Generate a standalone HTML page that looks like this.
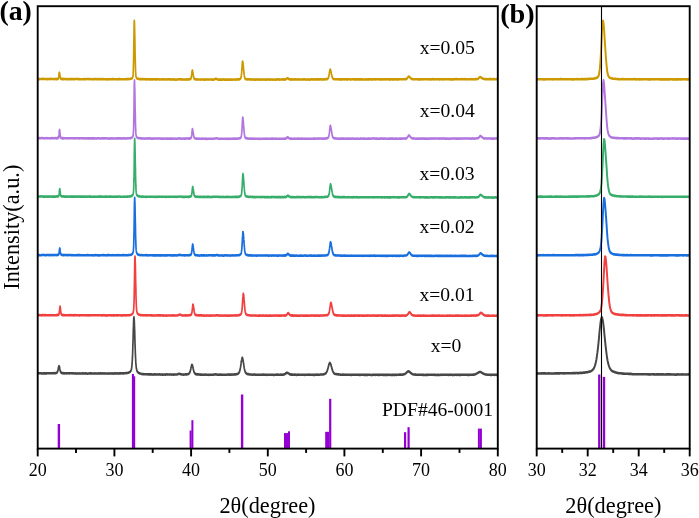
<!DOCTYPE html>
<html><head><meta charset="utf-8"><title>XRD</title><style>html,body{margin:0;padding:0;background:#fff}svg{display:block}</style></head><body>
<svg width="699" height="518" viewBox="0 0 699 518">
<rect width="699" height="518" fill="#fff"/>
<rect x="57.7" y="424.0" width="2.4" height="24.6" fill="#9400D3"/>
<rect x="131.9" y="374.0" width="2.1" height="74.6" fill="#9400D3"/>
<rect x="133.9" y="376.3" width="1.3" height="72.3" fill="#9400D3"/>
<rect x="189.6" y="430.5" width="2.0" height="18.1" fill="#9400D3"/>
<rect x="191.4" y="420.2" width="2.0" height="28.4" fill="#9400D3"/>
<rect x="240.9" y="394.5" width="2.4" height="54.1" fill="#9400D3"/>
<rect x="284.0" y="433.1" width="2.0" height="15.5" fill="#9400D3"/>
<rect x="286.0" y="433.1" width="2.0" height="15.5" fill="#9400D3"/>
<rect x="288.0" y="431.3" width="2.0" height="17.3" fill="#9400D3"/>
<rect x="325.2" y="431.8" width="2.0" height="16.8" fill="#9400D3"/>
<rect x="327.0" y="431.8" width="2.0" height="16.8" fill="#9400D3"/>
<rect x="329.1" y="398.8" width="2.2" height="49.8" fill="#9400D3"/>
<rect x="404.0" y="432.2" width="2.2" height="16.4" fill="#9400D3"/>
<rect x="407.5" y="427.2" width="2.2" height="21.4" fill="#9400D3"/>
<rect x="477.9" y="428.6" width="2.0" height="20.0" fill="#9400D3"/>
<rect x="479.9" y="428.6" width="2.0" height="20.0" fill="#9400D3"/>
<rect x="598.1" y="374.5" width="2.3" height="74.1" fill="#9400D3"/>
<rect x="602.8" y="376.9" width="2.4" height="71.7" fill="#9400D3"/>
<g transform="scale(0.650,1)"><path d="M58.0,373.4 L58.5,373.3 L58.9,373.3 L59.4,373.3 L59.9,373.3 L60.4,373.3 L60.8,373.3 L61.3,373.3 L61.8,373.3 L62.2,373.3 L62.7,373.3 L63.2,373.3 L63.7,373.4 L64.1,373.4 L64.6,373.5 L65.1,373.5 L65.6,373.5 L66.0,373.4 L66.5,373.4 L67.0,373.3 L67.4,373.4 L67.9,373.4 L68.4,373.4 L68.9,373.4 L69.3,373.4 L69.8,373.4 L70.3,373.4 L70.7,373.4 L71.2,373.4 L71.7,373.4 L72.2,373.3 L72.6,373.3 L73.1,373.3 L73.6,373.3 L74.0,373.3 L74.5,373.3 L75.0,373.3 L75.5,373.3 L75.9,373.3 L76.4,373.3 L76.9,373.3 L77.3,373.3 L77.8,373.3 L78.3,373.3 L78.8,373.2 L79.2,373.2 L79.7,373.2 L80.2,373.3 L80.7,373.3 L81.1,373.2 L81.6,373.2 L82.1,373.2 L82.5,373.2 L83.0,373.1 L83.5,373.1 L84.0,373.2 L84.4,373.2 L84.9,373.2 L85.0,373.2 L85.1,373.2 L85.3,373.2 L85.4,373.1 L85.5,373.1 L85.6,373.1 L85.7,373.1 L85.8,373.1 L86.0,373.1 L86.1,373.1 L86.2,373.1 L86.3,373.0 L86.4,372.9 L86.5,372.9 L86.7,372.9 L86.8,372.9 L86.9,372.9 L87.0,372.8 L87.1,372.8 L87.3,372.8 L87.4,372.7 L87.5,372.7 L87.6,372.6 L87.7,372.6 L87.8,372.5 L88.0,372.3 L88.1,372.1 L88.2,372.0 L88.3,371.9 L88.4,371.7 L88.6,371.5 L88.7,371.3 L88.8,371.0 L88.9,370.8 L89.0,370.6 L89.1,370.3 L89.3,370.0 L89.4,369.7 L89.5,369.3 L89.6,368.8 L89.7,368.3 L89.9,367.9 L90.0,367.5 L90.1,367.2 L90.2,366.9 L90.3,366.5 L90.4,366.3 L90.6,366.1 L90.7,366.0 L90.8,366.0 L90.9,366.0 L91.0,366.2 L91.2,366.3 L91.3,366.6 L91.4,366.8 L91.5,367.1 L91.6,367.5 L91.7,367.8 L91.9,368.2 L92.0,368.7 L92.1,369.1 L92.2,369.5 L92.3,369.9 L92.4,370.2 L92.6,370.5 L92.7,370.8 L92.8,371.1 L92.9,371.3 L93.0,371.5 L93.2,371.7 L93.3,371.9 L93.4,372.0 L93.5,372.1 L93.6,372.2 L93.7,372.3 L93.9,372.5 L94.0,372.6 L94.1,372.7 L94.2,372.7 L94.3,372.8 L94.5,372.8 L94.6,372.9 L94.7,373.0 L94.8,373.0 L94.9,372.9 L95.0,372.9 L95.2,372.9 L95.3,373.0 L95.4,373.1 L95.5,373.1 L95.6,373.1 L95.8,373.1 L95.9,373.1 L96.0,373.2 L96.1,373.2 L96.2,373.2 L96.3,373.1 L96.5,373.2 L96.6,373.2 L96.7,373.2 L96.8,373.2 L96.9,373.2 L97.0,373.3 L97.2,373.3 L97.3,373.3 L97.4,373.2 L97.5,373.2 L97.6,373.2 L97.8,373.3 L97.9,373.2 L98.1,373.3 L98.6,373.3 L99.1,373.4 L99.5,373.3 L100.0,373.3 L100.5,373.3 L100.9,373.3 L101.4,373.3 L101.9,373.3 L102.4,373.4 L102.8,373.3 L103.3,373.3 L103.8,373.3 L104.2,373.3 L104.7,373.3 L105.2,373.3 L105.7,373.3 L106.1,373.4 L106.6,373.4 L107.1,373.3 L107.5,373.3 L108.0,373.3 L108.5,373.3 L109.0,373.3 L109.4,373.3 L109.9,373.3 L110.4,373.3 L110.9,373.3 L111.3,373.4 L111.8,373.3 L112.3,373.3 L112.7,373.2 L113.2,373.2 L113.7,373.3 L114.2,373.4 L114.6,373.5 L115.1,373.5 L115.6,373.4 L116.0,373.4 L116.5,373.5 L117.0,373.5 L117.5,373.5 L117.9,373.5 L118.4,373.4 L118.9,373.4 L119.3,373.5 L119.8,373.5 L120.3,373.5 L120.8,373.5 L121.2,373.5 L121.7,373.5 L122.2,373.5 L122.6,373.4 L123.1,373.4 L123.6,373.5 L124.1,373.5 L124.5,373.5 L125.0,373.5 L125.5,373.5 L126.0,373.5 L126.4,373.4 L126.9,373.4 L127.4,373.3 L127.8,373.4 L128.3,373.4 L128.8,373.5 L129.3,373.5 L129.7,373.5 L130.2,373.5 L130.7,373.4 L131.1,373.4 L131.6,373.4 L132.1,373.4 L132.6,373.4 L133.0,373.5 L133.5,373.6 L134.0,373.7 L134.4,373.7 L134.9,373.7 L135.4,373.6 L135.9,373.5 L136.3,373.5 L136.8,373.5 L137.3,373.5 L137.8,373.4 L138.2,373.4 L138.7,373.4 L139.2,373.4 L139.6,373.4 L140.1,373.4 L140.6,373.4 L141.1,373.4 L141.5,373.5 L142.0,373.5 L142.5,373.5 L142.9,373.5 L143.4,373.5 L143.9,373.5 L144.4,373.5 L144.8,373.5 L145.3,373.4 L145.8,373.4 L146.2,373.4 L146.7,373.5 L147.2,373.5 L147.7,373.6 L148.1,373.5 L148.6,373.5 L149.1,373.5 L149.5,373.5 L150.0,373.5 L150.5,373.5 L151.0,373.4 L151.4,373.4 L151.9,373.4 L152.4,373.4 L152.9,373.5 L153.3,373.5 L153.8,373.5 L154.3,373.4 L154.7,373.4 L155.2,373.4 L155.7,373.4 L156.2,373.4 L156.6,373.5 L157.1,373.5 L157.6,373.5 L158.0,373.4 L158.5,373.4 L159.0,373.4 L159.5,373.5 L159.9,373.5 L160.4,373.5 L160.9,373.4 L161.3,373.4 L161.8,373.5 L162.3,373.5 L162.8,373.5 L163.2,373.5 L163.7,373.5 L164.2,373.5 L164.6,373.5 L165.1,373.5 L165.6,373.5 L166.1,373.6 L166.5,373.6 L167.0,373.5 L167.5,373.5 L168.0,373.5 L168.4,373.4 L168.9,373.4 L169.4,373.5 L169.8,373.5 L170.3,373.5 L170.8,373.5 L171.3,373.5 L171.7,373.4 L172.2,373.4 L172.7,373.4 L173.1,373.5 L173.6,373.6 L174.1,373.6 L174.6,373.6 L175.0,373.5 L175.5,373.5 L176.0,373.4 L176.4,373.4 L176.9,373.4 L177.4,373.3 L177.9,373.3 L178.3,373.4 L178.8,373.4 L179.3,373.5 L179.7,373.5 L180.2,373.4 L180.7,373.4 L181.2,373.4 L181.6,373.5 L182.1,373.5 L182.6,373.5 L183.1,373.4 L183.5,373.4 L184.0,373.4 L184.5,373.4 L184.9,373.4 L185.4,373.4 L185.9,373.4 L186.4,373.3 L186.8,373.3 L187.3,373.2 L187.8,373.3 L188.2,373.3 L188.7,373.4 L189.2,373.4 L189.7,373.4 L190.1,373.4 L190.6,373.3 L191.1,373.3 L191.5,373.3 L192.0,373.3 L192.5,373.3 L193.0,373.2 L193.4,373.1 L193.9,373.0 L194.4,373.0 L194.9,373.1 L195.3,373.1 L195.8,373.0 L196.3,373.0 L196.7,372.9 L197.2,372.8 L197.7,372.7 L198.2,372.5 L198.6,372.4 L199.1,372.2 L199.6,372.1 L200.0,371.9 L200.2,371.8 L200.3,371.8 L200.4,371.7 L200.5,371.7 L200.5,371.6 L200.7,371.5 L200.8,371.3 L200.9,371.2 L201.0,371.2 L201.0,371.2 L201.1,371.1 L201.3,370.9 L201.4,370.7 L201.5,370.6 L201.5,370.5 L201.6,370.4 L201.7,370.2 L201.8,370.0 L201.9,369.8 L202.0,369.7 L202.1,369.4 L202.2,369.0 L202.3,368.6 L202.4,368.3 L202.4,368.2 L202.6,367.7 L202.7,367.2 L202.8,366.5 L202.9,366.0 L202.9,365.7 L203.0,365.0 L203.1,364.2 L203.3,363.2 L203.3,362.4 L203.4,362.0 L203.5,360.7 L203.6,359.3 L203.7,357.8 L203.8,356.6 L203.9,356.1 L204.0,354.3 L204.1,352.3 L204.2,350.1 L204.3,348.6 L204.3,347.9 L204.4,345.5 L204.6,342.9 L204.7,340.3 L204.8,338.4 L204.8,337.6 L204.9,334.9 L205.0,332.2 L205.1,329.5 L205.2,327.7 L205.3,326.9 L205.4,324.5 L205.5,322.4 L205.6,320.6 L205.7,319.6 L205.7,319.2 L205.9,318.1 L206.0,317.4 L206.1,317.2 L206.2,317.3 L206.2,317.5 L206.3,318.1 L206.4,319.1 L206.6,320.4 L206.6,321.6 L206.7,322.1 L206.8,324.1 L206.9,326.2 L207.0,328.6 L207.1,330.3 L207.2,331.0 L207.3,333.5 L207.4,336.1 L207.5,338.7 L207.6,340.5 L207.6,341.3 L207.7,343.8 L207.9,346.2 L208.0,348.5 L208.1,350.0 L208.1,350.7 L208.2,352.7 L208.3,354.7 L208.5,356.5 L208.5,357.7 L208.6,358.0 L208.7,359.5 L208.8,360.9 L208.9,362.2 L209.0,362.9 L209.0,363.2 L209.2,364.3 L209.3,365.2 L209.4,366.1 L209.5,366.7 L209.5,366.8 L209.6,367.4 L209.8,367.9 L209.9,368.5 L210.0,368.8 L210.0,368.9 L210.1,369.3 L210.2,369.7 L210.3,370.0 L210.4,370.2 L210.5,370.2 L210.6,370.5 L210.7,370.7 L210.8,370.9 L210.9,371.0 L210.9,371.0 L211.0,371.1 L211.2,371.4 L211.3,371.6 L211.4,371.7 L211.4,371.7 L211.5,371.8 L211.6,371.8 L211.8,372.0 L211.8,372.0 L211.9,372.0 L212.0,372.0 L212.1,372.1 L212.2,372.1 L212.3,372.3 L212.3,372.4 L212.5,372.5 L212.6,372.5 L212.7,372.6 L212.8,372.6 L212.8,372.6 L212.9,372.7 L213.1,372.7 L213.2,372.8 L213.3,372.8 L213.7,373.1 L214.2,373.2 L214.7,373.3 L215.1,373.4 L215.6,373.5 L216.1,373.6 L216.6,373.7 L217.0,373.8 L217.5,373.9 L218.0,374.0 L218.4,374.0 L218.9,374.1 L219.4,374.1 L219.9,374.1 L220.3,374.1 L220.8,374.2 L221.3,374.2 L221.7,374.3 L222.2,374.3 L222.7,374.3 L223.2,374.3 L223.6,374.3 L224.1,374.3 L224.6,374.3 L225.1,374.3 L225.5,374.3 L226.0,374.3 L226.5,374.4 L226.9,374.3 L227.4,374.3 L227.9,374.3 L228.4,374.4 L228.8,374.4 L229.3,374.4 L229.8,374.3 L230.2,374.4 L230.7,374.4 L231.2,374.4 L231.7,374.4 L232.1,374.3 L232.6,374.3 L233.1,374.4 L233.5,374.4 L234.0,374.5 L234.5,374.5 L235.0,374.6 L235.4,374.6 L235.9,374.6 L236.4,374.5 L236.8,374.5 L237.3,374.4 L237.8,374.4 L238.3,374.4 L238.7,374.3 L239.2,374.3 L239.7,374.4 L240.2,374.5 L240.6,374.6 L241.1,374.5 L241.6,374.5 L242.0,374.4 L242.5,374.4 L243.0,374.5 L243.5,374.5 L243.9,374.5 L244.4,374.4 L244.9,374.4 L245.3,374.4 L245.8,374.4 L246.3,374.5 L246.8,374.5 L247.2,374.6 L247.7,374.6 L248.2,374.5 L248.6,374.5 L249.1,374.6 L249.6,374.6 L250.1,374.6 L250.5,374.7 L251.0,374.7 L251.5,374.7 L251.9,374.6 L252.4,374.5 L252.9,374.5 L253.4,374.5 L253.8,374.6 L254.3,374.6 L254.8,374.6 L255.3,374.6 L255.7,374.5 L256.2,374.4 L256.7,374.4 L257.1,374.4 L257.6,374.4 L258.1,374.5 L258.6,374.5 L259.0,374.5 L259.5,374.5 L260.0,374.5 L260.4,374.4 L260.9,374.5 L261.4,374.5 L261.9,374.5 L262.3,374.5 L262.8,374.5 L263.3,374.5 L263.7,374.6 L264.2,374.6 L264.7,374.5 L265.2,374.5 L265.6,374.5 L266.1,374.6 L266.6,374.6 L267.1,374.6 L267.5,374.6 L268.0,374.6 L268.5,374.5 L268.9,374.5 L269.4,374.5 L269.9,374.5 L270.4,374.5 L270.8,374.5 L271.3,374.5 L271.8,374.5 L272.2,374.5 L272.7,374.4 L273.2,374.3 L273.7,374.1 L274.1,374.0 L274.6,373.9 L275.1,373.8 L275.5,373.8 L276.0,373.8 L276.5,374.0 L277.0,374.1 L277.4,374.1 L277.9,374.2 L278.4,374.2 L278.8,374.3 L279.3,374.4 L279.8,374.4 L280.3,374.5 L280.7,374.5 L281.2,374.5 L281.7,374.6 L282.2,374.6 L282.6,374.6 L283.1,374.6 L283.6,374.5 L284.0,374.5 L284.5,374.5 L285.0,374.4 L285.5,374.4 L285.9,374.4 L286.4,374.4 L286.9,374.4 L287.3,374.4 L287.8,374.3 L288.3,374.2 L288.8,374.2 L289.2,374.2 L289.5,374.1 L289.6,374.1 L289.7,374.1 L289.8,374.1 L289.9,374.0 L290.1,373.9 L290.2,373.8 L290.3,373.7 L290.4,373.7 L290.5,373.7 L290.6,373.6 L290.8,373.6 L290.9,373.5 L291.0,373.4 L291.1,373.3 L291.2,373.2 L291.4,373.1 L291.5,373.0 L291.6,372.8 L291.7,372.7 L291.8,372.7 L291.9,372.6 L292.1,372.4 L292.2,372.2 L292.3,371.9 L292.4,371.7 L292.5,371.5 L292.7,371.3 L292.8,371.0 L292.9,370.8 L293.0,370.4 L293.1,370.2 L293.2,369.8 L293.4,369.5 L293.5,369.0 L293.6,368.6 L293.7,368.1 L293.8,367.8 L293.9,367.5 L294.1,367.3 L294.2,366.9 L294.3,366.6 L294.4,366.2 L294.5,365.9 L294.7,365.6 L294.8,365.3 L294.9,365.1 L295.0,364.9 L295.1,364.8 L295.2,364.7 L295.4,364.7 L295.5,364.8 L295.6,364.9 L295.7,365.0 L295.8,365.0 L296.0,365.1 L296.1,365.2 L296.2,365.5 L296.3,365.9 L296.4,366.2 L296.5,366.6 L296.7,366.9 L296.8,367.3 L296.9,367.7 L297.0,368.0 L297.1,368.4 L297.3,368.8 L297.4,369.1 L297.5,369.4 L297.6,369.7 L297.7,370.0 L297.8,370.4 L298.0,370.7 L298.1,371.0 L298.2,371.3 L298.3,371.5 L298.4,371.7 L298.5,371.9 L298.7,372.1 L298.8,372.3 L298.9,372.5 L299.0,372.7 L299.1,372.8 L299.3,373.0 L299.4,373.2 L299.5,373.3 L299.6,373.4 L299.7,373.4 L299.8,373.4 L300.0,373.5 L300.1,373.6 L300.2,373.7 L300.3,373.8 L300.4,373.8 L300.6,373.9 L300.7,374.0 L300.8,374.1 L300.9,374.1 L301.0,374.2 L301.1,374.1 L301.3,374.1 L301.4,374.0 L301.5,374.1 L301.6,374.2 L301.7,374.3 L301.9,374.3 L302.0,374.3 L302.1,374.3 L302.2,374.3 L302.3,374.3 L302.4,374.4 L302.9,374.4 L303.4,374.4 L303.9,374.4 L304.3,374.4 L304.8,374.4 L305.3,374.4 L305.7,374.4 L306.2,374.4 L306.7,374.5 L307.2,374.6 L307.6,374.6 L308.1,374.6 L308.6,374.6 L309.0,374.6 L309.5,374.6 L310.0,374.6 L310.5,374.6 L310.9,374.7 L311.4,374.7 L311.9,374.7 L312.4,374.7 L312.8,374.7 L313.3,374.7 L313.8,374.7 L314.2,374.7 L314.7,374.7 L315.2,374.6 L315.7,374.6 L316.1,374.5 L316.6,374.6 L317.1,374.7 L317.5,374.7 L318.0,374.7 L318.5,374.7 L319.0,374.7 L319.4,374.8 L319.9,374.8 L320.4,374.8 L320.8,374.8 L321.3,374.9 L321.8,374.8 L322.3,374.8 L322.7,374.8 L323.2,374.8 L323.7,374.8 L324.2,374.7 L324.6,374.7 L325.1,374.7 L325.6,374.7 L326.0,374.7 L326.5,374.7 L327.0,374.8 L327.5,374.8 L327.9,374.7 L328.4,374.6 L328.9,374.6 L329.3,374.5 L329.8,374.5 L330.3,374.5 L330.8,374.4 L331.2,374.4 L331.7,374.3 L332.2,374.3 L332.6,374.4 L333.1,374.5 L333.6,374.6 L334.1,374.6 L334.5,374.7 L335.0,374.8 L335.5,374.8 L335.9,374.7 L336.4,374.7 L336.9,374.6 L337.4,374.7 L337.8,374.7 L338.3,374.7 L338.8,374.6 L339.3,374.6 L339.7,374.6 L340.2,374.6 L340.7,374.7 L341.1,374.7 L341.6,374.7 L342.1,374.7 L342.6,374.7 L343.0,374.7 L343.5,374.7 L344.0,374.7 L344.4,374.7 L344.9,374.7 L345.4,374.8 L345.9,374.8 L346.3,374.7 L346.8,374.7 L347.3,374.7 L347.7,374.7 L348.2,374.7 L348.7,374.7 L349.2,374.7 L349.6,374.7 L350.1,374.6 L350.6,374.5 L351.0,374.5 L351.5,374.6 L352.0,374.6 L352.5,374.6 L352.9,374.6 L353.4,374.6 L353.9,374.6 L354.4,374.6 L354.8,374.6 L355.3,374.5 L355.8,374.6 L356.2,374.6 L356.7,374.6 L357.2,374.5 L357.7,374.5 L358.1,374.6 L358.6,374.6 L359.1,374.6 L359.5,374.5 L360.0,374.5 L360.5,374.4 L361.0,374.4 L361.4,374.4 L361.9,374.4 L362.4,374.4 L362.8,374.3 L363.3,374.2 L363.8,374.2 L364.3,374.1 L364.7,374.1 L365.2,374.0 L365.7,373.9 L366.1,373.7 L366.6,373.6 L366.9,373.4 L367.0,373.3 L367.1,373.2 L367.2,373.1 L367.3,373.0 L367.4,372.9 L367.6,372.9 L367.7,372.7 L367.8,372.6 L367.9,372.5 L368.0,372.4 L368.2,372.2 L368.3,372.0 L368.4,371.8 L368.5,371.6 L368.6,371.3 L368.7,371.0 L368.9,370.8 L369.0,370.4 L369.1,370.2 L369.2,369.8 L369.3,369.6 L369.5,369.2 L369.6,368.8 L369.7,368.4 L369.8,368.1 L369.9,367.7 L370.0,367.3 L370.2,366.8 L370.3,366.2 L370.4,365.7 L370.5,365.2 L370.6,364.7 L370.8,364.1 L370.9,363.6 L371.0,363.1 L371.1,362.6 L371.2,362.1 L371.3,361.5 L371.5,361.0 L371.6,360.5 L371.7,360.1 L371.8,359.6 L371.9,359.3 L372.0,358.9 L372.2,358.6 L372.3,358.3 L372.4,358.0 L372.5,357.8 L372.6,357.8 L372.8,357.7 L372.9,357.8 L373.0,357.9 L373.1,358.0 L373.2,358.2 L373.3,358.5 L373.5,358.8 L373.6,359.1 L373.7,359.5 L373.8,359.9 L373.9,360.3 L374.1,360.7 L374.2,361.2 L374.3,361.7 L374.4,362.2 L374.5,362.7 L374.6,363.1 L374.8,363.6 L374.9,364.1 L375.0,364.6 L375.1,365.2 L375.2,365.7 L375.4,366.3 L375.5,366.7 L375.6,367.2 L375.7,367.7 L375.8,368.1 L375.9,368.6 L376.1,369.0 L376.2,369.4 L376.3,369.7 L376.4,370.0 L376.5,370.3 L376.6,370.6 L376.8,370.9 L376.9,371.2 L377.0,371.5 L377.1,371.7 L377.2,371.9 L377.4,372.0 L377.5,372.1 L377.6,372.3 L377.7,372.4 L377.8,372.6 L377.9,372.7 L378.1,372.8 L378.2,372.9 L378.3,372.9 L378.4,373.0 L378.5,373.1 L378.7,373.3 L378.8,373.4 L378.9,373.4 L379.0,373.5 L379.1,373.5 L379.2,373.5 L379.4,373.6 L379.5,373.7 L379.6,373.8 L379.7,373.8 L379.8,373.8 L380.3,374.0 L380.8,374.1 L381.2,374.2 L381.7,374.1 L382.2,374.1 L382.7,374.2 L383.1,374.4 L383.6,374.4 L384.1,374.5 L384.6,374.5 L385.0,374.5 L385.5,374.5 L386.0,374.5 L386.4,374.5 L386.9,374.6 L387.4,374.7 L387.9,374.8 L388.3,374.8 L388.8,374.7 L389.3,374.7 L389.7,374.6 L390.2,374.5 L390.7,374.5 L391.2,374.5 L391.6,374.6 L392.1,374.6 L392.6,374.6 L393.0,374.7 L393.5,374.8 L394.0,374.8 L394.5,374.8 L394.9,374.8 L395.4,374.8 L395.9,374.8 L396.4,374.8 L396.8,374.7 L397.3,374.7 L397.8,374.7 L398.2,374.7 L398.7,374.7 L399.2,374.8 L399.7,374.8 L400.1,374.8 L400.6,374.8 L401.1,374.8 L401.5,374.8 L402.0,374.8 L402.5,374.7 L403.0,374.7 L403.4,374.7 L403.9,374.6 L404.4,374.6 L404.8,374.7 L405.3,374.7 L405.8,374.6 L406.3,374.6 L406.7,374.7 L407.2,374.8 L407.7,374.8 L408.1,374.8 L408.6,374.8 L409.1,374.8 L409.6,374.8 L410.0,374.8 L410.5,374.9 L411.0,374.8 L411.5,374.8 L411.9,374.8 L412.4,374.7 L412.9,374.7 L413.3,374.7 L413.8,374.7 L414.3,374.8 L414.8,374.8 L415.2,374.8 L415.7,374.8 L416.2,374.8 L416.6,374.7 L417.1,374.8 L417.6,374.8 L418.1,374.8 L418.5,374.8 L419.0,374.8 L419.5,374.8 L419.9,374.8 L420.4,374.9 L420.9,374.9 L421.4,375.0 L421.8,374.9 L422.3,374.8 L422.8,374.7 L423.2,374.8 L423.7,374.8 L424.2,374.8 L424.7,374.7 L425.1,374.7 L425.6,374.6 L426.1,374.6 L426.6,374.6 L427.0,374.6 L427.5,374.6 L428.0,374.7 L428.4,374.7 L428.9,374.8 L429.4,374.8 L429.9,374.8 L430.3,374.8 L430.8,374.7 L431.3,374.7 L431.7,374.6 L432.2,374.7 L432.7,374.7 L433.2,374.7 L433.6,374.6 L434.1,374.6 L434.6,374.7 L435.0,374.7 L435.5,374.7 L435.8,374.7 L435.9,374.6 L436.0,374.6 L436.1,374.6 L436.2,374.6 L436.3,374.5 L436.5,374.5 L436.6,374.5 L436.7,374.5 L436.8,374.5 L436.9,374.5 L437.1,374.4 L437.2,374.4 L437.3,374.4 L437.4,374.3 L437.5,374.3 L437.6,374.3 L437.8,374.2 L437.9,374.2 L438.0,374.2 L438.1,374.2 L438.2,374.1 L438.3,374.1 L438.5,374.0 L438.6,373.9 L438.7,373.8 L438.8,373.7 L438.9,373.7 L439.1,373.6 L439.2,373.5 L439.3,373.4 L439.4,373.4 L439.5,373.4 L439.6,373.4 L439.8,373.4 L439.9,373.3 L440.0,373.3 L440.1,373.3 L440.2,373.2 L440.4,373.2 L440.5,373.1 L440.6,373.0 L440.7,372.9 L440.8,372.9 L440.9,372.9 L441.1,372.9 L441.2,372.9 L441.3,372.8 L441.4,372.8 L441.5,372.7 L441.7,372.7 L441.8,372.8 L441.9,372.9 L442.0,373.0 L442.1,373.0 L442.2,372.9 L442.4,372.9 L442.5,372.9 L442.6,373.0 L442.7,373.0 L442.8,373.0 L443.0,373.1 L443.1,373.1 L443.2,373.2 L443.3,373.2 L443.4,373.2 L443.5,373.2 L443.7,373.2 L443.8,373.3 L443.9,373.4 L444.0,373.5 L444.1,373.6 L444.2,373.7 L444.4,373.7 L444.5,373.7 L444.6,373.8 L444.7,373.8 L444.8,373.9 L445.0,373.9 L445.1,373.9 L445.2,373.9 L445.3,374.0 L445.4,374.0 L445.5,374.2 L445.7,374.3 L445.8,374.3 L445.9,374.4 L446.0,374.3 L446.1,374.3 L446.3,374.3 L446.4,374.3 L446.5,374.4 L446.6,374.4 L446.7,374.4 L446.8,374.5 L447.0,374.5 L447.1,374.5 L447.2,374.5 L447.3,374.5 L447.4,374.6 L447.6,374.6 L447.7,374.6 L447.8,374.6 L447.9,374.6 L448.0,374.5 L448.1,374.5 L448.3,374.5 L448.4,374.5 L448.5,374.5 L448.6,374.6 L448.7,374.6 L449.2,374.6 L449.7,374.6 L450.1,374.6 L450.6,374.7 L451.1,374.7 L451.6,374.7 L452.0,374.7 L452.5,374.6 L453.0,374.6 L453.5,374.6 L453.9,374.6 L454.4,374.7 L454.9,374.7 L455.3,374.9 L455.8,374.9 L456.3,374.9 L456.8,374.8 L457.2,374.7 L457.7,374.7 L458.2,374.6 L458.6,374.6 L459.1,374.7 L459.6,374.7 L460.1,374.8 L460.5,374.8 L461.0,374.8 L461.5,374.8 L461.9,374.8 L462.4,374.8 L462.9,374.8 L463.4,374.8 L463.8,374.8 L464.3,374.8 L464.8,374.7 L465.2,374.7 L465.7,374.8 L466.2,374.8 L466.7,374.8 L467.1,374.8 L467.6,374.8 L468.1,374.8 L468.6,374.9 L469.0,374.9 L469.5,374.8 L470.0,374.7 L470.4,374.7 L470.9,374.7 L471.4,374.7 L471.9,374.7 L472.3,374.7 L472.8,374.7 L473.3,374.8 L473.7,374.8 L474.2,374.7 L474.7,374.6 L475.2,374.6 L475.6,374.6 L476.1,374.7 L476.6,374.7 L477.0,374.8 L477.5,374.8 L478.0,374.8 L478.5,374.7 L478.9,374.7 L479.4,374.7 L479.9,374.7 L480.3,374.8 L480.8,374.8 L481.3,374.8 L481.8,374.9 L482.2,374.9 L482.7,374.9 L483.2,374.9 L483.7,374.9 L484.1,374.9 L484.6,374.9 L485.1,374.7 L485.5,374.7 L486.0,374.6 L486.5,374.7 L487.0,374.7 L487.4,374.7 L487.9,374.7 L488.4,374.6 L488.8,374.6 L489.3,374.7 L489.8,374.7 L490.3,374.7 L490.7,374.7 L491.2,374.7 L491.7,374.7 L492.1,374.7 L492.6,374.6 L493.1,374.5 L493.6,374.5 L494.0,374.5 L494.5,374.5 L495.0,374.5 L495.4,374.5 L495.9,374.5 L496.4,374.5 L496.9,374.5 L497.3,374.4 L497.8,374.3 L498.3,374.1 L498.8,374.1 L499.2,374.0 L499.7,373.9 L500.2,373.7 L500.6,373.5 L501.1,373.3 L501.6,373.0 L501.7,373.0 L501.8,372.9 L501.9,372.8 L502.1,372.6 L502.2,372.4 L502.3,372.2 L502.4,372.1 L502.5,372.0 L502.6,371.8 L502.8,371.6 L502.9,371.5 L503.0,371.4 L503.1,371.3 L503.2,371.2 L503.4,371.0 L503.5,370.8 L503.6,370.5 L503.7,370.3 L503.8,370.0 L503.9,369.6 L504.1,369.3 L504.2,369.0 L504.3,368.8 L504.4,368.6 L504.5,368.4 L504.7,368.1 L504.8,367.8 L504.9,367.5 L505.0,367.3 L505.1,366.9 L505.2,366.6 L505.4,366.2 L505.5,366.0 L505.6,365.7 L505.7,365.5 L505.8,365.2 L505.9,364.8 L506.1,364.5 L506.2,364.2 L506.3,363.9 L506.4,363.8 L506.5,363.6 L506.7,363.4 L506.8,363.2 L506.9,363.1 L507.0,363.0 L507.1,362.9 L507.2,362.9 L507.4,362.9 L507.5,363.0 L507.6,363.0 L507.7,363.0 L507.8,363.0 L508.0,363.1 L508.1,363.2 L508.2,363.3 L508.3,363.5 L508.4,363.7 L508.5,363.8 L508.7,363.9 L508.8,364.1 L508.9,364.3 L509.0,364.6 L509.1,364.8 L509.3,365.1 L509.4,365.4 L509.5,365.8 L509.6,366.0 L509.7,366.2 L509.8,366.5 L510.0,366.8 L510.1,367.1 L510.2,367.5 L510.3,367.8 L510.4,368.1 L510.5,368.3 L510.7,368.5 L510.8,368.8 L510.9,369.0 L511.0,369.2 L511.1,369.5 L511.3,369.8 L511.4,370.1 L511.5,370.4 L511.6,370.6 L511.7,370.7 L511.8,370.9 L512.0,371.1 L512.1,371.3 L512.2,371.5 L512.3,371.7 L512.4,371.9 L512.6,372.0 L512.7,372.1 L512.8,372.2 L512.9,372.4 L513.0,372.5 L513.1,372.6 L513.3,372.7 L513.4,372.7 L513.5,372.7 L513.6,372.9 L513.7,373.1 L513.9,373.2 L514.0,373.4 L514.1,373.5 L514.2,373.5 L514.3,373.5 L514.4,373.6 L514.6,373.6 L514.8,373.7 L515.3,373.9 L515.7,374.0 L516.2,374.0 L516.7,374.0 L517.2,374.1 L517.6,374.1 L518.1,374.2 L518.6,374.3 L519.0,374.3 L519.5,374.3 L520.0,374.4 L520.5,374.4 L520.9,374.4 L521.4,374.4 L521.9,374.5 L522.3,374.5 L522.8,374.6 L523.3,374.6 L523.8,374.7 L524.2,374.7 L524.7,374.7 L525.2,374.7 L525.7,374.7 L526.1,374.7 L526.6,374.6 L527.1,374.6 L527.5,374.6 L528.0,374.6 L528.5,374.7 L529.0,374.7 L529.4,374.7 L529.9,374.7 L530.4,374.7 L530.8,374.7 L531.3,374.6 L531.8,374.7 L532.3,374.7 L532.7,374.7 L533.2,374.7 L533.7,374.7 L534.1,374.7 L534.6,374.7 L535.1,374.7 L535.6,374.7 L536.0,374.8 L536.5,374.8 L537.0,374.8 L537.4,374.7 L537.9,374.8 L538.4,374.8 L538.9,374.8 L539.3,374.8 L539.8,374.9 L540.3,374.9 L540.8,374.9 L541.2,374.9 L541.7,374.8 L542.2,374.8 L542.6,374.8 L543.1,374.8 L543.6,374.7 L544.1,374.7 L544.5,374.7 L545.0,374.8 L545.5,374.8 L545.9,374.8 L546.4,374.7 L546.9,374.7 L547.4,374.8 L547.8,374.8 L548.3,374.8 L548.8,374.8 L549.2,374.8 L549.7,374.8 L550.2,374.8 L550.7,374.8 L551.1,374.8 L551.6,374.8 L552.1,374.8 L552.5,374.9 L553.0,374.9 L553.5,374.9 L554.0,374.9 L554.4,374.9 L554.9,374.8 L555.4,374.8 L555.9,374.7 L556.3,374.7 L556.8,374.7 L557.3,374.7 L557.7,374.7 L558.2,374.7 L558.7,374.8 L559.2,374.8 L559.6,374.8 L560.1,374.9 L560.6,374.9 L561.0,374.9 L561.5,374.9 L562.0,374.9 L562.5,374.9 L562.9,374.9 L563.4,374.9 L563.9,374.9 L564.3,374.9 L564.8,374.9 L565.3,374.9 L565.8,374.9 L566.2,374.8 L566.7,374.8 L567.2,374.8 L567.6,374.8 L568.1,374.8 L568.6,374.8 L569.1,374.8 L569.5,374.8 L570.0,374.9 L570.5,374.9 L571.0,375.0 L571.4,375.0 L571.9,375.0 L572.4,374.9 L572.8,374.9 L573.3,374.9 L573.8,374.9 L574.3,374.8 L574.7,374.8 L575.2,374.8 L575.7,374.8 L576.1,374.8 L576.6,374.8 L577.1,374.8 L577.6,374.9 L578.0,374.9 L578.5,374.8 L579.0,374.8 L579.4,374.8 L579.9,374.8 L580.4,374.8 L580.9,374.8 L581.3,374.9 L581.8,374.9 L582.3,374.9 L582.7,374.8 L583.2,374.8 L583.7,374.8 L584.2,374.9 L584.6,374.9 L585.1,374.8 L585.6,374.8 L586.1,374.7 L586.5,374.7 L587.0,374.7 L587.5,374.7 L587.9,374.8 L588.4,374.8 L588.9,374.9 L589.4,374.9 L589.8,374.9 L590.3,374.9 L590.8,374.9 L591.2,374.9 L591.7,374.9 L592.2,374.9 L592.7,374.9 L593.1,374.9 L593.6,374.9 L594.1,374.9 L594.5,374.9 L595.0,374.9 L595.5,374.8 L596.0,374.9 L596.4,374.9 L596.9,374.9 L597.4,374.8 L597.9,374.8 L598.3,374.8 L598.8,374.7 L599.3,374.8 L599.7,374.8 L600.2,374.9 L600.7,374.9 L601.2,375.0 L601.6,375.0 L602.1,374.9 L602.6,374.9 L603.0,374.9 L603.5,374.9 L604.0,374.9 L604.5,374.9 L604.9,374.9 L605.4,374.9 L605.9,374.9 L606.3,374.9 L606.8,374.9 L607.3,374.9 L607.8,374.8 L608.2,374.8 L608.7,374.8 L609.2,374.9 L609.6,374.9 L610.1,374.9 L610.6,374.8 L611.1,374.8 L611.5,374.8 L612.0,374.8 L612.5,374.8 L613.0,374.7 L613.4,374.7 L613.9,374.7 L614.4,374.6 L614.8,374.6 L615.3,374.6 L615.8,374.6 L616.3,374.6 L616.7,374.6 L617.2,374.6 L617.7,374.7 L618.1,374.7 L618.6,374.7 L619.1,374.6 L619.6,374.6 L620.0,374.5 L620.5,374.5 L621.0,374.4 L621.4,374.4 L621.9,374.2 L622.4,374.1 L622.9,374.0 L623.3,373.8 L623.8,373.6 L624.3,373.3 L624.7,373.0 L625.2,372.7 L625.7,372.5 L626.2,372.1 L626.6,371.8 L627.1,371.6 L627.6,371.5 L628.1,371.4 L628.5,371.3 L629.0,371.5 L629.5,371.6 L629.9,371.9 L630.4,372.0 L630.9,372.2 L631.4,372.5 L631.8,372.9 L632.3,373.2 L632.8,373.3 L633.2,373.5 L633.7,373.7 L634.2,373.9 L634.7,374.1 L635.1,374.3 L635.6,374.4 L636.1,374.5 L636.5,374.5 L637.0,374.5 L637.5,374.5 L638.0,374.5 L638.4,374.6 L638.9,374.6 L639.4,374.6 L639.8,374.6 L640.3,374.7 L640.8,374.7 L641.3,374.7 L641.7,374.7 L642.2,374.7 L642.7,374.7 L643.2,374.8 L643.6,374.8 L644.1,374.8 L644.6,374.8 L645.0,374.8 L645.5,374.7 L646.0,374.7 L646.5,374.8 L646.9,374.8 L647.4,374.8 L647.9,374.7 L648.3,374.7 L648.8,374.8 L649.3,374.8 L649.8,374.8 L650.2,374.9 L650.7,374.9 L651.2,374.9 L651.6,374.9 L652.1,374.9 L652.6,374.9 L653.1,375.0 L653.5,375.0 L654.0,375.0 L654.5,374.9 L655.0,374.9 L655.4,374.9 L655.9,374.9 L656.4,374.9 L656.8,374.9 L657.3,374.9 L657.8,374.9 L658.3,374.9 L658.7,374.8 L659.2,374.8 L659.7,374.8 L660.1,374.8 L660.6,374.8 L661.1,374.8 L661.6,374.8 L662.0,374.8 L662.5,374.8 L663.0,374.8 L663.4,374.8 L663.9,374.8 L664.4,374.7 L664.9,374.7 L665.3,374.7 L665.8,374.8 L666.3,374.8 L666.7,374.9 L667.2,374.8 L667.7,374.8 L668.2,374.8 L668.6,374.8 L669.1,374.9 L669.6,374.9 L670.1,374.9 L670.5,374.9 L671.0,374.9 L671.5,375.0 L671.9,375.0 L672.4,374.9 L672.9,374.9 L673.4,374.9 L673.8,374.9 L674.3,374.9 L674.8,374.9 L675.2,374.9 L675.7,375.0 L676.2,375.0 L676.7,374.9 L677.1,374.9 L677.6,374.8 L678.1,374.8 L678.5,374.7 L679.0,374.8 L679.5,374.8 L680.0,374.9 L680.4,374.8 L680.9,374.8 L681.4,374.8 L681.8,374.8 L682.3,374.7 L682.8,374.8 L683.3,374.8 L683.7,374.8 L684.2,374.8 L684.7,374.8 L685.2,374.8 L685.6,374.8 L686.1,374.8 L686.6,374.8 L687.0,374.8 L687.5,374.8 L688.0,374.8 L688.5,374.8 L688.9,374.8 L689.4,374.9 L689.9,374.9 L690.3,374.9 L690.8,374.8 L691.3,374.8 L691.8,374.8 L692.2,374.8 L692.7,374.9 L693.2,374.8 L693.6,374.8 L694.1,374.8 L694.6,374.8 L695.1,374.8 L695.5,374.9 L696.0,374.9 L696.5,374.9 L696.9,375.0 L697.4,375.0 L697.9,374.9 L698.4,374.9 L698.8,374.9 L699.3,374.9 L699.8,374.8 L700.3,374.8 L700.7,374.7 L701.2,374.8 L701.7,374.8 L702.1,374.8 L702.6,374.9 L703.1,374.9 L703.6,374.8 L704.0,374.8 L704.5,374.8 L705.0,374.8 L705.4,374.8 L705.9,374.9 L706.4,374.9 L706.9,374.9 L707.3,374.9 L707.8,374.9 L708.3,374.9 L708.7,374.9 L709.2,374.8 L709.7,374.7 L710.2,374.7 L710.6,374.7 L711.1,374.7 L711.6,374.7 L712.0,374.8 L712.5,374.8 L713.0,374.8 L713.5,374.8 L713.9,374.7 L714.4,374.7 L714.9,374.7 L715.4,374.8 L715.8,374.8 L716.3,374.8 L716.8,374.8 L717.2,374.8 L717.7,374.8 L718.2,374.8 L718.7,374.8 L719.1,374.8 L719.6,374.9 L720.1,374.9 L720.5,374.9 L721.0,374.8 L721.5,374.8 L722.0,374.9 L722.4,374.8 L722.9,374.8 L723.4,374.8 L723.8,374.8 L724.3,374.8 L724.8,374.8 L725.3,374.8 L725.7,374.8 L726.2,374.8 L726.7,374.8 L727.2,374.7 L727.6,374.7 L728.1,374.6 L728.6,374.6 L729.0,374.6 L729.5,374.6 L730.0,374.5 L730.5,374.4 L730.9,374.3 L731.4,374.2 L731.9,374.0 L732.3,373.9 L732.8,373.8 L733.3,373.6 L733.8,373.4 L734.2,373.2 L734.7,373.1 L735.2,372.9 L735.6,372.7 L736.1,372.5 L736.6,372.3 L737.1,372.2 L737.5,372.1 L738.0,372.0 L738.5,371.9 L738.9,372.0 L739.4,372.0 L739.9,372.1 L740.4,372.3 L740.8,372.5 L741.3,372.7 L741.8,372.9 L742.3,373.1 L742.7,373.3 L743.2,373.5 L743.7,373.7 L744.1,373.8 L744.6,373.9 L745.1,374.0 L745.6,374.1 L746.0,374.3 L746.5,374.4 L747.0,374.5 L747.4,374.5 L747.9,374.5 L748.4,374.5 L748.9,374.6 L749.3,374.7 L749.8,374.8 L750.3,374.8 L750.7,374.8 L751.2,374.8 L751.7,374.8 L752.2,374.8 L752.6,374.8 L753.1,374.8 L753.6,374.8 L754.0,374.8 L754.5,374.9 L755.0,374.9 L755.5,374.9 L755.9,374.9 L756.4,374.9 L756.9,374.8 L757.4,374.8 L757.8,374.8 L758.3,374.8 L758.8,374.8 L759.2,374.8 L759.7,374.8 L760.2,374.8 L760.7,374.9 L761.1,374.9 L761.6,374.8 L762.1,374.7 L762.5,374.7 L763.0,374.8 L763.5,374.8 L764.0,374.9 L764.4,374.9 L764.9,374.9 L765.4,374.9 L765.8,374.8" fill="none" stroke="#474747" stroke-width="2.6" stroke-linejoin="round"/></g>
<g transform="scale(0.750,1)"><path d="M715.6,373.4 L716.3,373.4 L717.0,373.4 L717.6,373.5 L718.3,373.5 L719.0,373.5 L719.7,373.5 L720.4,373.5 L721.0,373.5 L721.7,373.4 L722.4,373.4 L723.1,373.4 L723.8,373.4 L724.4,373.4 L725.1,373.4 L725.8,373.4 L726.5,373.4 L727.2,373.4 L727.8,373.5 L728.5,373.5 L729.2,373.5 L729.9,373.5 L730.6,373.4 L731.2,373.4 L731.9,373.4 L732.6,373.5 L733.3,373.5 L734.0,373.5 L734.6,373.5 L735.3,373.5 L736.0,373.5 L736.7,373.5 L737.4,373.5 L738.0,373.5 L738.7,373.5 L739.4,373.5 L740.1,373.4 L740.8,373.4 L741.4,373.3 L742.1,373.4 L742.8,373.4 L743.5,373.4 L744.2,373.4 L744.8,373.3 L745.5,373.4 L746.2,373.4 L746.9,373.3 L747.6,373.3 L748.2,373.3 L748.9,373.3 L749.6,373.3 L750.3,373.3 L751.0,373.3 L751.6,373.4 L752.3,373.4 L753.0,373.4 L753.7,373.3 L754.4,373.3 L755.0,373.3 L755.7,373.2 L756.4,373.2 L757.1,373.2 L757.8,373.2 L758.4,373.2 L759.1,373.2 L759.8,373.2 L760.5,373.2 L761.2,373.2 L761.8,373.2 L762.5,373.2 L763.2,373.2 L763.9,373.1 L764.6,373.1 L765.2,373.1 L765.9,373.2 L766.6,373.1 L767.3,373.1 L768.0,373.0 L768.6,373.0 L769.3,373.0 L770.0,373.1 L770.7,373.1 L771.4,373.1 L772.0,373.0 L772.7,373.0 L773.4,372.9 L774.1,372.9 L774.8,372.9 L775.4,373.0 L776.1,372.9 L776.8,372.8 L777.5,372.7 L778.2,372.6 L778.8,372.6 L779.5,372.6 L780.2,372.5 L780.9,372.4 L781.6,372.3 L782.2,372.2 L782.9,372.2 L783.6,372.1 L784.3,372.0 L785.0,371.8 L785.6,371.7 L786.3,371.5 L787.0,371.4 L787.7,371.2 L788.4,370.9 L789.0,370.6 L789.7,370.2 L790.4,369.7 L791.1,369.1 L791.8,368.3 L792.4,367.3 L793.1,366.0 L793.8,364.3 L794.5,362.2 L795.2,359.6 L795.8,356.5 L796.5,352.8 L797.2,348.5 L797.9,343.6 L798.6,338.4 L799.2,333.0 L799.9,327.8 L800.6,323.2 L801.3,319.6 L802.0,317.6 L802.6,317.3 L803.3,318.7 L804.0,321.5 L804.7,325.5 L805.4,330.2 L806.0,335.3 L806.7,340.5 L807.4,345.5 L808.1,350.0 L808.8,354.1 L809.4,357.6 L810.1,360.6 L810.8,363.0 L811.5,365.0 L812.2,366.5 L812.8,367.7 L813.5,368.7 L814.2,369.5 L814.9,370.2 L815.6,370.7 L816.2,371.1 L816.9,371.3 L817.6,371.6 L818.3,371.8 L819.0,372.0 L819.6,372.1 L820.3,372.3 L821.0,372.5 L821.7,372.6 L822.4,372.7 L823.0,372.8 L823.7,373.0 L824.4,373.1 L825.1,373.2 L825.8,373.2 L826.4,373.2 L827.1,373.2 L827.8,373.3 L828.5,373.4 L829.2,373.5 L829.8,373.5 L830.5,373.6 L831.2,373.6 L831.9,373.6 L832.6,373.7 L833.2,373.7 L833.9,373.7 L834.6,373.8 L835.3,373.8 L836.0,373.8 L836.6,373.8 L837.3,373.8 L838.0,373.9 L838.7,373.9 L839.4,374.0 L840.0,373.9 L840.7,373.9 L841.4,373.9 L842.1,374.0 L842.8,374.1 L843.4,374.2 L844.1,374.2 L844.8,374.2 L845.5,374.2 L846.2,374.2 L846.8,374.2 L847.5,374.3 L848.2,374.3 L848.9,374.3 L849.6,374.2 L850.2,374.2 L850.9,374.2 L851.6,374.3 L852.3,374.3 L853.0,374.3 L853.6,374.2 L854.3,374.2 L855.0,374.2 L855.7,374.3 L856.4,374.3 L857.0,374.3 L857.7,374.3 L858.4,374.2 L859.1,374.2 L859.8,374.2 L860.4,374.2 L861.1,374.2 L861.8,374.2 L862.5,374.3 L863.2,374.3 L863.8,374.4 L864.5,374.4 L865.2,374.4 L865.9,374.4 L866.6,374.5 L867.2,374.5 L867.9,374.4 L868.6,374.3 L869.3,374.2 L870.0,374.2 L870.6,374.3 L871.3,374.4 L872.0,374.4 L872.7,374.4 L873.4,374.5 L874.0,374.5 L874.7,374.5 L875.4,374.4 L876.1,374.4 L876.8,374.4 L877.4,374.4 L878.1,374.4 L878.8,374.4 L879.5,374.4 L880.2,374.4 L880.8,374.5 L881.5,374.5 L882.2,374.4 L882.9,374.4 L883.6,374.4 L884.2,374.4 L884.9,374.5 L885.6,374.5 L886.3,374.5 L887.0,374.5 L887.6,374.5 L888.3,374.4 L889.0,374.4 L889.7,374.4 L890.4,374.4 L891.0,374.4 L891.7,374.4 L892.4,374.4 L893.1,374.4 L893.8,374.4 L894.4,374.4 L895.1,374.5 L895.8,374.5 L896.5,374.5 L897.2,374.5 L897.8,374.5 L898.5,374.5 L899.2,374.5 L899.9,374.6 L900.6,374.7 L901.2,374.6 L901.9,374.6 L902.6,374.5 L903.3,374.4 L904.0,374.4 L904.6,374.5 L905.3,374.5 L906.0,374.5 L906.7,374.5 L907.4,374.5 L908.0,374.5 L908.7,374.5 L909.4,374.4 L910.1,374.4 L910.8,374.5 L911.4,374.5 L912.1,374.5 L912.8,374.5 L913.5,374.5 L914.2,374.5 L914.8,374.5 L915.5,374.5 L916.2,374.5 L916.9,374.5 L917.6,374.4 L918.2,374.4 L918.9,374.4 L919.6,374.4" fill="none" stroke="#474747" stroke-width="2.6" stroke-linejoin="round"/></g>
<g transform="scale(0.650,1)"><path d="M58.0,315.2 L58.5,315.2 L58.9,315.3 L59.4,315.3 L59.9,315.3 L60.4,315.3 L60.8,315.1 L61.3,315.0 L61.8,315.0 L62.2,315.1 L62.7,315.2 L63.2,315.4 L63.7,315.4 L64.1,315.3 L64.6,315.2 L65.1,315.1 L65.6,315.1 L66.0,315.1 L66.5,315.1 L67.0,315.1 L67.4,315.2 L67.9,315.2 L68.4,315.3 L68.9,315.2 L69.3,315.1 L69.8,315.1 L70.3,315.1 L70.7,315.2 L71.2,315.2 L71.7,315.2 L72.2,315.2 L72.6,315.2 L73.1,315.2 L73.6,315.2 L74.0,315.2 L74.5,315.2 L75.0,315.2 L75.5,315.2 L75.9,315.2 L76.4,315.2 L76.9,315.2 L77.3,315.2 L77.8,315.3 L78.3,315.3 L78.8,315.2 L79.2,315.2 L79.7,315.2 L80.2,315.3 L80.7,315.3 L81.1,315.3 L81.6,315.3 L82.1,315.3 L82.5,315.3 L83.0,315.2 L83.5,315.2 L84.0,315.2 L84.4,315.2 L84.9,315.2 L85.4,315.2 L85.8,315.2 L86.3,315.1 L86.5,315.2 L86.6,315.2 L86.7,315.2 L86.8,315.2 L86.8,315.2 L87.0,315.2 L87.1,315.1 L87.2,315.1 L87.3,315.0 L87.3,315.0 L87.4,315.1 L87.6,315.2 L87.7,315.2 L87.7,315.2 L87.8,315.1 L87.9,315.1 L88.0,315.1 L88.1,315.1 L88.2,315.1 L88.3,315.1 L88.4,315.1 L88.5,315.1 L88.6,315.1 L88.7,315.0 L88.7,314.9 L88.9,314.9 L89.0,314.9 L89.1,314.9 L89.1,314.8 L89.2,314.8 L89.3,314.8 L89.4,314.8 L89.6,314.8 L89.6,314.8 L89.7,314.8 L89.8,314.8 L89.9,314.8 L90.0,314.8 L90.1,314.9 L90.1,314.9 L90.3,314.8 L90.4,314.6 L90.5,314.5 L90.6,314.4 L90.6,314.3 L90.7,314.0 L90.9,313.7 L91.0,313.4 L91.0,313.2 L91.1,313.1 L91.2,312.6 L91.3,312.1 L91.4,311.4 L91.5,311.1 L91.6,310.8 L91.7,310.0 L91.8,309.2 L91.9,308.4 L92.0,308.0 L92.0,307.7 L92.2,307.0 L92.3,306.6 L92.4,306.5 L92.4,306.5 L92.5,306.7 L92.6,307.0 L92.7,307.5 L92.9,308.0 L92.9,308.3 L93.0,308.6 L93.1,309.3 L93.2,310.0 L93.3,310.8 L93.4,311.1 L93.5,311.4 L93.6,312.0 L93.7,312.5 L93.8,313.0 L93.9,313.2 L93.9,313.4 L94.0,313.6 L94.2,313.9 L94.3,314.1 L94.3,314.2 L94.4,314.3 L94.5,314.4 L94.6,314.6 L94.7,314.7 L94.8,314.7 L94.9,314.8 L95.0,314.8 L95.1,314.9 L95.2,314.9 L95.3,314.8 L95.3,314.9 L95.5,314.9 L95.6,314.9 L95.7,315.0 L95.8,315.0 L95.8,315.1 L95.9,315.1 L96.0,315.1 L96.2,315.1 L96.2,315.1 L96.3,315.1 L96.4,315.1 L96.5,315.1 L96.6,315.1 L96.7,315.0 L96.8,315.0 L96.9,315.0 L97.0,315.0 L97.1,315.0 L97.2,315.1 L97.2,315.1 L97.3,315.1 L97.5,315.2 L97.6,315.2 L97.6,315.2 L97.7,315.1 L97.8,315.1 L97.9,315.2 L98.1,315.2 L98.1,315.3 L98.2,315.3 L98.3,315.3 L98.4,315.2 L98.5,315.2 L98.6,315.1 L98.6,315.1 L98.8,315.2 L98.9,315.2 L99.0,315.2 L99.1,315.2 L99.1,315.2 L99.2,315.1 L99.4,315.2 L99.5,315.2 L99.5,315.3 L100.0,315.3 L100.5,315.2 L100.9,315.2 L101.4,315.2 L101.9,315.2 L102.4,315.2 L102.8,315.2 L103.3,315.2 L103.8,315.2 L104.2,315.2 L104.7,315.3 L105.2,315.3 L105.7,315.3 L106.1,315.3 L106.6,315.2 L107.1,315.1 L107.5,315.1 L108.0,315.1 L108.5,315.2 L109.0,315.2 L109.4,315.2 L109.9,315.2 L110.4,315.1 L110.9,315.1 L111.3,315.2 L111.8,315.2 L112.3,315.3 L112.7,315.3 L113.2,315.4 L113.7,315.4 L114.2,315.3 L114.6,315.2 L115.1,315.1 L115.6,315.1 L116.0,315.1 L116.5,315.2 L117.0,315.2 L117.5,315.3 L117.9,315.3 L118.4,315.3 L118.9,315.3 L119.3,315.3 L119.8,315.3 L120.3,315.3 L120.8,315.3 L121.2,315.3 L121.7,315.4 L122.2,315.4 L122.6,315.4 L123.1,315.3 L123.6,315.3 L124.1,315.3 L124.5,315.3 L125.0,315.3 L125.5,315.3 L126.0,315.3 L126.4,315.3 L126.9,315.3 L127.4,315.3 L127.8,315.3 L128.3,315.2 L128.8,315.2 L129.3,315.2 L129.7,315.3 L130.2,315.3 L130.7,315.3 L131.1,315.3 L131.6,315.3 L132.1,315.3 L132.6,315.4 L133.0,315.3 L133.5,315.3 L134.0,315.3 L134.4,315.3 L134.9,315.3 L135.4,315.4 L135.9,315.3 L136.3,315.3 L136.8,315.3 L137.3,315.3 L137.8,315.4 L138.2,315.4 L138.7,315.3 L139.2,315.2 L139.6,315.2 L140.1,315.2 L140.6,315.3 L141.1,315.3 L141.5,315.3 L142.0,315.3 L142.5,315.2 L142.9,315.2 L143.4,315.2 L143.9,315.2 L144.4,315.2 L144.8,315.2 L145.3,315.3 L145.8,315.3 L146.2,315.3 L146.7,315.3 L147.2,315.2 L147.7,315.2 L148.1,315.3 L148.6,315.3 L149.1,315.3 L149.5,315.2 L150.0,315.2 L150.5,315.2 L151.0,315.2 L151.4,315.2 L151.9,315.3 L152.4,315.3 L152.9,315.3 L153.3,315.3 L153.8,315.2 L154.3,315.3 L154.7,315.3 L155.2,315.3 L155.7,315.3 L156.2,315.3 L156.6,315.4 L157.1,315.4 L157.6,315.4 L158.0,315.4 L158.5,315.3 L159.0,315.3 L159.5,315.2 L159.9,315.1 L160.4,315.2 L160.9,315.3 L161.3,315.4 L161.8,315.4 L162.3,315.5 L162.8,315.4 L163.2,315.4 L163.7,315.4 L164.2,315.4 L164.6,315.5 L165.1,315.5 L165.6,315.4 L166.1,315.4 L166.5,315.3 L167.0,315.2 L167.5,315.3 L168.0,315.3 L168.4,315.3 L168.9,315.3 L169.4,315.2 L169.8,315.3 L170.3,315.3 L170.8,315.4 L171.3,315.4 L171.7,315.4 L172.2,315.4 L172.7,315.4 L173.1,315.3 L173.6,315.3 L174.1,315.3 L174.6,315.4 L175.0,315.4 L175.5,315.4 L176.0,315.4 L176.4,315.4 L176.9,315.3 L177.4,315.3 L177.9,315.3 L178.3,315.3 L178.8,315.3 L179.3,315.4 L179.7,315.4 L180.2,315.4 L180.7,315.4 L181.2,315.3 L181.6,315.3 L182.1,315.3 L182.6,315.3 L183.1,315.3 L183.5,315.3 L184.0,315.3 L184.5,315.3 L184.9,315.3 L185.4,315.3 L185.9,315.4 L186.4,315.5 L186.8,315.5 L187.3,315.4 L187.8,315.4 L188.2,315.4 L188.7,315.4 L189.2,315.3 L189.7,315.3 L190.1,315.3 L190.6,315.3 L191.1,315.2 L191.5,315.2 L192.0,315.3 L192.5,315.4 L193.0,315.4 L193.4,315.4 L193.9,315.3 L194.4,315.3 L194.9,315.2 L195.3,315.2 L195.8,315.2 L196.3,315.2 L196.7,315.3 L197.2,315.3 L197.7,315.3 L198.2,315.2 L198.6,315.2 L199.1,315.2 L199.6,315.1 L200.0,315.1 L200.5,315.0 L201.0,314.9 L201.5,314.8 L201.8,314.7 L201.9,314.7 L201.9,314.7 L202.0,314.6 L202.1,314.5 L202.3,314.5 L202.4,314.4 L202.4,314.4 L202.5,314.3 L202.6,314.3 L202.7,314.3 L202.8,314.3 L202.9,314.3 L203.0,314.3 L203.1,314.2 L203.2,314.1 L203.3,314.1 L203.3,314.1 L203.4,314.0 L203.6,314.0 L203.7,313.8 L203.8,313.7 L203.8,313.7 L203.9,313.7 L204.0,313.5 L204.1,313.4 L204.3,313.3 L204.3,313.3 L204.4,313.2 L204.5,313.1 L204.6,313.0 L204.7,312.7 L204.8,312.7 L204.9,312.5 L205.0,312.2 L205.1,311.8 L205.2,311.4 L205.2,311.4 L205.3,311.0 L205.4,310.5 L205.6,309.8 L205.7,309.0 L205.7,308.8 L205.8,307.9 L205.9,306.6 L206.0,305.0 L206.2,303.1 L206.2,302.7 L206.3,300.6 L206.4,297.6 L206.5,294.2 L206.6,290.3 L206.6,289.5 L206.7,286.0 L206.9,281.3 L207.0,276.3 L207.1,271.3 L207.1,270.2 L207.2,266.5 L207.3,262.4 L207.4,259.2 L207.6,257.2 L207.6,257.0 L207.7,256.5 L207.8,257.1 L207.9,258.7 L208.0,261.1 L208.1,261.7 L208.2,264.1 L208.3,267.2 L208.4,270.6 L208.5,274.1 L208.5,274.8 L208.6,277.8 L208.7,281.6 L208.9,285.4 L209.0,289.1 L209.0,289.9 L209.1,292.6 L209.2,295.7 L209.3,298.4 L209.5,300.9 L209.5,301.4 L209.6,303.1 L209.7,305.0 L209.8,306.5 L209.9,307.7 L210.0,308.0 L210.0,308.8 L210.2,309.7 L210.3,310.4 L210.4,311.0 L210.4,311.1 L210.5,311.4 L210.6,311.8 L210.8,312.1 L210.9,312.4 L210.9,312.4 L211.0,312.7 L211.1,312.9 L211.2,313.2 L211.3,313.4 L211.4,313.4 L211.5,313.5 L211.6,313.6 L211.7,313.7 L211.8,313.8 L211.8,313.8 L211.9,313.9 L212.1,313.9 L212.2,313.9 L212.3,313.9 L212.3,314.0 L212.4,314.1 L212.5,314.2 L212.6,314.2 L212.8,314.3 L212.8,314.3 L212.9,314.4 L213.0,314.4 L213.1,314.4 L213.2,314.5 L213.3,314.5 L213.3,314.6 L213.5,314.6 L213.6,314.7 L213.7,314.7 L213.7,314.7 L213.8,314.8 L213.9,314.8 L214.1,314.8 L214.2,314.8 L214.2,314.7 L214.3,314.8 L214.4,314.7 L214.5,314.7 L214.6,314.7 L214.7,314.8 L214.8,314.9 L215.1,314.9 L215.6,315.0 L216.1,315.1 L216.6,315.1 L217.0,315.1 L217.5,315.2 L218.0,315.2 L218.4,315.2 L218.9,315.2 L219.4,315.2 L219.9,315.3 L220.3,315.3 L220.8,315.3 L221.3,315.4 L221.7,315.4 L222.2,315.3 L222.7,315.3 L223.2,315.3 L223.6,315.3 L224.1,315.3 L224.6,315.3 L225.1,315.3 L225.5,315.4 L226.0,315.4 L226.5,315.4 L226.9,315.3 L227.4,315.2 L227.9,315.2 L228.4,315.2 L228.8,315.3 L229.3,315.3 L229.8,315.3 L230.2,315.3 L230.7,315.3 L231.2,315.3 L231.7,315.4 L232.1,315.4 L232.6,315.4 L233.1,315.3 L233.5,315.4 L234.0,315.4 L234.5,315.4 L235.0,315.5 L235.4,315.5 L235.9,315.5 L236.4,315.5 L236.8,315.5 L237.3,315.5 L237.8,315.5 L238.3,315.4 L238.7,315.4 L239.2,315.5 L239.7,315.5 L240.2,315.5 L240.6,315.5 L241.1,315.5 L241.6,315.4 L242.0,315.3 L242.5,315.3 L243.0,315.3 L243.5,315.4 L243.9,315.4 L244.4,315.4 L244.9,315.4 L245.3,315.4 L245.8,315.4 L246.3,315.4 L246.8,315.4 L247.2,315.4 L247.7,315.4 L248.2,315.5 L248.6,315.5 L249.1,315.4 L249.6,315.4 L250.1,315.5 L250.5,315.5 L251.0,315.6 L251.5,315.6 L251.9,315.7 L252.4,315.6 L252.9,315.5 L253.4,315.5 L253.8,315.4 L254.3,315.5 L254.8,315.5 L255.3,315.6 L255.7,315.6 L256.2,315.6 L256.7,315.6 L257.1,315.5 L257.6,315.5 L258.1,315.5 L258.6,315.5 L259.0,315.5 L259.5,315.5 L260.0,315.5 L260.4,315.5 L260.9,315.5 L261.4,315.5 L261.9,315.4 L262.3,315.5 L262.8,315.5 L263.3,315.5 L263.7,315.6 L264.2,315.5 L264.7,315.5 L265.2,315.4 L265.6,315.4 L266.1,315.4 L266.6,315.4 L267.1,315.4 L267.5,315.5 L268.0,315.5 L268.5,315.6 L268.9,315.6 L269.4,315.5 L269.9,315.5 L270.4,315.5 L270.8,315.5 L271.3,315.5 L271.8,315.5 L272.2,315.5 L272.7,315.4 L273.2,315.3 L273.7,315.3 L274.1,315.2 L274.6,315.1 L275.1,315.0 L275.5,314.9 L276.0,314.7 L276.5,314.6 L277.0,314.5 L277.4,314.6 L277.9,314.7 L278.4,314.9 L278.8,315.1 L279.3,315.3 L279.8,315.4 L280.3,315.4 L280.7,315.5 L281.2,315.5 L281.7,315.4 L282.2,315.5 L282.6,315.5 L283.1,315.5 L283.6,315.5 L284.0,315.4 L284.5,315.4 L285.0,315.4 L285.5,315.4 L285.9,315.4 L286.4,315.4 L286.9,315.4 L287.3,315.5 L287.8,315.5 L288.3,315.5 L288.8,315.4 L289.2,315.4 L289.7,315.3 L290.2,315.2 L290.6,315.2 L291.1,315.2 L291.1,315.2 L291.2,315.2 L291.3,315.2 L291.4,315.2 L291.5,315.2 L291.6,315.2 L291.6,315.2 L291.8,315.2 L291.9,315.2 L292.0,315.2 L292.1,315.3 L292.1,315.3 L292.2,315.3 L292.4,315.2 L292.5,315.2 L292.5,315.2 L292.6,315.1 L292.7,315.0 L292.8,315.0 L292.9,314.9 L293.0,314.9 L293.1,314.8 L293.2,314.9 L293.3,314.9 L293.4,315.0 L293.5,315.1 L293.5,315.0 L293.7,314.9 L293.8,314.7 L293.9,314.7 L293.9,314.6 L294.0,314.7 L294.1,314.6 L294.2,314.6 L294.4,314.5 L294.4,314.4 L294.5,314.2 L294.6,314.1 L294.7,313.9 L294.8,313.6 L294.9,313.4 L295.0,313.3 L295.1,312.9 L295.2,312.6 L295.3,312.3 L295.4,312.1 L295.4,311.8 L295.5,311.2 L295.7,310.6 L295.8,309.9 L295.8,309.6 L295.9,309.3 L296.0,308.6 L296.1,307.8 L296.2,307.0 L296.3,306.6 L296.4,306.3 L296.5,305.8 L296.6,305.3 L296.7,304.9 L296.8,304.7 L296.8,304.6 L297.0,304.5 L297.1,304.6 L297.2,304.8 L297.3,305.0 L297.3,305.0 L297.4,305.4 L297.5,305.8 L297.7,306.3 L297.7,306.6 L297.8,306.9 L297.9,307.4 L298.0,308.0 L298.1,308.6 L298.2,308.8 L298.3,309.0 L298.4,309.6 L298.5,310.1 L298.6,310.6 L298.7,310.9 L298.7,311.2 L298.8,311.7 L299.0,312.1 L299.1,312.5 L299.1,312.7 L299.2,312.9 L299.3,313.3 L299.4,313.6 L299.6,313.8 L299.6,313.8 L299.7,313.9 L299.8,314.0 L299.9,314.2 L300.0,314.3 L300.1,314.4 L300.1,314.5 L300.3,314.6 L300.4,314.7 L300.5,314.8 L300.6,314.8 L300.6,314.8 L300.7,314.8 L300.9,314.9 L301.0,314.9 L301.0,315.0 L301.1,315.0 L301.2,315.1 L301.3,315.1 L301.4,315.1 L301.5,315.1 L301.6,315.0 L301.7,315.1 L301.8,315.1 L301.9,315.2 L302.0,315.3 L302.0,315.3 L302.1,315.3 L302.3,315.2 L302.4,315.2 L302.4,315.1 L302.5,315.1 L302.6,315.2 L302.7,315.2 L302.9,315.2 L302.9,315.2 L303.0,315.3 L303.1,315.3 L303.2,315.2 L303.3,315.2 L303.4,315.3 L303.4,315.4 L303.6,315.4 L303.7,315.4 L303.8,315.4 L303.9,315.3 L303.9,315.2 L304.0,315.2 L304.3,315.2 L304.8,315.3 L305.3,315.3 L305.7,315.4 L306.2,315.4 L306.7,315.4 L307.2,315.4 L307.6,315.4 L308.1,315.4 L308.6,315.4 L309.0,315.4 L309.5,315.4 L310.0,315.4 L310.5,315.4 L310.9,315.4 L311.4,315.4 L311.9,315.5 L312.4,315.6 L312.8,315.6 L313.3,315.6 L313.8,315.6 L314.2,315.6 L314.7,315.6 L315.2,315.6 L315.7,315.5 L316.1,315.5 L316.6,315.5 L317.1,315.5 L317.5,315.6 L318.0,315.6 L318.5,315.6 L319.0,315.5 L319.4,315.5 L319.9,315.5 L320.4,315.5 L320.8,315.6 L321.3,315.6 L321.8,315.7 L322.3,315.7 L322.7,315.6 L323.2,315.6 L323.7,315.5 L324.2,315.5 L324.6,315.6 L325.1,315.6 L325.6,315.6 L326.0,315.6 L326.5,315.5 L327.0,315.5 L327.5,315.5 L327.9,315.5 L328.4,315.5 L328.9,315.5 L329.3,315.5 L329.8,315.5 L330.3,315.5 L330.8,315.6 L331.2,315.5 L331.7,315.5 L332.2,315.4 L332.6,315.3 L333.1,315.3 L333.6,315.3 L334.1,315.3 L334.5,315.3 L335.0,315.4 L335.5,315.4 L335.9,315.4 L336.4,315.5 L336.9,315.6 L337.4,315.6 L337.8,315.6 L338.3,315.5 L338.8,315.5 L339.3,315.6 L339.7,315.6 L340.2,315.6 L340.7,315.5 L341.1,315.5 L341.6,315.5 L342.1,315.6 L342.6,315.7 L343.0,315.7 L343.5,315.7 L344.0,315.6 L344.4,315.5 L344.9,315.5 L345.4,315.5 L345.9,315.6 L346.3,315.6 L346.8,315.6 L347.3,315.5 L347.7,315.5 L348.2,315.6 L348.7,315.6 L349.2,315.7 L349.6,315.7 L350.1,315.7 L350.6,315.6 L351.0,315.6 L351.5,315.6 L352.0,315.6 L352.5,315.5 L352.9,315.6 L353.4,315.6 L353.9,315.6 L354.4,315.6 L354.8,315.5 L355.3,315.5 L355.8,315.5 L356.2,315.6 L356.7,315.6 L357.2,315.6 L357.7,315.5 L358.1,315.5 L358.6,315.5 L359.1,315.5 L359.5,315.5 L360.0,315.5 L360.5,315.5 L361.0,315.5 L361.4,315.4 L361.9,315.4 L362.4,315.4 L362.8,315.4 L363.3,315.5 L363.8,315.5 L364.3,315.5 L364.7,315.5 L365.2,315.4 L365.7,315.4 L366.1,315.3 L366.6,315.3 L367.1,315.2 L367.6,315.2 L368.0,315.1 L368.4,315.0 L368.5,314.9 L368.6,315.0 L368.7,314.9 L368.8,314.9 L368.9,314.9 L369.0,314.9 L369.0,314.9 L369.2,314.9 L369.3,314.8 L369.4,314.8 L369.5,314.7 L369.5,314.7 L369.6,314.7 L369.7,314.6 L369.9,314.6 L369.9,314.6 L370.0,314.6 L370.1,314.5 L370.2,314.4 L370.3,314.3 L370.4,314.2 L370.5,314.2 L370.6,314.2 L370.7,314.1 L370.8,314.0 L370.9,314.0 L370.9,313.9 L371.0,313.7 L371.2,313.6 L371.3,313.3 L371.3,313.1 L371.4,313.0 L371.5,312.8 L371.6,312.5 L371.8,312.1 L371.8,311.9 L371.9,311.7 L372.0,311.2 L372.1,310.7 L372.2,310.1 L372.3,309.8 L372.3,309.4 L372.5,308.6 L372.6,307.7 L372.7,306.7 L372.8,306.2 L372.8,305.7 L372.9,304.6 L373.1,303.5 L373.2,302.3 L373.2,301.7 L373.3,301.0 L373.4,299.8 L373.5,298.6 L373.6,297.5 L373.7,296.9 L373.8,296.4 L373.9,295.4 L374.0,294.8 L374.1,294.2 L374.2,294.0 L374.2,293.7 L374.3,293.6 L374.5,293.8 L374.6,294.1 L374.6,294.3 L374.7,294.5 L374.8,295.0 L374.9,295.7 L375.1,296.4 L375.1,296.8 L375.2,297.2 L375.3,298.1 L375.4,298.9 L375.5,299.7 L375.6,300.2 L375.6,300.8 L375.8,301.7 L375.9,302.7 L376.0,303.6 L376.1,304.2 L376.1,304.6 L376.2,305.5 L376.4,306.4 L376.5,307.2 L376.5,307.7 L376.6,308.1 L376.7,308.8 L376.8,309.5 L376.9,310.1 L377.0,310.3 L377.1,310.6 L377.2,311.2 L377.3,311.6 L377.4,312.0 L377.5,312.2 L377.5,312.4 L377.7,312.7 L377.8,313.0 L377.9,313.2 L377.9,313.3 L378.0,313.4 L378.1,313.6 L378.2,313.8 L378.4,313.9 L378.4,314.0 L378.5,314.1 L378.6,314.2 L378.7,314.3 L378.8,314.4 L378.9,314.4 L378.9,314.5 L379.1,314.5 L379.2,314.6 L379.3,314.7 L379.4,314.7 L379.4,314.7 L379.5,314.7 L379.7,314.8 L379.8,314.8 L379.8,314.8 L379.9,314.8 L380.0,314.8 L380.1,314.8 L380.2,314.9 L380.3,314.9 L380.4,314.8 L380.5,314.8 L380.6,314.8 L380.7,314.9 L380.8,315.0 L380.8,315.0 L381.0,315.0 L381.1,315.1 L381.2,315.2 L381.2,315.2 L381.3,315.2 L381.4,315.2 L381.7,315.2 L382.2,315.2 L382.7,315.3 L383.1,315.3 L383.6,315.3 L384.1,315.3 L384.6,315.4 L385.0,315.5 L385.5,315.5 L386.0,315.6 L386.4,315.6 L386.9,315.6 L387.4,315.5 L387.9,315.5 L388.3,315.4 L388.8,315.5 L389.3,315.5 L389.7,315.5 L390.2,315.5 L390.7,315.5 L391.2,315.5 L391.6,315.6 L392.1,315.6 L392.6,315.5 L393.0,315.5 L393.5,315.5 L394.0,315.5 L394.5,315.5 L394.9,315.6 L395.4,315.7 L395.9,315.7 L396.4,315.7 L396.8,315.7 L397.3,315.6 L397.8,315.6 L398.2,315.6 L398.7,315.6 L399.2,315.6 L399.7,315.6 L400.1,315.6 L400.6,315.6 L401.1,315.5 L401.5,315.5 L402.0,315.5 L402.5,315.6 L403.0,315.6 L403.4,315.6 L403.9,315.6 L404.4,315.6 L404.8,315.5 L405.3,315.5 L405.8,315.6 L406.3,315.7 L406.7,315.7 L407.2,315.7 L407.7,315.6 L408.1,315.5 L408.6,315.6 L409.1,315.6 L409.6,315.7 L410.0,315.7 L410.5,315.6 L411.0,315.6 L411.5,315.6 L411.9,315.6 L412.4,315.6 L412.9,315.7 L413.3,315.7 L413.8,315.7 L414.3,315.6 L414.8,315.6 L415.2,315.6 L415.7,315.6 L416.2,315.6 L416.6,315.6 L417.1,315.6 L417.6,315.7 L418.1,315.7 L418.5,315.7 L419.0,315.7 L419.5,315.7 L419.9,315.6 L420.4,315.5 L420.9,315.5 L421.4,315.5 L421.8,315.6 L422.3,315.6 L422.8,315.7 L423.2,315.6 L423.7,315.5 L424.2,315.5 L424.7,315.5 L425.1,315.5 L425.6,315.6 L426.1,315.6 L426.6,315.6 L427.0,315.5 L427.5,315.5 L428.0,315.6 L428.4,315.6 L428.9,315.6 L429.4,315.6 L429.9,315.7 L430.3,315.6 L430.8,315.6 L431.3,315.6 L431.7,315.5 L432.2,315.6 L432.7,315.6 L433.2,315.6 L433.6,315.5 L434.1,315.5 L434.6,315.5 L435.0,315.5 L435.5,315.5 L436.0,315.4 L436.5,315.5 L436.9,315.5 L437.3,315.5 L437.4,315.5 L437.5,315.5 L437.6,315.5 L437.7,315.5 L437.8,315.6 L437.9,315.5 L437.9,315.6 L438.1,315.6 L438.2,315.6 L438.3,315.6 L438.3,315.6 L438.4,315.6 L438.5,315.6 L438.6,315.5 L438.8,315.5 L438.8,315.5 L438.9,315.5 L439.0,315.5 L439.1,315.5 L439.2,315.6 L439.3,315.6 L439.4,315.5 L439.5,315.5 L439.6,315.4 L439.7,315.4 L439.8,315.4 L439.8,315.3 L439.9,315.2 L440.1,315.2 L440.2,315.2 L440.2,315.3 L440.3,315.3 L440.4,315.2 L440.5,315.1 L440.6,315.1 L440.7,315.1 L440.8,315.0 L440.9,314.9 L441.0,314.9 L441.1,314.8 L441.2,314.8 L441.2,314.7 L441.4,314.6 L441.5,314.4 L441.6,314.3 L441.7,314.2 L441.7,314.2 L441.8,314.2 L441.9,314.1 L442.1,314.0 L442.1,313.9 L442.2,313.8 L442.3,313.8 L442.4,313.6 L442.5,313.5 L442.6,313.4 L442.7,313.3 L442.8,313.2 L442.9,313.2 L443.0,313.1 L443.1,313.1 L443.1,313.0 L443.2,313.1 L443.4,313.1 L443.5,313.1 L443.5,313.1 L443.6,313.1 L443.7,313.2 L443.8,313.3 L444.0,313.3 L444.0,313.4 L444.1,313.5 L444.2,313.5 L444.3,313.5 L444.4,313.5 L444.5,313.6 L444.5,313.7 L444.7,313.9 L444.8,314.0 L444.9,314.1 L445.0,314.2 L445.0,314.3 L445.1,314.4 L445.3,314.4 L445.4,314.4 L445.4,314.3 L445.5,314.4 L445.6,314.6 L445.7,314.7 L445.8,314.9 L445.9,314.9 L446.0,314.9 L446.1,314.9 L446.2,315.0 L446.3,315.0 L446.4,315.1 L446.4,315.0 L446.5,315.1 L446.7,315.2 L446.8,315.3 L446.8,315.3 L446.9,315.3 L447.0,315.3 L447.1,315.3 L447.3,315.4 L447.3,315.4 L447.4,315.3 L447.5,315.3 L447.6,315.3 L447.7,315.3 L447.8,315.3 L447.8,315.3 L448.0,315.4 L448.1,315.5 L448.2,315.5 L448.3,315.4 L448.3,315.3 L448.4,315.3 L448.6,315.3 L448.7,315.4 L448.7,315.4 L448.8,315.4 L448.9,315.5 L449.0,315.5 L449.1,315.6 L449.2,315.5 L449.3,315.6 L449.4,315.5 L449.5,315.6 L449.6,315.5 L449.7,315.6 L449.7,315.6 L449.9,315.6 L450.0,315.6 L450.1,315.5 L450.1,315.6 L450.2,315.6 L450.3,315.6 L450.6,315.7 L451.1,315.6 L451.6,315.6 L452.0,315.6 L452.5,315.6 L453.0,315.6 L453.5,315.7 L453.9,315.6 L454.4,315.6 L454.9,315.5 L455.3,315.6 L455.8,315.6 L456.3,315.6 L456.8,315.7 L457.2,315.7 L457.7,315.7 L458.2,315.6 L458.6,315.6 L459.1,315.6 L459.6,315.7 L460.1,315.7 L460.5,315.8 L461.0,315.7 L461.5,315.7 L461.9,315.6 L462.4,315.6 L462.9,315.6 L463.4,315.5 L463.8,315.5 L464.3,315.5 L464.8,315.6 L465.2,315.7 L465.7,315.7 L466.2,315.7 L466.7,315.7 L467.1,315.6 L467.6,315.6 L468.1,315.6 L468.6,315.6 L469.0,315.6 L469.5,315.7 L470.0,315.7 L470.4,315.7 L470.9,315.6 L471.4,315.6 L471.9,315.6 L472.3,315.6 L472.8,315.6 L473.3,315.6 L473.7,315.6 L474.2,315.7 L474.7,315.7 L475.2,315.7 L475.6,315.7 L476.1,315.7 L476.6,315.7 L477.0,315.6 L477.5,315.6 L478.0,315.5 L478.5,315.5 L478.9,315.5 L479.4,315.6 L479.9,315.6 L480.3,315.6 L480.8,315.5 L481.3,315.5 L481.8,315.5 L482.2,315.6 L482.7,315.6 L483.2,315.6 L483.7,315.6 L484.1,315.5 L484.6,315.6 L485.1,315.6 L485.5,315.6 L486.0,315.6 L486.5,315.6 L487.0,315.6 L487.4,315.5 L487.9,315.5 L488.4,315.5 L488.8,315.6 L489.3,315.6 L489.8,315.6 L490.3,315.6 L490.7,315.6 L491.2,315.7 L491.7,315.7 L492.1,315.6 L492.6,315.6 L493.1,315.5 L493.6,315.5 L494.0,315.5 L494.5,315.5 L495.0,315.5 L495.4,315.5 L495.9,315.5 L496.4,315.4 L496.9,315.4 L497.3,315.4 L497.8,315.5 L498.3,315.5 L498.8,315.5 L499.2,315.4 L499.7,315.3 L500.2,315.2 L500.6,315.2 L501.1,315.2 L501.6,315.3 L502.1,315.3 L502.5,315.2 L503.0,315.1 L503.2,315.1 L503.3,315.1 L503.4,315.2 L503.5,315.2 L503.5,315.2 L503.6,315.2 L503.8,315.1 L503.9,315.0 L503.9,314.9 L504.0,314.8 L504.1,314.8 L504.2,314.7 L504.4,314.7 L504.4,314.7 L504.5,314.7 L504.6,314.7 L504.7,314.7 L504.8,314.7 L504.9,314.6 L504.9,314.5 L505.1,314.4 L505.2,314.3 L505.3,314.2 L505.4,314.1 L505.4,314.0 L505.5,313.8 L505.7,313.7 L505.8,313.6 L505.8,313.5 L505.9,313.5 L506.0,313.2 L506.1,313.0 L506.2,312.7 L506.3,312.6 L506.4,312.4 L506.5,312.1 L506.6,311.7 L506.7,311.3 L506.8,311.1 L506.8,311.0 L507.0,310.6 L507.1,310.1 L507.2,309.6 L507.2,309.3 L507.3,309.1 L507.4,308.5 L507.5,308.0 L507.7,307.4 L507.7,307.1 L507.8,306.8 L507.9,306.3 L508.0,305.8 L508.1,305.2 L508.2,304.9 L508.2,304.6 L508.4,304.1 L508.5,303.8 L508.6,303.5 L508.7,303.3 L508.7,303.2 L508.8,302.9 L509.0,302.8 L509.1,302.7 L509.1,302.8 L509.2,302.8 L509.3,302.9 L509.4,303.1 L509.5,303.4 L509.6,303.5 L509.7,303.6 L509.8,303.9 L509.9,304.2 L510.0,304.5 L510.1,304.7 L510.1,304.9 L510.3,305.2 L510.4,305.6 L510.5,306.1 L510.5,306.3 L510.6,306.5 L510.7,306.9 L510.8,307.3 L511.0,307.8 L511.0,308.1 L511.1,308.4 L511.2,308.8 L511.3,309.2 L511.4,309.5 L511.5,309.7 L511.6,309.9 L511.7,310.4 L511.8,310.8 L511.9,311.2 L512.0,311.3 L512.0,311.4 L512.1,311.7 L512.3,312.1 L512.4,312.4 L512.4,312.5 L512.5,312.6 L512.6,312.8 L512.7,313.1 L512.9,313.3 L512.9,313.4 L513.0,313.5 L513.1,313.6 L513.2,313.7 L513.3,313.9 L513.4,314.1 L513.4,314.2 L513.6,314.3 L513.7,314.4 L513.8,314.5 L513.9,314.6 L513.9,314.6 L514.0,314.6 L514.1,314.7 L514.3,314.7 L514.3,314.7 L514.4,314.7 L514.5,314.8 L514.6,314.8 L514.7,314.9 L514.8,314.8 L514.9,314.9 L515.0,315.0 L515.1,315.1 L515.2,315.1 L515.3,315.1 L515.3,315.0 L515.4,315.0 L515.6,315.0 L515.7,315.0 L515.7,315.1 L515.8,315.1 L515.9,315.1 L516.0,315.2 L516.2,315.1 L516.2,315.2 L516.7,315.2 L517.2,315.3 L517.6,315.4 L518.1,315.4 L518.6,315.5 L519.0,315.4 L519.5,315.3 L520.0,315.3 L520.5,315.4 L520.9,315.4 L521.4,315.5 L521.9,315.5 L522.3,315.5 L522.8,315.5 L523.3,315.5 L523.8,315.5 L524.2,315.5 L524.7,315.5 L525.2,315.6 L525.7,315.6 L526.1,315.7 L526.6,315.7 L527.1,315.6 L527.5,315.6 L528.0,315.6 L528.5,315.6 L529.0,315.6 L529.4,315.6 L529.9,315.7 L530.4,315.7 L530.8,315.7 L531.3,315.6 L531.8,315.7 L532.3,315.7 L532.7,315.7 L533.2,315.7 L533.7,315.7 L534.1,315.6 L534.6,315.5 L535.1,315.5 L535.6,315.5 L536.0,315.6 L536.5,315.6 L537.0,315.7 L537.4,315.7 L537.9,315.7 L538.4,315.6 L538.9,315.6 L539.3,315.6 L539.8,315.6 L540.3,315.6 L540.8,315.6 L541.2,315.6 L541.7,315.6 L542.2,315.7 L542.6,315.7 L543.1,315.6 L543.6,315.6 L544.1,315.6 L544.5,315.6 L545.0,315.6 L545.5,315.6 L545.9,315.6 L546.4,315.7 L546.9,315.6 L547.4,315.6 L547.8,315.5 L548.3,315.5 L548.8,315.5 L549.2,315.6 L549.7,315.6 L550.2,315.6 L550.7,315.6 L551.1,315.6 L551.6,315.6 L552.1,315.6 L552.5,315.6 L553.0,315.6 L553.5,315.6 L554.0,315.5 L554.4,315.5 L554.9,315.5 L555.4,315.6 L555.9,315.7 L556.3,315.7 L556.8,315.7 L557.3,315.6 L557.7,315.6 L558.2,315.6 L558.7,315.6 L559.2,315.7 L559.6,315.7 L560.1,315.8 L560.6,315.7 L561.0,315.7 L561.5,315.7 L562.0,315.6 L562.5,315.6 L562.9,315.5 L563.4,315.5 L563.9,315.5 L564.3,315.6 L564.8,315.6 L565.3,315.7 L565.8,315.6 L566.2,315.6 L566.7,315.5 L567.2,315.5 L567.6,315.5 L568.1,315.5 L568.6,315.6 L569.1,315.7 L569.5,315.7 L570.0,315.7 L570.5,315.7 L571.0,315.6 L571.4,315.6 L571.9,315.5 L572.4,315.5 L572.8,315.5 L573.3,315.6 L573.8,315.6 L574.3,315.6 L574.7,315.6 L575.2,315.6 L575.7,315.6 L576.1,315.5 L576.6,315.5 L577.1,315.6 L577.6,315.6 L578.0,315.7 L578.5,315.7 L579.0,315.7 L579.4,315.6 L579.9,315.6 L580.4,315.6 L580.9,315.6 L581.3,315.6 L581.8,315.7 L582.3,315.6 L582.7,315.6 L583.2,315.5 L583.7,315.5 L584.2,315.5 L584.6,315.5 L585.1,315.5 L585.6,315.6 L586.1,315.6 L586.5,315.6 L587.0,315.7 L587.5,315.6 L587.9,315.6 L588.4,315.6 L588.9,315.6 L589.4,315.7 L589.8,315.7 L590.3,315.7 L590.8,315.6 L591.2,315.6 L591.7,315.6 L592.2,315.6 L592.7,315.6 L593.1,315.6 L593.6,315.6 L594.1,315.7 L594.5,315.7 L595.0,315.7 L595.5,315.6 L596.0,315.6 L596.4,315.7 L596.9,315.8 L597.4,315.8 L597.9,315.8 L598.3,315.7 L598.8,315.7 L599.3,315.6 L599.7,315.6 L600.2,315.7 L600.7,315.7 L601.2,315.7 L601.6,315.7 L602.1,315.7 L602.6,315.7 L603.0,315.6 L603.5,315.6 L604.0,315.6 L604.5,315.6 L604.9,315.6 L605.4,315.6 L605.9,315.6 L606.3,315.6 L606.8,315.6 L607.3,315.6 L607.8,315.5 L608.2,315.6 L608.7,315.6 L609.2,315.7 L609.6,315.6 L610.1,315.5 L610.6,315.5 L611.1,315.5 L611.5,315.5 L612.0,315.6 L612.5,315.6 L613.0,315.6 L613.4,315.6 L613.9,315.6 L614.4,315.6 L614.8,315.7 L615.3,315.7 L615.8,315.7 L616.3,315.7 L616.7,315.7 L617.2,315.6 L617.7,315.7 L618.1,315.6 L618.6,315.6 L619.1,315.5 L619.6,315.5 L620.0,315.6 L620.5,315.6 L621.0,315.6 L621.4,315.5 L621.9,315.5 L622.4,315.6 L622.9,315.7 L623.3,315.7 L623.8,315.7 L624.3,315.5 L624.7,315.4 L625.2,315.3 L625.7,315.2 L626.2,315.0 L626.6,314.8 L627.1,314.5 L627.6,314.1 L628.1,313.7 L628.5,313.2 L629.0,312.6 L629.5,312.3 L629.9,312.2 L630.4,312.3 L630.9,312.6 L631.4,312.9 L631.8,313.3 L632.3,313.7 L632.8,314.2 L633.2,314.6 L633.7,314.9 L634.2,315.1 L634.7,315.2 L635.1,315.3 L635.6,315.4 L636.1,315.4 L636.5,315.5 L637.0,315.5 L637.5,315.5 L638.0,315.6 L638.4,315.7 L638.9,315.7 L639.4,315.7 L639.8,315.7 L640.3,315.7 L640.8,315.7 L641.3,315.7 L641.7,315.7 L642.2,315.6 L642.7,315.6 L643.2,315.6 L643.6,315.7 L644.1,315.7 L644.6,315.7 L645.0,315.7 L645.5,315.6 L646.0,315.6 L646.5,315.6 L646.9,315.6 L647.4,315.6 L647.9,315.6 L648.3,315.7 L648.8,315.7 L649.3,315.7 L649.8,315.7 L650.2,315.6 L650.7,315.6 L651.2,315.6 L651.6,315.6 L652.1,315.6 L652.6,315.7 L653.1,315.7 L653.5,315.7 L654.0,315.6 L654.5,315.7 L655.0,315.7 L655.4,315.8 L655.9,315.8 L656.4,315.7 L656.8,315.7 L657.3,315.7 L657.8,315.7 L658.3,315.8 L658.7,315.8 L659.2,315.7 L659.7,315.7 L660.1,315.7 L660.6,315.7 L661.1,315.7 L661.6,315.8 L662.0,315.8 L662.5,315.8 L663.0,315.7 L663.4,315.7 L663.9,315.6 L664.4,315.6 L664.9,315.6 L665.3,315.6 L665.8,315.6 L666.3,315.6 L666.7,315.6 L667.2,315.7 L667.7,315.7 L668.2,315.7 L668.6,315.6 L669.1,315.6 L669.6,315.6 L670.1,315.7 L670.5,315.7 L671.0,315.7 L671.5,315.7 L671.9,315.6 L672.4,315.7 L672.9,315.7 L673.4,315.7 L673.8,315.7 L674.3,315.6 L674.8,315.6 L675.2,315.5 L675.7,315.6 L676.2,315.6 L676.7,315.7 L677.1,315.7 L677.6,315.7 L678.1,315.7 L678.5,315.7 L679.0,315.7 L679.5,315.7 L680.0,315.6 L680.4,315.6 L680.9,315.7 L681.4,315.8 L681.8,315.8 L682.3,315.8 L682.8,315.8 L683.3,315.7 L683.7,315.7 L684.2,315.7 L684.7,315.7 L685.2,315.8 L685.6,315.8 L686.1,315.8 L686.6,315.8 L687.0,315.7 L687.5,315.7 L688.0,315.6 L688.5,315.6 L688.9,315.6 L689.4,315.7 L689.9,315.7 L690.3,315.7 L690.8,315.6 L691.3,315.6 L691.8,315.6 L692.2,315.6 L692.7,315.6 L693.2,315.6 L693.6,315.7 L694.1,315.7 L694.6,315.7 L695.1,315.7 L695.5,315.7 L696.0,315.7 L696.5,315.6 L696.9,315.7 L697.4,315.7 L697.9,315.8 L698.4,315.8 L698.8,315.8 L699.3,315.8 L699.8,315.8 L700.3,315.7 L700.7,315.6 L701.2,315.6 L701.7,315.6 L702.1,315.6 L702.6,315.6 L703.1,315.6 L703.6,315.7 L704.0,315.7 L704.5,315.6 L705.0,315.6 L705.4,315.6 L705.9,315.6 L706.4,315.6 L706.9,315.7 L707.3,315.7 L707.8,315.8 L708.3,315.8 L708.7,315.7 L709.2,315.7 L709.7,315.6 L710.2,315.7 L710.6,315.7 L711.1,315.7 L711.6,315.7 L712.0,315.7 L712.5,315.7 L713.0,315.7 L713.5,315.8 L713.9,315.7 L714.4,315.7 L714.9,315.6 L715.4,315.6 L715.8,315.7 L716.3,315.7 L716.8,315.7 L717.2,315.7 L717.7,315.6 L718.2,315.6 L718.7,315.7 L719.1,315.7 L719.6,315.8 L720.1,315.8 L720.5,315.7 L721.0,315.7 L721.5,315.8 L722.0,315.7 L722.4,315.7 L722.9,315.6 L723.4,315.6 L723.8,315.6 L724.3,315.7 L724.8,315.7 L725.3,315.6 L725.7,315.6 L726.2,315.6 L726.7,315.6 L727.2,315.5 L727.6,315.5 L728.1,315.6 L728.6,315.6 L729.0,315.6 L729.5,315.5 L730.0,315.5 L730.5,315.5 L730.9,315.6 L731.4,315.6 L731.9,315.6 L732.3,315.5 L732.8,315.4 L733.3,315.4 L733.8,315.4 L734.2,315.4 L734.7,315.3 L735.2,315.2 L735.6,315.1 L736.1,314.9 L736.6,314.7 L737.1,314.5 L737.5,314.2 L738.0,313.8 L738.5,313.4 L738.9,313.1 L739.4,312.8 L739.9,312.8 L740.4,312.9 L740.8,313.1 L741.3,313.3 L741.8,313.4 L742.3,313.6 L742.7,313.9 L743.2,314.3 L743.7,314.6 L744.1,314.9 L744.6,315.1 L745.1,315.2 L745.6,315.3 L746.0,315.4 L746.5,315.5 L747.0,315.5 L747.4,315.6 L747.9,315.6 L748.4,315.7 L748.9,315.7 L749.3,315.7 L749.8,315.6 L750.3,315.6 L750.7,315.6 L751.2,315.6 L751.7,315.6 L752.2,315.6 L752.6,315.7 L753.1,315.7 L753.6,315.7 L754.0,315.8 L754.5,315.7 L755.0,315.7 L755.5,315.7 L755.9,315.7 L756.4,315.7 L756.9,315.7 L757.4,315.7 L757.8,315.6 L758.3,315.5 L758.8,315.6 L759.2,315.7 L759.7,315.7 L760.2,315.7 L760.7,315.7 L761.1,315.7 L761.6,315.7 L762.1,315.7 L762.5,315.8 L763.0,315.8 L763.5,315.7 L764.0,315.6 L764.4,315.5 L764.9,315.6 L765.4,315.6 L765.8,315.7" fill="none" stroke="#F14040" stroke-width="2.6" stroke-linejoin="round"/></g>
<g transform="scale(0.750,1)"><path d="M715.6,315.3 L716.3,315.4 L717.0,315.4 L717.6,315.4 L718.3,315.4 L719.0,315.3 L719.7,315.3 L720.4,315.3 L721.0,315.3 L721.7,315.3 L722.4,315.3 L723.1,315.3 L723.8,315.3 L724.4,315.4 L725.1,315.5 L725.8,315.5 L726.5,315.4 L727.2,315.4 L727.8,315.3 L728.5,315.4 L729.2,315.4 L729.9,315.4 L730.6,315.4 L731.2,315.3 L731.9,315.3 L732.6,315.3 L733.3,315.3 L734.0,315.2 L734.6,315.3 L735.3,315.4 L736.0,315.4 L736.7,315.4 L737.4,315.4 L738.0,315.3 L738.7,315.3 L739.4,315.3 L740.1,315.3 L740.8,315.3 L741.4,315.3 L742.1,315.3 L742.8,315.3 L743.5,315.3 L744.2,315.3 L744.8,315.2 L745.5,315.2 L746.2,315.2 L746.9,315.3 L747.6,315.3 L748.2,315.4 L748.9,315.4 L749.6,315.4 L750.3,315.3 L751.0,315.3 L751.6,315.3 L752.3,315.3 L753.0,315.3 L753.7,315.3 L754.4,315.4 L755.0,315.3 L755.7,315.3 L756.4,315.3 L757.1,315.2 L757.8,315.2 L758.4,315.3 L759.1,315.3 L759.8,315.4 L760.5,315.4 L761.2,315.4 L761.8,315.3 L762.5,315.3 L763.2,315.3 L763.9,315.4 L764.6,315.4 L765.2,315.4 L765.9,315.3 L766.6,315.3 L767.3,315.3 L768.0,315.3 L768.6,315.3 L769.3,315.3 L770.0,315.3 L770.7,315.3 L771.4,315.2 L772.0,315.2 L772.7,315.1 L773.4,315.1 L774.1,315.2 L774.8,315.2 L775.4,315.2 L776.1,315.1 L776.8,315.2 L777.5,315.2 L778.2,315.1 L778.8,315.1 L779.5,315.0 L780.2,315.0 L780.9,315.0 L781.6,315.1 L782.2,315.0 L782.9,315.0 L783.6,315.0 L784.3,315.0 L785.0,315.0 L785.6,314.9 L786.3,314.9 L787.0,314.9 L787.7,314.9 L788.4,314.9 L789.0,314.8 L789.7,314.8 L790.4,314.7 L791.1,314.7 L791.8,314.6 L792.4,314.4 L793.1,314.3 L793.8,314.2 L794.5,314.1 L795.2,314.0 L795.8,313.9 L796.5,313.6 L797.2,313.3 L797.9,312.9 L798.6,312.6 L799.2,312.1 L799.9,311.4 L800.6,310.4 L801.3,308.8 L802.0,306.2 L802.6,302.4 L803.3,296.9 L804.0,289.5 L804.7,280.3 L805.4,270.3 L806.0,261.5 L806.7,256.6 L807.4,257.1 L808.1,261.5 L808.8,267.8 L809.4,274.9 L810.1,282.5 L810.8,289.9 L811.5,296.3 L812.2,301.4 L812.8,305.2 L813.5,307.9 L814.2,309.9 L814.9,311.2 L815.6,312.1 L816.2,312.6 L816.9,313.0 L817.6,313.3 L818.3,313.5 L819.0,313.7 L819.6,314.0 L820.3,314.1 L821.0,314.3 L821.7,314.3 L822.4,314.4 L823.0,314.4 L823.7,314.5 L824.4,314.6 L825.1,314.6 L825.8,314.7 L826.4,314.8 L827.1,314.9 L827.8,314.9 L828.5,314.9 L829.2,314.9 L829.8,314.9 L830.5,314.9 L831.2,314.9 L831.9,315.0 L832.6,315.0 L833.2,315.1 L833.9,315.1 L834.6,315.1 L835.3,315.2 L836.0,315.2 L836.6,315.3 L837.3,315.3 L838.0,315.3 L838.7,315.3 L839.4,315.3 L840.0,315.3 L840.7,315.2 L841.4,315.2 L842.1,315.2 L842.8,315.3 L843.4,315.3 L844.1,315.4 L844.8,315.4 L845.5,315.3 L846.2,315.2 L846.8,315.2 L847.5,315.3 L848.2,315.4 L848.9,315.4 L849.6,315.3 L850.2,315.4 L850.9,315.4 L851.6,315.4 L852.3,315.4 L853.0,315.3 L853.6,315.4 L854.3,315.4 L855.0,315.4 L855.7,315.4 L856.4,315.4 L857.0,315.4 L857.7,315.5 L858.4,315.5 L859.1,315.4 L859.8,315.4 L860.4,315.4 L861.1,315.4 L861.8,315.4 L862.5,315.4 L863.2,315.4 L863.8,315.4 L864.5,315.4 L865.2,315.3 L865.9,315.3 L866.6,315.3 L867.2,315.4 L867.9,315.4 L868.6,315.4 L869.3,315.5 L870.0,315.5 L870.6,315.4 L871.3,315.4 L872.0,315.4 L872.7,315.4 L873.4,315.4 L874.0,315.3 L874.7,315.3 L875.4,315.3 L876.1,315.4 L876.8,315.4 L877.4,315.4 L878.1,315.3 L878.8,315.3 L879.5,315.4 L880.2,315.5 L880.8,315.5 L881.5,315.4 L882.2,315.4 L882.9,315.3 L883.6,315.4 L884.2,315.4 L884.9,315.4 L885.6,315.4 L886.3,315.4 L887.0,315.4 L887.6,315.4 L888.3,315.4 L889.0,315.4 L889.7,315.4 L890.4,315.4 L891.0,315.3 L891.7,315.3 L892.4,315.3 L893.1,315.3 L893.8,315.4 L894.4,315.4 L895.1,315.4 L895.8,315.4 L896.5,315.4 L897.2,315.4 L897.8,315.4 L898.5,315.5 L899.2,315.5 L899.9,315.4 L900.6,315.4 L901.2,315.3 L901.9,315.3 L902.6,315.3 L903.3,315.3 L904.0,315.3 L904.6,315.3 L905.3,315.4 L906.0,315.4 L906.7,315.5 L907.4,315.5 L908.0,315.4 L908.7,315.4 L909.4,315.4 L910.1,315.5 L910.8,315.5 L911.4,315.5 L912.1,315.5 L912.8,315.4 L913.5,315.4 L914.2,315.4 L914.8,315.4 L915.5,315.4 L916.2,315.4 L916.9,315.5 L917.6,315.5 L918.2,315.5 L918.9,315.5 L919.6,315.5" fill="none" stroke="#F14040" stroke-width="2.6" stroke-linejoin="round"/></g>
<g transform="scale(0.650,1)"><path d="M58.0,255.2 L58.5,255.1 L58.9,255.1 L59.4,255.1 L59.9,255.1 L60.4,255.1 L60.8,255.2 L61.3,255.2 L61.8,255.2 L62.2,255.2 L62.7,255.2 L63.2,255.2 L63.7,255.1 L64.1,255.1 L64.6,255.0 L65.1,255.0 L65.6,255.0 L66.0,255.0 L66.5,255.0 L67.0,255.0 L67.4,254.9 L67.9,254.9 L68.4,255.0 L68.9,255.1 L69.3,255.2 L69.8,255.3 L70.3,255.3 L70.7,255.2 L71.2,255.1 L71.7,255.1 L72.2,255.0 L72.6,255.0 L73.1,255.0 L73.6,255.0 L74.0,255.0 L74.5,255.0 L75.0,255.1 L75.5,255.1 L75.9,255.1 L76.4,255.1 L76.9,255.1 L77.3,255.1 L77.8,255.0 L78.3,255.0 L78.8,255.0 L79.2,255.1 L79.7,255.1 L80.2,255.1 L80.7,255.1 L81.1,255.0 L81.6,255.0 L82.1,255.0 L82.5,255.1 L83.0,255.1 L83.5,255.0 L84.0,255.1 L84.4,255.1 L84.9,255.0 L85.4,255.0 L85.8,255.0 L86.0,255.0 L86.1,255.0 L86.2,255.1 L86.3,255.1 L86.4,255.2 L86.5,255.2 L86.6,255.2 L86.7,255.1 L86.8,255.0 L86.8,255.0 L87.0,255.0 L87.1,255.0 L87.2,255.0 L87.3,255.0 L87.3,255.0 L87.4,255.0 L87.5,255.0 L87.7,255.0 L87.7,255.1 L87.8,255.1 L87.9,255.1 L88.0,255.0 L88.1,255.0 L88.2,254.9 L88.2,255.0 L88.4,254.9 L88.5,254.9 L88.6,254.9 L88.7,254.9 L88.7,255.0 L88.8,255.0 L89.0,255.0 L89.1,255.0 L89.1,255.0 L89.2,255.0 L89.3,254.9 L89.4,254.9 L89.5,254.8 L89.6,254.8 L89.7,254.8 L89.8,254.8 L89.9,254.7 L90.0,254.6 L90.1,254.6 L90.1,254.5 L90.3,254.4 L90.4,254.3 L90.5,254.1 L90.6,253.9 L90.6,253.8 L90.7,253.4 L90.8,253.0 L91.0,252.5 L91.0,252.2 L91.1,252.0 L91.2,251.3 L91.3,250.5 L91.4,249.8 L91.5,249.3 L91.6,249.1 L91.7,248.6 L91.8,248.4 L91.9,248.3 L92.0,248.3 L92.0,248.3 L92.1,248.6 L92.3,249.0 L92.4,249.5 L92.4,249.8 L92.5,250.0 L92.6,250.5 L92.7,251.2 L92.8,251.8 L92.9,252.2 L93.0,252.4 L93.1,252.9 L93.2,253.2 L93.3,253.6 L93.4,253.7 L93.4,253.9 L93.6,254.1 L93.7,254.3 L93.8,254.5 L93.9,254.5 L93.9,254.5 L94.0,254.6 L94.1,254.6 L94.3,254.7 L94.3,254.8 L94.4,254.8 L94.5,254.8 L94.6,254.9 L94.7,254.9 L94.8,254.9 L94.9,254.9 L95.0,255.0 L95.1,255.0 L95.2,255.0 L95.3,255.0 L95.3,255.0 L95.4,255.0 L95.6,254.9 L95.7,255.0 L95.8,255.0 L95.8,255.0 L95.9,255.0 L96.0,255.0 L96.2,255.0 L96.2,255.0 L96.3,255.0 L96.4,255.0 L96.5,255.1 L96.6,255.1 L96.7,255.1 L96.7,255.1 L96.9,255.0 L97.0,255.0 L97.1,255.1 L97.2,255.1 L97.2,255.1 L97.3,255.2 L97.5,255.2 L97.6,255.2 L97.6,255.2 L97.7,255.1 L97.8,255.1 L97.9,255.1 L98.0,255.1 L98.1,255.1 L98.2,255.2 L98.3,255.2 L98.4,255.1 L98.5,255.1 L98.6,255.1 L98.6,255.1 L98.7,255.1 L98.9,255.1 L99.0,255.1 L99.1,255.0 L99.5,255.0 L100.0,255.0 L100.5,255.0 L100.9,255.1 L101.4,255.0 L101.9,255.0 L102.4,255.1 L102.8,255.1 L103.3,255.1 L103.8,255.1 L104.2,255.1 L104.7,255.0 L105.2,255.1 L105.7,255.1 L106.1,255.1 L106.6,255.1 L107.1,255.0 L107.5,255.0 L108.0,255.0 L108.5,255.1 L109.0,255.2 L109.4,255.2 L109.9,255.2 L110.4,255.1 L110.9,255.1 L111.3,255.1 L111.8,255.2 L112.3,255.2 L112.7,255.2 L113.2,255.2 L113.7,255.2 L114.2,255.2 L114.6,255.2 L115.1,255.2 L115.6,255.2 L116.0,255.2 L116.5,255.2 L117.0,255.2 L117.5,255.2 L117.9,255.2 L118.4,255.1 L118.9,255.1 L119.3,255.1 L119.8,255.1 L120.3,255.1 L120.8,255.2 L121.2,255.1 L121.7,255.1 L122.2,255.1 L122.6,255.1 L123.1,255.1 L123.6,255.2 L124.1,255.2 L124.5,255.3 L125.0,255.3 L125.5,255.2 L126.0,255.2 L126.4,255.2 L126.9,255.2 L127.4,255.2 L127.8,255.3 L128.3,255.3 L128.8,255.3 L129.3,255.3 L129.7,255.3 L130.2,255.2 L130.7,255.2 L131.1,255.2 L131.6,255.2 L132.1,255.2 L132.6,255.2 L133.0,255.2 L133.5,255.2 L134.0,255.1 L134.4,255.1 L134.9,255.1 L135.4,255.1 L135.9,255.2 L136.3,255.2 L136.8,255.2 L137.3,255.2 L137.8,255.2 L138.2,255.2 L138.7,255.2 L139.2,255.2 L139.6,255.2 L140.1,255.2 L140.6,255.2 L141.1,255.2 L141.5,255.3 L142.0,255.3 L142.5,255.3 L142.9,255.3 L143.4,255.4 L143.9,255.4 L144.4,255.3 L144.8,255.3 L145.3,255.3 L145.8,255.2 L146.2,255.2 L146.7,255.1 L147.2,255.1 L147.7,255.1 L148.1,255.2 L148.6,255.2 L149.1,255.2 L149.5,255.2 L150.0,255.3 L150.5,255.3 L151.0,255.4 L151.4,255.4 L151.9,255.4 L152.4,255.4 L152.9,255.4 L153.3,255.3 L153.8,255.3 L154.3,255.3 L154.7,255.3 L155.2,255.3 L155.7,255.3 L156.2,255.3 L156.6,255.2 L157.1,255.2 L157.6,255.2 L158.0,255.1 L158.5,255.1 L159.0,255.1 L159.5,255.1 L159.9,255.1 L160.4,255.2 L160.9,255.2 L161.3,255.2 L161.8,255.2 L162.3,255.3 L162.8,255.3 L163.2,255.3 L163.7,255.4 L164.2,255.3 L164.6,255.3 L165.1,255.1 L165.6,255.1 L166.1,255.1 L166.5,255.1 L167.0,255.1 L167.5,255.1 L168.0,255.1 L168.4,255.2 L168.9,255.2 L169.4,255.3 L169.8,255.3 L170.3,255.3 L170.8,255.3 L171.3,255.3 L171.7,255.2 L172.2,255.2 L172.7,255.1 L173.1,255.2 L173.6,255.2 L174.1,255.2 L174.6,255.2 L175.0,255.2 L175.5,255.3 L176.0,255.3 L176.4,255.3 L176.9,255.3 L177.4,255.3 L177.9,255.2 L178.3,255.2 L178.8,255.1 L179.3,255.2 L179.7,255.2 L180.2,255.2 L180.7,255.3 L181.2,255.3 L181.6,255.2 L182.1,255.1 L182.6,255.1 L183.1,255.2 L183.5,255.3 L184.0,255.3 L184.5,255.2 L184.9,255.2 L185.4,255.2 L185.9,255.2 L186.4,255.2 L186.8,255.2 L187.3,255.2 L187.8,255.2 L188.2,255.2 L188.7,255.1 L189.2,255.1 L189.7,255.1 L190.1,255.1 L190.6,255.1 L191.1,255.2 L191.5,255.2 L192.0,255.3 L192.5,255.3 L193.0,255.2 L193.4,255.2 L193.9,255.1 L194.4,255.2 L194.9,255.2 L195.3,255.3 L195.8,255.3 L196.3,255.3 L196.7,255.2 L197.2,255.1 L197.7,255.1 L198.2,255.0 L198.6,255.1 L199.1,255.0 L199.6,255.0 L200.0,255.0 L200.5,254.9 L201.0,254.8 L201.3,254.7 L201.4,254.7 L201.5,254.6 L201.5,254.7 L201.7,254.7 L201.8,254.8 L201.9,254.7 L201.9,254.7 L202.0,254.6 L202.1,254.6 L202.2,254.6 L202.4,254.6 L202.4,254.6 L202.5,254.5 L202.6,254.4 L202.7,254.3 L202.8,254.3 L202.9,254.3 L203.0,254.2 L203.1,254.1 L203.2,254.0 L203.3,254.0 L203.3,254.0 L203.4,254.0 L203.5,253.9 L203.7,253.8 L203.8,253.7 L203.8,253.7 L203.9,253.5 L204.0,253.4 L204.1,253.2 L204.3,253.1 L204.3,253.1 L204.4,252.9 L204.5,252.8 L204.6,252.6 L204.7,252.3 L204.8,252.2 L204.8,251.9 L205.0,251.5 L205.1,251.0 L205.2,250.3 L205.2,250.1 L205.3,249.6 L205.4,248.5 L205.6,247.1 L205.7,245.4 L205.7,244.7 L205.8,243.1 L205.9,240.3 L206.0,237.0 L206.1,233.3 L206.2,232.1 L206.3,229.1 L206.4,224.3 L206.5,219.2 L206.6,213.9 L206.6,212.4 L206.7,208.8 L206.8,204.3 L207.0,200.8 L207.1,198.6 L207.1,198.2 L207.2,197.8 L207.3,198.4 L207.4,200.3 L207.6,202.9 L207.6,203.8 L207.7,206.1 L207.8,209.4 L207.9,212.9 L208.0,216.5 L208.1,217.6 L208.1,220.3 L208.3,224.1 L208.4,227.8 L208.5,231.4 L208.5,232.4 L208.6,234.7 L208.7,237.8 L208.9,240.6 L209.0,243.0 L209.0,243.6 L209.1,245.0 L209.2,246.6 L209.3,248.1 L209.4,249.2 L209.5,249.6 L209.6,250.3 L209.7,250.9 L209.8,251.4 L209.9,251.9 L210.0,252.0 L210.0,252.3 L210.2,252.6 L210.3,252.8 L210.4,253.0 L210.4,253.0 L210.5,253.1 L210.6,253.3 L210.7,253.5 L210.9,253.6 L210.9,253.7 L211.0,253.8 L211.1,253.9 L211.2,253.9 L211.3,254.0 L211.4,254.0 L211.4,254.0 L211.6,254.1 L211.7,254.2 L211.8,254.3 L211.8,254.4 L211.9,254.4 L212.0,254.4 L212.2,254.4 L212.3,254.4 L212.3,254.5 L212.4,254.6 L212.5,254.6 L212.6,254.6 L212.7,254.6 L212.8,254.7 L212.9,254.8 L213.0,254.8 L213.1,254.7 L213.2,254.7 L213.3,254.6 L213.3,254.6 L213.5,254.7 L213.6,254.8 L213.7,254.9 L213.7,254.8 L213.8,254.8 L213.9,254.8 L214.0,254.8 L214.2,254.8 L214.2,254.8 L214.3,254.9 L214.7,255.0 L215.1,255.1 L215.6,255.2 L216.1,255.2 L216.6,255.1 L217.0,255.0 L217.5,255.0 L218.0,255.1 L218.4,255.2 L218.9,255.2 L219.4,255.2 L219.9,255.2 L220.3,255.2 L220.8,255.2 L221.3,255.2 L221.7,255.3 L222.2,255.3 L222.7,255.3 L223.2,255.2 L223.6,255.2 L224.1,255.1 L224.6,255.1 L225.1,255.1 L225.5,255.2 L226.0,255.3 L226.5,255.3 L226.9,255.4 L227.4,255.4 L227.9,255.3 L228.4,255.2 L228.8,255.2 L229.3,255.2 L229.8,255.3 L230.2,255.3 L230.7,255.3 L231.2,255.3 L231.7,255.3 L232.1,255.3 L232.6,255.3 L233.1,255.3 L233.5,255.3 L234.0,255.3 L234.5,255.3 L235.0,255.4 L235.4,255.4 L235.9,255.4 L236.4,255.4 L236.8,255.4 L237.3,255.4 L237.8,255.4 L238.3,255.4 L238.7,255.3 L239.2,255.3 L239.7,255.4 L240.2,255.4 L240.6,255.4 L241.1,255.4 L241.6,255.4 L242.0,255.4 L242.5,255.3 L243.0,255.3 L243.5,255.3 L243.9,255.4 L244.4,255.4 L244.9,255.5 L245.3,255.4 L245.8,255.4 L246.3,255.4 L246.8,255.4 L247.2,255.4 L247.7,255.4 L248.2,255.4 L248.6,255.4 L249.1,255.4 L249.6,255.4 L250.1,255.3 L250.5,255.3 L251.0,255.3 L251.5,255.3 L251.9,255.4 L252.4,255.5 L252.9,255.5 L253.4,255.4 L253.8,255.4 L254.3,255.4 L254.8,255.4 L255.3,255.4 L255.7,255.4 L256.2,255.4 L256.7,255.4 L257.1,255.4 L257.6,255.3 L258.1,255.3 L258.6,255.3 L259.0,255.3 L259.5,255.3 L260.0,255.2 L260.4,255.2 L260.9,255.2 L261.4,255.3 L261.9,255.3 L262.3,255.3 L262.8,255.4 L263.3,255.4 L263.7,255.5 L264.2,255.5 L264.7,255.4 L265.2,255.4 L265.6,255.4 L266.1,255.4 L266.6,255.3 L267.1,255.3 L267.5,255.4 L268.0,255.4 L268.5,255.4 L268.9,255.4 L269.4,255.3 L269.9,255.3 L270.4,255.3 L270.8,255.4 L271.3,255.5 L271.8,255.4 L272.2,255.4 L272.7,255.3 L273.2,255.2 L273.7,255.2 L274.1,255.2 L274.6,255.1 L275.1,255.1 L275.5,255.0 L276.0,254.9 L276.5,254.9 L277.0,254.9 L277.4,255.0 L277.9,255.1 L278.4,255.2 L278.8,255.2 L279.3,255.3 L279.8,255.3 L280.3,255.3 L280.7,255.3 L281.2,255.3 L281.7,255.2 L282.2,255.2 L282.6,255.3 L283.1,255.3 L283.6,255.4 L284.0,255.4 L284.5,255.4 L285.0,255.3 L285.5,255.3 L285.9,255.3 L286.4,255.3 L286.9,255.3 L287.3,255.3 L287.8,255.3 L288.3,255.3 L288.8,255.3 L289.2,255.4 L289.7,255.3 L290.2,255.2 L290.6,255.1 L290.6,255.2 L290.7,255.2 L290.8,255.3 L290.9,255.3 L291.0,255.2 L291.1,255.2 L291.2,255.2 L291.3,255.2 L291.4,255.2 L291.5,255.2 L291.6,255.2 L291.6,255.2 L291.8,255.1 L291.9,255.1 L292.0,255.1 L292.1,255.1 L292.1,255.0 L292.2,255.0 L292.3,255.0 L292.5,255.0 L292.5,255.0 L292.6,255.1 L292.7,255.1 L292.8,255.0 L292.9,255.0 L293.0,255.0 L293.1,255.0 L293.2,255.0 L293.3,255.0 L293.4,254.9 L293.5,254.9 L293.5,254.8 L293.6,254.7 L293.8,254.7 L293.9,254.6 L293.9,254.5 L294.0,254.4 L294.1,254.2 L294.2,254.1 L294.3,253.9 L294.4,253.8 L294.5,253.7 L294.6,253.3 L294.7,253.0 L294.8,252.6 L294.9,252.4 L294.9,252.1 L295.1,251.5 L295.2,250.9 L295.3,250.3 L295.4,249.9 L295.4,249.7 L295.5,248.9 L295.6,248.1 L295.8,247.4 L295.8,246.9 L295.9,246.6 L296.0,245.8 L296.1,245.3 L296.2,244.9 L296.3,244.7 L296.4,244.6 L296.5,244.5 L296.6,244.6 L296.7,244.9 L296.8,245.0 L296.8,245.1 L296.9,245.5 L297.1,246.0 L297.2,246.5 L297.3,246.8 L297.3,247.1 L297.4,247.6 L297.5,248.1 L297.7,248.7 L297.7,249.0 L297.8,249.2 L297.9,249.8 L298.0,250.3 L298.1,250.8 L298.2,251.1 L298.2,251.4 L298.4,251.8 L298.5,252.3 L298.6,252.7 L298.7,252.9 L298.7,253.0 L298.8,253.3 L299.0,253.6 L299.1,253.9 L299.1,254.0 L299.2,254.1 L299.3,254.3 L299.4,254.5 L299.5,254.7 L299.6,254.7 L299.7,254.7 L299.8,254.7 L299.9,254.7 L300.0,254.7 L300.1,254.7 L300.1,254.8 L300.2,255.0 L300.4,255.1 L300.5,255.1 L300.6,255.1 L300.6,255.1 L300.7,255.1 L300.8,255.1 L301.0,255.1 L301.0,255.1 L301.1,255.1 L301.2,255.2 L301.3,255.2 L301.4,255.2 L301.5,255.2 L301.5,255.1 L301.7,255.1 L301.8,255.2 L301.9,255.2 L302.0,255.2 L302.0,255.2 L302.1,255.2 L302.3,255.2 L302.4,255.2 L302.4,255.2 L302.5,255.2 L302.6,255.2 L302.7,255.2 L302.8,255.3 L302.9,255.3 L303.0,255.3 L303.1,255.3 L303.2,255.3 L303.3,255.4 L303.4,255.4 L303.4,255.4 L303.6,255.4 L303.9,255.3 L304.3,255.3 L304.8,255.4 L305.3,255.5 L305.7,255.5 L306.2,255.5 L306.7,255.6 L307.2,255.6 L307.6,255.6 L308.1,255.5 L308.6,255.4 L309.0,255.4 L309.5,255.4 L310.0,255.4 L310.5,255.4 L310.9,255.4 L311.4,255.4 L311.9,255.3 L312.4,255.4 L312.8,255.4 L313.3,255.4 L313.8,255.4 L314.2,255.4 L314.7,255.4 L315.2,255.4 L315.7,255.5 L316.1,255.5 L316.6,255.5 L317.1,255.4 L317.5,255.4 L318.0,255.4 L318.5,255.4 L319.0,255.5 L319.4,255.5 L319.9,255.4 L320.4,255.4 L320.8,255.3 L321.3,255.3 L321.8,255.3 L322.3,255.3 L322.7,255.3 L323.2,255.3 L323.7,255.3 L324.2,255.3 L324.6,255.3 L325.1,255.3 L325.6,255.4 L326.0,255.4 L326.5,255.4 L327.0,255.4 L327.5,255.4 L327.9,255.4 L328.4,255.4 L328.9,255.4 L329.3,255.4 L329.8,255.4 L330.3,255.4 L330.8,255.4 L331.2,255.4 L331.7,255.3 L332.2,255.2 L332.6,255.1 L333.1,255.0 L333.6,255.0 L334.1,255.1 L334.5,255.1 L335.0,255.2 L335.5,255.3 L335.9,255.4 L336.4,255.4 L336.9,255.4 L337.4,255.5 L337.8,255.5 L338.3,255.5 L338.8,255.5 L339.3,255.5 L339.7,255.5 L340.2,255.5 L340.7,255.4 L341.1,255.4 L341.6,255.4 L342.1,255.5 L342.6,255.6 L343.0,255.7 L343.5,255.7 L344.0,255.6 L344.4,255.6 L344.9,255.5 L345.4,255.4 L345.9,255.4 L346.3,255.4 L346.8,255.3 L347.3,255.3 L347.7,255.3 L348.2,255.3 L348.7,255.4 L349.2,255.4 L349.6,255.5 L350.1,255.6 L350.6,255.5 L351.0,255.5 L351.5,255.4 L352.0,255.5 L352.5,255.5 L352.9,255.5 L353.4,255.5 L353.9,255.5 L354.4,255.5 L354.8,255.6 L355.3,255.6 L355.8,255.5 L356.2,255.4 L356.7,255.3 L357.2,255.3 L357.7,255.3 L358.1,255.4 L358.6,255.4 L359.1,255.5 L359.5,255.5 L360.0,255.5 L360.5,255.4 L361.0,255.3 L361.4,255.3 L361.9,255.3 L362.4,255.4 L362.8,255.5 L363.3,255.4 L363.8,255.3 L364.3,255.2 L364.7,255.2 L365.2,255.2 L365.7,255.3 L366.1,255.3 L366.6,255.3 L367.1,255.2 L367.6,255.1 L368.0,255.0 L368.0,255.0 L368.1,255.1 L368.2,255.1 L368.3,255.1 L368.4,255.0 L368.5,255.0 L368.6,255.0 L368.7,255.0 L368.8,255.0 L368.9,254.9 L369.0,254.9 L369.0,254.8 L369.1,254.7 L369.3,254.6 L369.4,254.6 L369.5,254.6 L369.5,254.6 L369.6,254.5 L369.7,254.5 L369.9,254.4 L369.9,254.4 L370.0,254.4 L370.1,254.3 L370.2,254.3 L370.3,254.2 L370.4,254.2 L370.4,254.2 L370.6,254.0 L370.7,253.9 L370.8,253.7 L370.9,253.6 L370.9,253.5 L371.0,253.3 L371.2,253.1 L371.3,252.7 L371.3,252.5 L371.4,252.3 L371.5,251.8 L371.6,251.2 L371.7,250.6 L371.8,250.1 L371.9,249.8 L372.0,249.0 L372.1,248.2 L372.2,247.2 L372.3,246.6 L372.3,246.1 L372.4,244.9 L372.6,243.5 L372.7,242.1 L372.8,241.3 L372.8,240.8 L372.9,239.3 L373.0,237.9 L373.2,236.4 L373.2,235.7 L373.3,235.2 L373.4,234.2 L373.5,233.2 L373.6,232.4 L373.7,232.1 L373.7,232.0 L373.9,232.0 L374.0,232.1 L374.1,232.5 L374.2,232.8 L374.2,233.0 L374.3,233.6 L374.5,234.4 L374.6,235.2 L374.6,235.8 L374.7,236.2 L374.8,237.2 L374.9,238.2 L375.0,239.2 L375.1,239.7 L375.2,240.1 L375.3,241.2 L375.4,242.2 L375.5,243.4 L375.6,244.0 L375.6,244.4 L375.8,245.4 L375.9,246.3 L376.0,247.2 L376.1,247.8 L376.1,248.1 L376.2,248.8 L376.3,249.5 L376.5,250.3 L376.5,250.7 L376.6,251.0 L376.7,251.5 L376.8,251.9 L376.9,252.3 L377.0,252.4 L377.0,252.6 L377.2,252.9 L377.3,253.1 L377.4,253.4 L377.5,253.5 L377.5,253.6 L377.6,253.8 L377.8,254.0 L377.9,254.1 L377.9,254.2 L378.0,254.2 L378.1,254.3 L378.2,254.3 L378.3,254.4 L378.4,254.5 L378.5,254.5 L378.6,254.6 L378.7,254.6 L378.8,254.6 L378.9,254.6 L378.9,254.7 L379.1,254.8 L379.2,254.9 L379.3,254.9 L379.4,254.8 L379.4,254.8 L379.5,254.8 L379.6,254.9 L379.8,254.9 L379.8,254.9 L379.9,255.0 L380.0,255.0 L380.1,255.0 L380.2,255.0 L380.3,255.0 L380.4,255.1 L380.5,255.1 L380.6,255.1 L380.7,255.1 L380.8,255.1 L380.8,255.2 L380.9,255.2 L381.2,255.3 L381.7,255.4 L382.2,255.4 L382.7,255.4 L383.1,255.4 L383.6,255.4 L384.1,255.4 L384.6,255.4 L385.0,255.4 L385.5,255.4 L386.0,255.4 L386.4,255.3 L386.9,255.4 L387.4,255.5 L387.9,255.6 L388.3,255.6 L388.8,255.6 L389.3,255.5 L389.7,255.5 L390.2,255.5 L390.7,255.5 L391.2,255.5 L391.6,255.5 L392.1,255.5 L392.6,255.5 L393.0,255.5 L393.5,255.6 L394.0,255.6 L394.5,255.6 L394.9,255.6 L395.4,255.6 L395.9,255.5 L396.4,255.5 L396.8,255.4 L397.3,255.5 L397.8,255.5 L398.2,255.5 L398.7,255.5 L399.2,255.5 L399.7,255.5 L400.1,255.5 L400.6,255.5 L401.1,255.5 L401.5,255.5 L402.0,255.5 L402.5,255.5 L403.0,255.6 L403.4,255.5 L403.9,255.5 L404.4,255.5 L404.8,255.5 L405.3,255.5 L405.8,255.5 L406.3,255.5 L406.7,255.5 L407.2,255.4 L407.7,255.5 L408.1,255.5 L408.6,255.5 L409.1,255.4 L409.6,255.4 L410.0,255.4 L410.5,255.5 L411.0,255.5 L411.5,255.5 L411.9,255.5 L412.4,255.6 L412.9,255.6 L413.3,255.7 L413.8,255.7 L414.3,255.6 L414.8,255.6 L415.2,255.5 L415.7,255.5 L416.2,255.5 L416.6,255.5 L417.1,255.6 L417.6,255.6 L418.1,255.6 L418.5,255.5 L419.0,255.5 L419.5,255.4 L419.9,255.4 L420.4,255.5 L420.9,255.6 L421.4,255.6 L421.8,255.6 L422.3,255.5 L422.8,255.5 L423.2,255.5 L423.7,255.5 L424.2,255.5 L424.7,255.5 L425.1,255.6 L425.6,255.6 L426.1,255.6 L426.6,255.6 L427.0,255.6 L427.5,255.6 L428.0,255.6 L428.4,255.6 L428.9,255.6 L429.4,255.5 L429.9,255.5 L430.3,255.5 L430.8,255.5 L431.3,255.5 L431.7,255.5 L432.2,255.5 L432.7,255.6 L433.2,255.6 L433.6,255.6 L434.1,255.6 L434.6,255.5 L435.0,255.5 L435.5,255.5 L436.0,255.6 L436.5,255.6 L436.9,255.7 L436.9,255.7 L437.0,255.6 L437.1,255.6 L437.2,255.5 L437.3,255.5 L437.4,255.5 L437.5,255.6 L437.6,255.6 L437.7,255.6 L437.8,255.5 L437.9,255.4 L437.9,255.5 L438.0,255.5 L438.2,255.5 L438.3,255.5 L438.3,255.4 L438.4,255.4 L438.5,255.4 L438.6,255.5 L438.8,255.6 L438.8,255.6 L438.9,255.6 L439.0,255.5 L439.1,255.5 L439.2,255.4 L439.3,255.4 L439.3,255.4 L439.5,255.4 L439.6,255.4 L439.7,255.3 L439.8,255.3 L439.8,255.3 L439.9,255.3 L440.0,255.3 L440.2,255.3 L440.2,255.3 L440.3,255.3 L440.4,255.3 L440.5,255.3 L440.6,255.2 L440.7,255.1 L440.8,255.1 L440.9,254.9 L441.0,254.9 L441.1,254.7 L441.2,254.8 L441.2,254.8 L441.3,254.8 L441.5,254.6 L441.6,254.5 L441.7,254.4 L441.7,254.3 L441.8,254.2 L441.9,254.1 L442.1,254.1 L442.1,254.0 L442.2,253.9 L442.3,253.9 L442.4,253.9 L442.5,253.9 L442.6,253.9 L442.6,253.9 L442.8,253.9 L442.9,253.9 L443.0,253.9 L443.1,253.9 L443.1,253.9 L443.2,253.9 L443.4,253.9 L443.5,253.9 L443.5,253.9 L443.6,254.0 L443.7,254.0 L443.8,254.1 L443.9,254.2 L444.0,254.3 L444.1,254.4 L444.2,254.5 L444.3,254.5 L444.4,254.6 L444.5,254.6 L444.5,254.6 L444.6,254.6 L444.8,254.7 L444.9,254.8 L445.0,254.8 L445.0,254.8 L445.1,254.9 L445.2,255.0 L445.4,255.1 L445.4,255.1 L445.5,255.1 L445.6,255.2 L445.7,255.2 L445.8,255.3 L445.9,255.3 L445.9,255.4 L446.1,255.4 L446.2,255.4 L446.3,255.4 L446.4,255.4 L446.4,255.4 L446.5,255.5 L446.7,255.5 L446.8,255.6 L446.8,255.7 L446.9,255.6 L447.0,255.7 L447.1,255.6 L447.2,255.6 L447.3,255.6 L447.4,255.6 L447.5,255.6 L447.6,255.6 L447.7,255.6 L447.8,255.6 L447.8,255.6 L448.0,255.5 L448.1,255.4 L448.2,255.4 L448.3,255.5 L448.3,255.5 L448.4,255.5 L448.5,255.6 L448.7,255.6 L448.7,255.6 L448.8,255.6 L448.9,255.6 L449.0,255.6 L449.1,255.6 L449.2,255.6 L449.3,255.6 L449.4,255.6 L449.5,255.7 L449.6,255.7 L449.7,255.6 L449.7,255.6 L449.8,255.6 L450.1,255.6 L450.6,255.6 L451.1,255.6 L451.6,255.6 L452.0,255.6 L452.5,255.6 L453.0,255.6 L453.5,255.7 L453.9,255.7 L454.4,255.7 L454.9,255.6 L455.3,255.6 L455.8,255.5 L456.3,255.6 L456.8,255.7 L457.2,255.8 L457.7,255.8 L458.2,255.8 L458.6,255.8 L459.1,255.8 L459.6,255.8 L460.1,255.7 L460.5,255.7 L461.0,255.6 L461.5,255.6 L461.9,255.6 L462.4,255.6 L462.9,255.6 L463.4,255.6 L463.8,255.6 L464.3,255.7 L464.8,255.7 L465.2,255.7 L465.7,255.7 L466.2,255.7 L466.7,255.7 L467.1,255.7 L467.6,255.6 L468.1,255.6 L468.6,255.5 L469.0,255.5 L469.5,255.5 L470.0,255.6 L470.4,255.6 L470.9,255.6 L471.4,255.6 L471.9,255.7 L472.3,255.7 L472.8,255.7 L473.3,255.8 L473.7,255.8 L474.2,255.8 L474.7,255.7 L475.2,255.6 L475.6,255.5 L476.1,255.5 L476.6,255.5 L477.0,255.6 L477.5,255.6 L478.0,255.6 L478.5,255.6 L478.9,255.6 L479.4,255.6 L479.9,255.6 L480.3,255.7 L480.8,255.7 L481.3,255.8 L481.8,255.7 L482.2,255.7 L482.7,255.7 L483.2,255.6 L483.7,255.6 L484.1,255.6 L484.6,255.6 L485.1,255.7 L485.5,255.7 L486.0,255.7 L486.5,255.7 L487.0,255.7 L487.4,255.7 L487.9,255.7 L488.4,255.7 L488.8,255.6 L489.3,255.6 L489.8,255.6 L490.3,255.6 L490.7,255.6 L491.2,255.6 L491.7,255.6 L492.1,255.7 L492.6,255.7 L493.1,255.6 L493.6,255.6 L494.0,255.6 L494.5,255.6 L495.0,255.5 L495.4,255.5 L495.9,255.5 L496.4,255.6 L496.9,255.6 L497.3,255.6 L497.8,255.5 L498.3,255.5 L498.8,255.5 L499.2,255.5 L499.7,255.5 L500.2,255.4 L500.6,255.5 L501.1,255.5 L501.6,255.4 L502.1,255.3 L502.5,255.3 L502.7,255.3 L502.8,255.3 L502.9,255.3 L503.0,255.3 L503.0,255.3 L503.2,255.3 L503.3,255.3 L503.4,255.2 L503.5,255.1 L503.5,255.0 L503.6,254.9 L503.8,254.9 L503.9,254.9 L503.9,254.9 L504.0,254.9 L504.1,254.9 L504.2,254.8 L504.3,254.8 L504.4,254.8 L504.5,254.8 L504.6,254.7 L504.7,254.6 L504.8,254.5 L504.9,254.4 L504.9,254.4 L505.1,254.4 L505.2,254.3 L505.3,254.1 L505.4,253.9 L505.4,253.8 L505.5,253.5 L505.6,253.3 L505.8,253.2 L505.8,253.1 L505.9,253.0 L506.0,252.6 L506.1,252.2 L506.2,251.9 L506.3,251.7 L506.3,251.5 L506.5,251.0 L506.6,250.5 L506.7,250.0 L506.8,249.7 L506.8,249.5 L506.9,248.9 L507.1,248.3 L507.2,247.7 L507.2,247.3 L507.3,247.0 L507.4,246.3 L507.5,245.7 L507.6,245.0 L507.7,244.6 L507.8,244.3 L507.9,243.9 L508.0,243.4 L508.1,243.0 L508.2,242.7 L508.2,242.5 L508.4,242.2 L508.5,242.1 L508.6,242.1 L508.7,242.2 L508.7,242.2 L508.8,242.3 L508.9,242.6 L509.1,242.8 L509.1,242.9 L509.2,243.0 L509.3,243.3 L509.4,243.7 L509.5,244.2 L509.6,244.4 L509.7,244.6 L509.8,245.0 L509.9,245.5 L510.0,245.9 L510.1,246.2 L510.1,246.4 L510.2,246.9 L510.4,247.3 L510.5,247.7 L510.5,248.0 L510.6,248.3 L510.7,248.8 L510.8,249.3 L511.0,249.8 L511.0,250.0 L511.1,250.2 L511.2,250.6 L511.3,251.0 L511.4,251.4 L511.5,251.6 L511.5,251.7 L511.7,252.0 L511.8,252.3 L511.9,252.6 L512.0,252.8 L512.0,252.9 L512.1,253.1 L512.2,253.3 L512.4,253.4 L512.4,253.5 L512.5,253.6 L512.6,253.9 L512.7,254.1 L512.8,254.3 L512.9,254.3 L513.0,254.3 L513.1,254.4 L513.2,254.6 L513.3,254.7 L513.4,254.7 L513.4,254.7 L513.5,254.7 L513.7,254.8 L513.8,254.8 L513.9,254.9 L513.9,255.0 L514.0,255.0 L514.1,255.1 L514.3,255.1 L514.3,255.1 L514.4,255.2 L514.5,255.2 L514.6,255.2 L514.7,255.2 L514.8,255.2 L514.8,255.2 L515.0,255.3 L515.1,255.3 L515.2,255.3 L515.3,255.3 L515.3,255.3 L515.4,255.3 L515.6,255.3 L515.7,255.3 L515.7,255.3 L516.2,255.4 L516.7,255.4 L517.2,255.5 L517.6,255.5 L518.1,255.5 L518.6,255.4 L519.0,255.4 L519.5,255.5 L520.0,255.5 L520.5,255.5 L520.9,255.5 L521.4,255.5 L521.9,255.5 L522.3,255.5 L522.8,255.6 L523.3,255.6 L523.8,255.6 L524.2,255.6 L524.7,255.6 L525.2,255.6 L525.7,255.7 L526.1,255.7 L526.6,255.7 L527.1,255.7 L527.5,255.7 L528.0,255.7 L528.5,255.6 L529.0,255.6 L529.4,255.6 L529.9,255.6 L530.4,255.6 L530.8,255.6 L531.3,255.7 L531.8,255.7 L532.3,255.7 L532.7,255.7 L533.2,255.7 L533.7,255.6 L534.1,255.7 L534.6,255.7 L535.1,255.8 L535.6,255.8 L536.0,255.7 L536.5,255.7 L537.0,255.7 L537.4,255.7 L537.9,255.7 L538.4,255.8 L538.9,255.7 L539.3,255.7 L539.8,255.7 L540.3,255.6 L540.8,255.7 L541.2,255.7 L541.7,255.8 L542.2,255.8 L542.6,255.8 L543.1,255.8 L543.6,255.8 L544.1,255.7 L544.5,255.7 L545.0,255.7 L545.5,255.8 L545.9,255.8 L546.4,255.8 L546.9,255.7 L547.4,255.7 L547.8,255.7 L548.3,255.7 L548.8,255.7 L549.2,255.7 L549.7,255.7 L550.2,255.8 L550.7,255.8 L551.1,255.8 L551.6,255.7 L552.1,255.7 L552.5,255.7 L553.0,255.8 L553.5,255.8 L554.0,255.8 L554.4,255.8 L554.9,255.8 L555.4,255.8 L555.9,255.8 L556.3,255.8 L556.8,255.8 L557.3,255.8 L557.7,255.9 L558.2,255.9 L558.7,255.8 L559.2,255.8 L559.6,255.8 L560.1,255.7 L560.6,255.7 L561.0,255.7 L561.5,255.8 L562.0,255.8 L562.5,255.8 L562.9,255.8 L563.4,255.8 L563.9,255.8 L564.3,255.8 L564.8,255.7 L565.3,255.7 L565.8,255.7 L566.2,255.8 L566.7,255.8 L567.2,255.8 L567.6,255.8 L568.1,255.9 L568.6,255.9 L569.1,255.8 L569.5,255.7 L570.0,255.6 L570.5,255.6 L571.0,255.6 L571.4,255.7 L571.9,255.7 L572.4,255.7 L572.8,255.8 L573.3,255.8 L573.8,255.8 L574.3,255.7 L574.7,255.6 L575.2,255.6 L575.7,255.6 L576.1,255.6 L576.6,255.7 L577.1,255.8 L577.6,255.9 L578.0,255.8 L578.5,255.8 L579.0,255.8 L579.4,255.7 L579.9,255.7 L580.4,255.7 L580.9,255.7 L581.3,255.8 L581.8,255.8 L582.3,255.7 L582.7,255.8 L583.2,255.8 L583.7,255.8 L584.2,255.7 L584.6,255.7 L585.1,255.7 L585.6,255.8 L586.1,255.8 L586.5,255.9 L587.0,255.9 L587.5,255.9 L587.9,255.8 L588.4,255.7 L588.9,255.7 L589.4,255.7 L589.8,255.8 L590.3,255.9 L590.8,255.9 L591.2,255.8 L591.7,255.8 L592.2,255.8 L592.7,255.9 L593.1,255.9 L593.6,255.9 L594.1,255.9 L594.5,255.9 L595.0,255.9 L595.5,255.9 L596.0,255.9 L596.4,255.9 L596.9,255.9 L597.4,255.8 L597.9,255.8 L598.3,255.8 L598.8,255.8 L599.3,255.8 L599.7,255.7 L600.2,255.7 L600.7,255.7 L601.2,255.7 L601.6,255.7 L602.1,255.8 L602.6,255.8 L603.0,255.8 L603.5,255.9 L604.0,255.9 L604.5,255.8 L604.9,255.8 L605.4,255.8 L605.9,255.8 L606.3,255.8 L606.8,255.8 L607.3,255.8 L607.8,255.7 L608.2,255.7 L608.7,255.8 L609.2,255.8 L609.6,255.9 L610.1,255.9 L610.6,255.9 L611.1,255.9 L611.5,255.8 L612.0,255.8 L612.5,255.8 L613.0,255.8 L613.4,255.8 L613.9,255.9 L614.4,255.8 L614.8,255.9 L615.3,255.8 L615.8,255.8 L616.3,255.8 L616.7,255.7 L617.2,255.7 L617.7,255.7 L618.1,255.7 L618.6,255.7 L619.1,255.7 L619.6,255.7 L620.0,255.8 L620.5,255.9 L621.0,255.9 L621.4,255.8 L621.9,255.6 L622.4,255.5 L622.9,255.5 L623.3,255.5 L623.8,255.5 L624.3,255.5 L624.7,255.5 L625.2,255.4 L625.7,255.2 L626.2,255.1 L626.6,254.8 L627.1,254.5 L627.6,254.0 L628.1,253.4 L628.5,252.8 L629.0,252.5 L629.5,252.4 L629.9,252.5 L630.4,252.8 L630.9,253.1 L631.4,253.5 L631.8,254.0 L632.3,254.4 L632.8,254.8 L633.2,255.1 L633.7,255.3 L634.2,255.4 L634.7,255.6 L635.1,255.6 L635.6,255.7 L636.1,255.7 L636.5,255.8 L637.0,255.7 L637.5,255.7 L638.0,255.7 L638.4,255.8 L638.9,255.8 L639.4,255.8 L639.8,255.8 L640.3,255.8 L640.8,255.9 L641.3,255.9 L641.7,255.9 L642.2,255.9 L642.7,255.9 L643.2,255.9 L643.6,255.9 L644.1,255.8 L644.6,255.8 L645.0,255.8 L645.5,255.8 L646.0,255.8 L646.5,255.8 L646.9,255.8 L647.4,255.8 L647.9,255.9 L648.3,255.9 L648.8,255.9 L649.3,255.8 L649.8,255.8 L650.2,255.8 L650.7,255.8 L651.2,255.8 L651.6,255.8 L652.1,255.8 L652.6,255.9 L653.1,255.8 L653.5,255.9 L654.0,255.9 L654.5,255.8 L655.0,255.8 L655.4,255.8 L655.9,255.9 L656.4,255.9 L656.8,255.9 L657.3,255.9 L657.8,255.9 L658.3,255.8 L658.7,255.8 L659.2,255.8 L659.7,255.8 L660.1,255.9 L660.6,255.9 L661.1,255.9 L661.6,255.9 L662.0,255.9 L662.5,255.9 L663.0,255.9 L663.4,255.9 L663.9,255.9 L664.4,255.9 L664.9,255.9 L665.3,255.9 L665.8,256.0 L666.3,256.0 L666.7,256.0 L667.2,256.0 L667.7,256.0 L668.2,255.9 L668.6,255.9 L669.1,255.9 L669.6,255.8 L670.1,255.8 L670.5,255.8 L671.0,255.8 L671.5,255.8 L671.9,255.9 L672.4,255.9 L672.9,255.9 L673.4,255.9 L673.8,255.8 L674.3,255.8 L674.8,255.9 L675.2,255.9 L675.7,255.9 L676.2,255.8 L676.7,255.8 L677.1,255.9 L677.6,255.9 L678.1,255.9 L678.5,255.9 L679.0,255.9 L679.5,255.9 L680.0,256.0 L680.4,255.9 L680.9,255.9 L681.4,255.9 L681.8,255.9 L682.3,255.9 L682.8,255.9 L683.3,255.9 L683.7,256.0 L684.2,256.0 L684.7,255.9 L685.2,255.9 L685.6,255.9 L686.1,255.9 L686.6,255.9 L687.0,255.9 L687.5,255.9 L688.0,255.9 L688.5,255.9 L688.9,255.9 L689.4,256.0 L689.9,256.0 L690.3,255.9 L690.8,255.9 L691.3,255.8 L691.8,255.9 L692.2,255.8 L692.7,255.9 L693.2,255.9 L693.6,255.9 L694.1,255.9 L694.6,255.9 L695.1,255.9 L695.5,255.9 L696.0,255.9 L696.5,255.9 L696.9,256.0 L697.4,256.0 L697.9,256.0 L698.4,255.9 L698.8,255.9 L699.3,255.9 L699.8,255.9 L700.3,255.8 L700.7,255.8 L701.2,255.9 L701.7,256.0 L702.1,256.0 L702.6,256.0 L703.1,255.9 L703.6,255.9 L704.0,255.9 L704.5,255.9 L705.0,256.0 L705.4,256.0 L705.9,256.0 L706.4,256.0 L706.9,255.9 L707.3,255.9 L707.8,255.9 L708.3,255.9 L708.7,255.9 L709.2,255.9 L709.7,255.9 L710.2,255.9 L710.6,255.9 L711.1,255.9 L711.6,255.9 L712.0,255.9 L712.5,255.9 L713.0,255.9 L713.5,255.9 L713.9,255.9 L714.4,255.9 L714.9,255.8 L715.4,255.8 L715.8,255.9 L716.3,255.9 L716.8,255.9 L717.2,255.9 L717.7,256.0 L718.2,256.0 L718.7,256.1 L719.1,256.1 L719.6,256.0 L720.1,256.0 L720.5,256.0 L721.0,256.0 L721.5,256.0 L722.0,256.0 L722.4,255.9 L722.9,255.9 L723.4,255.9 L723.8,256.0 L724.3,256.0 L724.8,256.0 L725.3,256.0 L725.7,256.0 L726.2,255.9 L726.7,255.9 L727.2,255.9 L727.6,255.9 L728.1,255.9 L728.6,255.8 L729.0,255.7 L729.5,255.7 L730.0,255.8 L730.5,255.8 L730.9,255.9 L731.4,255.9 L731.9,255.9 L732.3,255.9 L732.8,255.9 L733.3,255.8 L733.8,255.8 L734.2,255.8 L734.7,255.7 L735.2,255.6 L735.6,255.4 L736.1,255.2 L736.6,255.0 L737.1,254.7 L737.5,254.3 L738.0,254.0 L738.5,253.6 L738.9,253.3 L739.4,253.2 L739.9,253.4 L740.4,253.6 L740.8,253.8 L741.3,254.0 L741.8,254.3 L742.3,254.6 L742.7,254.9 L743.2,255.1 L743.7,255.2 L744.1,255.4 L744.6,255.5 L745.1,255.7 L745.6,255.8 L746.0,255.8 L746.5,255.8 L747.0,255.8 L747.4,255.9 L747.9,255.9 L748.4,255.8 L748.9,255.8 L749.3,255.7 L749.8,255.8 L750.3,255.9 L750.7,256.0 L751.2,256.0 L751.7,256.0 L752.2,256.0 L752.6,256.0 L753.1,256.0 L753.6,256.0 L754.0,256.0 L754.5,255.9 L755.0,255.9 L755.5,255.9 L755.9,255.9 L756.4,255.9 L756.9,255.9 L757.4,256.0 L757.8,256.0 L758.3,256.0 L758.8,255.9 L759.2,255.9 L759.7,255.9 L760.2,255.9 L760.7,256.0 L761.1,256.1 L761.6,256.0 L762.1,256.0 L762.5,256.0 L763.0,256.0 L763.5,256.0 L764.0,255.9 L764.4,255.9 L764.9,255.9 L765.4,256.0 L765.8,256.0" fill="none" stroke="#1A6FDF" stroke-width="2.6" stroke-linejoin="round"/></g>
<g transform="scale(0.750,1)"><path d="M715.6,255.3 L716.3,255.3 L717.0,255.3 L717.6,255.4 L718.3,255.3 L719.0,255.3 L719.7,255.3 L720.4,255.3 L721.0,255.2 L721.7,255.2 L722.4,255.2 L723.1,255.2 L723.8,255.2 L724.4,255.1 L725.1,255.2 L725.8,255.2 L726.5,255.3 L727.2,255.3 L727.8,255.3 L728.5,255.3 L729.2,255.2 L729.9,255.2 L730.6,255.1 L731.2,255.2 L731.9,255.2 L732.6,255.3 L733.3,255.3 L734.0,255.3 L734.6,255.2 L735.3,255.2 L736.0,255.2 L736.7,255.2 L737.4,255.1 L738.0,255.1 L738.7,255.1 L739.4,255.2 L740.1,255.3 L740.8,255.3 L741.4,255.3 L742.1,255.3 L742.8,255.3 L743.5,255.3 L744.2,255.3 L744.8,255.2 L745.5,255.2 L746.2,255.2 L746.9,255.2 L747.6,255.2 L748.2,255.2 L748.9,255.2 L749.6,255.2 L750.3,255.2 L751.0,255.2 L751.6,255.2 L752.3,255.2 L753.0,255.2 L753.7,255.2 L754.4,255.2 L755.0,255.2 L755.7,255.2 L756.4,255.3 L757.1,255.3 L757.8,255.3 L758.4,255.2 L759.1,255.2 L759.8,255.2 L760.5,255.3 L761.2,255.3 L761.8,255.3 L762.5,255.3 L763.2,255.3 L763.9,255.3 L764.6,255.3 L765.2,255.3 L765.9,255.2 L766.6,255.2 L767.3,255.1 L768.0,255.1 L768.6,255.0 L769.3,255.0 L770.0,255.1 L770.7,255.1 L771.4,255.1 L772.0,255.1 L772.7,255.1 L773.4,255.1 L774.1,255.2 L774.8,255.2 L775.4,255.1 L776.1,255.1 L776.8,255.1 L777.5,255.1 L778.2,255.1 L778.8,255.0 L779.5,255.0 L780.2,255.0 L780.9,255.1 L781.6,255.0 L782.2,255.0 L782.9,254.9 L783.6,254.9 L784.3,255.0 L785.0,254.9 L785.6,254.8 L786.3,254.8 L787.0,254.7 L787.7,254.8 L788.4,254.8 L789.0,254.8 L789.7,254.7 L790.4,254.6 L791.1,254.5 L791.8,254.4 L792.4,254.4 L793.1,254.4 L793.8,254.2 L794.5,254.1 L795.2,253.9 L795.8,253.7 L796.5,253.4 L797.2,253.1 L797.9,252.7 L798.6,252.2 L799.2,251.5 L799.9,250.2 L800.6,248.1 L801.3,244.7 L802.0,239.5 L802.6,232.2 L803.3,222.8 L804.0,212.4 L804.7,203.1 L805.4,198.1 L806.0,198.8 L806.7,203.7 L807.4,210.3 L808.1,217.5 L808.8,225.1 L809.4,232.5 L810.1,238.7 L810.8,243.6 L811.5,247.1 L812.2,249.5 L812.8,251.1 L813.5,252.1 L814.2,252.7 L814.9,253.0 L815.6,253.3 L816.2,253.6 L816.9,253.9 L817.6,254.1 L818.3,254.2 L819.0,254.4 L819.6,254.4 L820.3,254.5 L821.0,254.6 L821.7,254.6 L822.4,254.6 L823.0,254.6 L823.7,254.7 L824.4,254.8 L825.1,254.9 L825.8,254.9 L826.4,255.0 L827.1,255.0 L827.8,255.0 L828.5,255.0 L829.2,255.0 L829.8,255.1 L830.5,255.1 L831.2,255.1 L831.9,255.1 L832.6,255.1 L833.2,255.2 L833.9,255.2 L834.6,255.2 L835.3,255.1 L836.0,255.1 L836.6,255.1 L837.3,255.2 L838.0,255.2 L838.7,255.2 L839.4,255.2 L840.0,255.2 L840.7,255.1 L841.4,255.1 L842.1,255.2 L842.8,255.2 L843.4,255.3 L844.1,255.3 L844.8,255.3 L845.5,255.3 L846.2,255.3 L846.8,255.3 L847.5,255.3 L848.2,255.3 L848.9,255.3 L849.6,255.3 L850.2,255.3 L850.9,255.3 L851.6,255.3 L852.3,255.3 L853.0,255.3 L853.6,255.3 L854.3,255.3 L855.0,255.3 L855.7,255.3 L856.4,255.2 L857.0,255.2 L857.7,255.2 L858.4,255.3 L859.1,255.3 L859.8,255.3 L860.4,255.3 L861.1,255.3 L861.8,255.3 L862.5,255.3 L863.2,255.3 L863.8,255.2 L864.5,255.2 L865.2,255.2 L865.9,255.3 L866.6,255.3 L867.2,255.4 L867.9,255.4 L868.6,255.4 L869.3,255.4 L870.0,255.3 L870.6,255.4 L871.3,255.3 L872.0,255.3 L872.7,255.3 L873.4,255.3 L874.0,255.3 L874.7,255.3 L875.4,255.3 L876.1,255.3 L876.8,255.3 L877.4,255.3 L878.1,255.3 L878.8,255.3 L879.5,255.4 L880.2,255.4 L880.8,255.4 L881.5,255.4 L882.2,255.4 L882.9,255.4 L883.6,255.4 L884.2,255.4 L884.9,255.4 L885.6,255.3 L886.3,255.4 L887.0,255.4 L887.6,255.5 L888.3,255.4 L889.0,255.4 L889.7,255.3 L890.4,255.4 L891.0,255.4 L891.7,255.3 L892.4,255.3 L893.1,255.2 L893.8,255.3 L894.4,255.3 L895.1,255.3 L895.8,255.3 L896.5,255.3 L897.2,255.3 L897.8,255.3 L898.5,255.3 L899.2,255.3 L899.9,255.3 L900.6,255.4 L901.2,255.4 L901.9,255.5 L902.6,255.4 L903.3,255.4 L904.0,255.4 L904.6,255.4 L905.3,255.4 L906.0,255.3 L906.7,255.3 L907.4,255.3 L908.0,255.3 L908.7,255.3 L909.4,255.3 L910.1,255.3 L910.8,255.4 L911.4,255.4 L912.1,255.3 L912.8,255.3 L913.5,255.3 L914.2,255.3 L914.8,255.3 L915.5,255.4 L916.2,255.4 L916.9,255.4 L917.6,255.4 L918.2,255.3 L918.9,255.3 L919.6,255.3" fill="none" stroke="#1A6FDF" stroke-width="2.6" stroke-linejoin="round"/></g>
<g transform="scale(0.650,1)"><path d="M58.0,196.5 L58.5,196.4 L58.9,196.5 L59.4,196.5 L59.9,196.5 L60.4,196.5 L60.8,196.5 L61.3,196.5 L61.8,196.5 L62.2,196.4 L62.7,196.4 L63.2,196.4 L63.7,196.4 L64.1,196.5 L64.6,196.5 L65.1,196.5 L65.6,196.5 L66.0,196.6 L66.5,196.6 L67.0,196.6 L67.4,196.6 L67.9,196.6 L68.4,196.6 L68.9,196.6 L69.3,196.6 L69.8,196.6 L70.3,196.6 L70.7,196.6 L71.2,196.5 L71.7,196.5 L72.2,196.5 L72.6,196.6 L73.1,196.6 L73.6,196.6 L74.0,196.6 L74.5,196.6 L75.0,196.6 L75.5,196.5 L75.9,196.6 L76.4,196.6 L76.9,196.6 L77.3,196.5 L77.8,196.5 L78.3,196.5 L78.8,196.6 L79.2,196.6 L79.7,196.6 L80.2,196.6 L80.7,196.6 L81.1,196.6 L81.6,196.6 L82.1,196.6 L82.5,196.6 L83.0,196.6 L83.5,196.6 L84.0,196.6 L84.4,196.6 L84.9,196.6 L85.4,196.6 L85.8,196.6 L86.0,196.5 L86.1,196.5 L86.2,196.4 L86.3,196.4 L86.4,196.5 L86.5,196.5 L86.6,196.5 L86.7,196.5 L86.8,196.4 L86.8,196.4 L87.0,196.4 L87.1,196.4 L87.2,196.5 L87.3,196.5 L87.3,196.5 L87.4,196.5 L87.5,196.5 L87.7,196.5 L87.7,196.5 L87.8,196.5 L87.9,196.6 L88.0,196.6 L88.1,196.5 L88.2,196.4 L88.2,196.4 L88.4,196.4 L88.5,196.5 L88.6,196.5 L88.7,196.5 L88.7,196.4 L88.8,196.4 L89.0,196.4 L89.1,196.3 L89.1,196.4 L89.2,196.4 L89.3,196.5 L89.4,196.4 L89.5,196.3 L89.6,196.2 L89.7,196.1 L89.8,196.0 L89.9,196.0 L90.0,196.0 L90.1,195.9 L90.1,195.9 L90.3,195.9 L90.4,195.7 L90.5,195.6 L90.6,195.5 L90.6,195.4 L90.7,195.0 L90.8,194.6 L91.0,194.0 L91.0,193.6 L91.1,193.3 L91.2,192.6 L91.3,191.8 L91.4,191.0 L91.5,190.5 L91.6,190.2 L91.7,189.6 L91.8,189.2 L91.9,189.0 L92.0,189.1 L92.0,189.2 L92.1,189.5 L92.3,190.0 L92.4,190.6 L92.4,191.0 L92.5,191.3 L92.6,191.9 L92.7,192.6 L92.8,193.2 L92.9,193.5 L93.0,193.7 L93.1,194.2 L93.2,194.7 L93.3,195.1 L93.4,195.3 L93.4,195.4 L93.6,195.6 L93.7,195.8 L93.8,196.0 L93.9,196.0 L93.9,196.0 L94.0,196.1 L94.1,196.2 L94.3,196.3 L94.3,196.3 L94.4,196.3 L94.5,196.4 L94.6,196.4 L94.7,196.4 L94.8,196.4 L94.9,196.4 L95.0,196.4 L95.1,196.4 L95.2,196.4 L95.3,196.4 L95.3,196.4 L95.4,196.4 L95.6,196.4 L95.7,196.4 L95.8,196.5 L95.8,196.5 L95.9,196.5 L96.0,196.4 L96.2,196.4 L96.2,196.4 L96.3,196.4 L96.4,196.5 L96.5,196.5 L96.6,196.5 L96.7,196.5 L96.7,196.5 L96.9,196.5 L97.0,196.5 L97.1,196.4 L97.2,196.3 L97.2,196.4 L97.3,196.4 L97.5,196.5 L97.6,196.5 L97.6,196.5 L97.7,196.5 L97.8,196.5 L97.9,196.5 L98.0,196.4 L98.1,196.4 L98.2,196.4 L98.3,196.5 L98.4,196.5 L98.5,196.5 L98.6,196.5 L98.6,196.5 L98.7,196.5 L98.9,196.5 L99.0,196.6 L99.1,196.6 L99.5,196.6 L100.0,196.6 L100.5,196.6 L100.9,196.6 L101.4,196.6 L101.9,196.6 L102.4,196.6 L102.8,196.6 L103.3,196.6 L103.8,196.5 L104.2,196.6 L104.7,196.6 L105.2,196.7 L105.7,196.7 L106.1,196.7 L106.6,196.6 L107.1,196.5 L107.5,196.5 L108.0,196.6 L108.5,196.6 L109.0,196.6 L109.4,196.6 L109.9,196.6 L110.4,196.6 L110.9,196.6 L111.3,196.6 L111.8,196.6 L112.3,196.6 L112.7,196.6 L113.2,196.6 L113.7,196.6 L114.2,196.6 L114.6,196.6 L115.1,196.6 L115.6,196.6 L116.0,196.6 L116.5,196.6 L117.0,196.5 L117.5,196.5 L117.9,196.6 L118.4,196.6 L118.9,196.6 L119.3,196.6 L119.8,196.6 L120.3,196.5 L120.8,196.6 L121.2,196.6 L121.7,196.6 L122.2,196.6 L122.6,196.6 L123.1,196.6 L123.6,196.6 L124.1,196.6 L124.5,196.6 L125.0,196.6 L125.5,196.6 L126.0,196.6 L126.4,196.6 L126.9,196.7 L127.4,196.7 L127.8,196.6 L128.3,196.6 L128.8,196.6 L129.3,196.7 L129.7,196.7 L130.2,196.7 L130.7,196.6 L131.1,196.6 L131.6,196.6 L132.1,196.7 L132.6,196.7 L133.0,196.7 L133.5,196.7 L134.0,196.6 L134.4,196.6 L134.9,196.6 L135.4,196.5 L135.9,196.5 L136.3,196.6 L136.8,196.6 L137.3,196.6 L137.8,196.6 L138.2,196.6 L138.7,196.6 L139.2,196.6 L139.6,196.6 L140.1,196.6 L140.6,196.7 L141.1,196.8 L141.5,196.8 L142.0,196.7 L142.5,196.7 L142.9,196.7 L143.4,196.7 L143.9,196.7 L144.4,196.7 L144.8,196.6 L145.3,196.6 L145.8,196.7 L146.2,196.7 L146.7,196.7 L147.2,196.7 L147.7,196.7 L148.1,196.7 L148.6,196.7 L149.1,196.7 L149.5,196.6 L150.0,196.7 L150.5,196.7 L151.0,196.7 L151.4,196.6 L151.9,196.6 L152.4,196.6 L152.9,196.6 L153.3,196.6 L153.8,196.6 L154.3,196.7 L154.7,196.6 L155.2,196.6 L155.7,196.6 L156.2,196.6 L156.6,196.6 L157.1,196.6 L157.6,196.7 L158.0,196.7 L158.5,196.7 L159.0,196.7 L159.5,196.7 L159.9,196.7 L160.4,196.7 L160.9,196.7 L161.3,196.6 L161.8,196.6 L162.3,196.6 L162.8,196.6 L163.2,196.6 L163.7,196.7 L164.2,196.7 L164.6,196.6 L165.1,196.7 L165.6,196.7 L166.1,196.7 L166.5,196.7 L167.0,196.7 L167.5,196.6 L168.0,196.6 L168.4,196.6 L168.9,196.6 L169.4,196.5 L169.8,196.6 L170.3,196.6 L170.8,196.6 L171.3,196.6 L171.7,196.7 L172.2,196.7 L172.7,196.8 L173.1,196.7 L173.6,196.7 L174.1,196.7 L174.6,196.7 L175.0,196.6 L175.5,196.6 L176.0,196.7 L176.4,196.7 L176.9,196.7 L177.4,196.7 L177.9,196.7 L178.3,196.6 L178.8,196.6 L179.3,196.6 L179.7,196.7 L180.2,196.7 L180.7,196.8 L181.2,196.7 L181.6,196.7 L182.1,196.6 L182.6,196.6 L183.1,196.5 L183.5,196.5 L184.0,196.5 L184.5,196.6 L184.9,196.7 L185.4,196.8 L185.9,196.8 L186.4,196.7 L186.8,196.8 L187.3,196.7 L187.8,196.7 L188.2,196.7 L188.7,196.7 L189.2,196.7 L189.7,196.7 L190.1,196.7 L190.6,196.6 L191.1,196.6 L191.5,196.7 L192.0,196.7 L192.5,196.7 L193.0,196.7 L193.4,196.7 L193.9,196.7 L194.4,196.7 L194.9,196.6 L195.3,196.6 L195.8,196.6 L196.3,196.6 L196.7,196.7 L197.2,196.7 L197.7,196.5 L198.2,196.5 L198.6,196.4 L199.1,196.4 L199.6,196.4 L200.0,196.5 L200.5,196.4 L201.0,196.3 L201.3,196.3 L201.4,196.3 L201.5,196.2 L201.5,196.2 L201.7,196.1 L201.8,196.1 L201.9,196.0 L201.9,196.1 L202.0,196.0 L202.1,196.1 L202.2,196.1 L202.4,196.1 L202.4,196.1 L202.5,196.0 L202.6,196.0 L202.7,196.0 L202.8,196.0 L202.9,196.0 L203.0,195.9 L203.1,195.8 L203.2,195.7 L203.3,195.7 L203.3,195.6 L203.4,195.6 L203.5,195.5 L203.7,195.4 L203.8,195.3 L203.8,195.3 L203.9,195.3 L204.0,195.1 L204.1,195.0 L204.3,194.9 L204.3,194.8 L204.4,194.7 L204.5,194.6 L204.6,194.4 L204.7,194.1 L204.8,194.0 L204.8,193.9 L205.0,193.6 L205.1,193.2 L205.2,192.7 L205.2,192.5 L205.3,192.0 L205.4,191.1 L205.6,189.9 L205.7,188.4 L205.7,187.8 L205.8,186.4 L205.9,184.0 L206.0,181.1 L206.1,177.6 L206.2,176.4 L206.3,173.2 L206.4,168.3 L206.5,162.9 L206.6,157.2 L206.6,155.5 L206.7,151.6 L206.8,146.5 L207.0,142.4 L207.1,139.7 L207.1,139.2 L207.2,138.7 L207.3,139.6 L207.4,141.7 L207.6,144.6 L207.6,145.5 L207.7,147.9 L207.8,151.5 L207.9,155.1 L208.0,158.8 L208.1,159.9 L208.1,162.6 L208.3,166.5 L208.4,170.4 L208.5,174.1 L208.5,175.1 L208.6,177.4 L208.7,180.4 L208.9,183.1 L209.0,185.3 L209.0,185.9 L209.1,187.3 L209.2,189.0 L209.3,190.4 L209.4,191.4 L209.5,191.7 L209.6,192.1 L209.7,192.7 L209.8,193.2 L209.9,193.6 L210.0,193.8 L210.0,194.0 L210.2,194.3 L210.3,194.6 L210.4,194.8 L210.4,194.7 L210.5,194.8 L210.6,194.9 L210.7,195.0 L210.9,195.2 L210.9,195.2 L211.0,195.3 L211.1,195.3 L211.2,195.4 L211.3,195.5 L211.4,195.6 L211.4,195.7 L211.6,195.8 L211.7,195.8 L211.8,195.8 L211.8,195.8 L211.9,195.9 L212.0,195.9 L212.2,196.0 L212.3,196.1 L212.3,196.1 L212.4,196.0 L212.5,196.1 L212.6,196.1 L212.7,196.2 L212.8,196.2 L212.9,196.2 L213.0,196.1 L213.1,196.1 L213.2,196.2 L213.3,196.2 L213.3,196.3 L213.5,196.3 L213.6,196.4 L213.7,196.3 L213.7,196.3 L213.8,196.3 L213.9,196.3 L214.0,196.3 L214.2,196.3 L214.2,196.4 L214.3,196.3 L214.7,196.4 L215.1,196.4 L215.6,196.5 L216.1,196.5 L216.6,196.5 L217.0,196.5 L217.5,196.7 L218.0,196.7 L218.4,196.7 L218.9,196.6 L219.4,196.6 L219.9,196.6 L220.3,196.6 L220.8,196.7 L221.3,196.8 L221.7,196.8 L222.2,196.8 L222.7,196.7 L223.2,196.7 L223.6,196.7 L224.1,196.8 L224.6,196.9 L225.1,196.9 L225.5,196.9 L226.0,196.8 L226.5,196.8 L226.9,196.8 L227.4,196.7 L227.9,196.7 L228.4,196.7 L228.8,196.8 L229.3,196.8 L229.8,196.7 L230.2,196.7 L230.7,196.7 L231.2,196.7 L231.7,196.7 L232.1,196.7 L232.6,196.7 L233.1,196.7 L233.5,196.7 L234.0,196.7 L234.5,196.8 L235.0,196.8 L235.4,196.8 L235.9,196.8 L236.4,196.8 L236.8,196.8 L237.3,196.9 L237.8,196.8 L238.3,196.8 L238.7,196.8 L239.2,196.8 L239.7,196.8 L240.2,196.9 L240.6,196.9 L241.1,196.8 L241.6,196.9 L242.0,196.8 L242.5,196.8 L243.0,196.8 L243.5,196.8 L243.9,196.7 L244.4,196.7 L244.9,196.6 L245.3,196.7 L245.8,196.7 L246.3,196.8 L246.8,196.7 L247.2,196.7 L247.7,196.7 L248.2,196.7 L248.6,196.8 L249.1,196.8 L249.6,196.8 L250.1,196.8 L250.5,196.8 L251.0,196.8 L251.5,196.8 L251.9,196.7 L252.4,196.7 L252.9,196.7 L253.4,196.7 L253.8,196.8 L254.3,196.8 L254.8,196.8 L255.3,196.9 L255.7,196.9 L256.2,196.9 L256.7,196.8 L257.1,196.8 L257.6,196.8 L258.1,196.8 L258.6,196.8 L259.0,196.8 L259.5,196.8 L260.0,196.9 L260.4,196.8 L260.9,196.8 L261.4,196.8 L261.9,196.8 L262.3,196.8 L262.8,196.8 L263.3,196.7 L263.7,196.7 L264.2,196.7 L264.7,196.8 L265.2,196.8 L265.6,196.8 L266.1,196.8 L266.6,196.8 L267.1,196.8 L267.5,196.8 L268.0,196.8 L268.5,196.8 L268.9,196.8 L269.4,196.8 L269.9,196.8 L270.4,196.9 L270.8,196.9 L271.3,196.9 L271.8,196.8 L272.2,196.8 L272.7,196.8 L273.2,196.8 L273.7,196.8 L274.1,196.8 L274.6,196.7 L275.1,196.7 L275.5,196.6 L276.0,196.5 L276.5,196.5 L277.0,196.5 L277.4,196.6 L277.9,196.7 L278.4,196.8 L278.8,196.8 L279.3,196.8 L279.8,196.8 L280.3,196.9 L280.7,196.8 L281.2,196.9 L281.7,196.9 L282.2,196.9 L282.6,196.9 L283.1,196.8 L283.6,196.9 L284.0,196.9 L284.5,196.9 L285.0,196.8 L285.5,196.8 L285.9,196.8 L286.4,196.8 L286.9,196.7 L287.3,196.7 L287.8,196.8 L288.3,196.8 L288.8,196.9 L289.2,196.9 L289.7,196.9 L290.2,196.9 L290.6,196.9 L290.6,196.9 L290.7,196.9 L290.8,196.8 L290.9,196.7 L291.0,196.7 L291.1,196.7 L291.2,196.7 L291.3,196.7 L291.4,196.7 L291.5,196.7 L291.6,196.6 L291.6,196.7 L291.8,196.7 L291.9,196.8 L292.0,196.7 L292.1,196.6 L292.1,196.6 L292.2,196.6 L292.3,196.5 L292.5,196.5 L292.5,196.5 L292.6,196.6 L292.7,196.5 L292.8,196.5 L292.9,196.5 L293.0,196.6 L293.1,196.6 L293.2,196.6 L293.3,196.6 L293.4,196.5 L293.5,196.5 L293.5,196.4 L293.6,196.3 L293.8,196.2 L293.9,196.1 L293.9,196.1 L294.0,196.1 L294.1,196.1 L294.2,196.0 L294.3,195.8 L294.4,195.7 L294.5,195.6 L294.6,195.4 L294.7,195.1 L294.8,194.8 L294.9,194.6 L294.9,194.4 L295.1,194.0 L295.2,193.4 L295.3,192.8 L295.4,192.4 L295.4,192.1 L295.5,191.4 L295.6,190.7 L295.8,189.9 L295.8,189.5 L295.9,189.1 L296.0,188.4 L296.1,187.8 L296.2,187.3 L296.3,187.1 L296.4,186.9 L296.5,186.8 L296.6,186.9 L296.7,187.2 L296.8,187.4 L296.8,187.5 L296.9,187.9 L297.1,188.3 L297.2,188.8 L297.3,189.1 L297.3,189.4 L297.4,189.8 L297.5,190.3 L297.7,190.8 L297.7,191.2 L297.8,191.4 L297.9,191.9 L298.0,192.4 L298.1,193.0 L298.2,193.3 L298.2,193.4 L298.4,193.8 L298.5,194.2 L298.6,194.6 L298.7,194.8 L298.7,195.0 L298.8,195.3 L299.0,195.5 L299.1,195.7 L299.1,195.8 L299.2,195.8 L299.3,196.0 L299.4,196.1 L299.5,196.2 L299.6,196.3 L299.7,196.3 L299.8,196.3 L299.9,196.4 L300.0,196.4 L300.1,196.5 L300.1,196.5 L300.2,196.6 L300.4,196.6 L300.5,196.6 L300.6,196.6 L300.6,196.6 L300.7,196.6 L300.8,196.6 L301.0,196.6 L301.0,196.6 L301.1,196.6 L301.2,196.6 L301.3,196.7 L301.4,196.7 L301.5,196.7 L301.5,196.6 L301.7,196.6 L301.8,196.7 L301.9,196.7 L302.0,196.7 L302.0,196.8 L302.1,196.8 L302.3,196.7 L302.4,196.7 L302.4,196.8 L302.5,196.8 L302.6,196.9 L302.7,196.9 L302.8,196.9 L302.9,196.9 L303.0,196.8 L303.1,196.8 L303.2,196.8 L303.3,196.8 L303.4,196.8 L303.4,196.8 L303.6,196.8 L303.9,196.8 L304.3,196.8 L304.8,196.9 L305.3,196.9 L305.7,196.9 L306.2,196.9 L306.7,196.9 L307.2,196.8 L307.6,196.8 L308.1,196.8 L308.6,196.9 L309.0,196.9 L309.5,197.0 L310.0,197.0 L310.5,196.9 L310.9,196.9 L311.4,196.9 L311.9,196.9 L312.4,197.0 L312.8,196.9 L313.3,196.9 L313.8,196.9 L314.2,196.8 L314.7,196.8 L315.2,196.9 L315.7,197.0 L316.1,197.0 L316.6,197.0 L317.1,196.9 L317.5,196.9 L318.0,196.9 L318.5,196.9 L319.0,196.9 L319.4,196.9 L319.9,196.9 L320.4,196.9 L320.8,196.9 L321.3,196.8 L321.8,196.8 L322.3,196.9 L322.7,196.9 L323.2,197.0 L323.7,197.0 L324.2,197.1 L324.6,197.1 L325.1,197.0 L325.6,196.9 L326.0,196.9 L326.5,196.9 L327.0,196.9 L327.5,196.9 L327.9,196.8 L328.4,196.8 L328.9,196.8 L329.3,196.8 L329.8,196.8 L330.3,196.8 L330.8,196.8 L331.2,196.8 L331.7,196.7 L332.2,196.7 L332.6,196.7 L333.1,196.7 L333.6,196.7 L334.1,196.8 L334.5,196.8 L335.0,196.8 L335.5,196.8 L335.9,196.8 L336.4,196.9 L336.9,196.9 L337.4,196.9 L337.8,196.9 L338.3,196.9 L338.8,197.0 L339.3,197.0 L339.7,197.0 L340.2,197.0 L340.7,196.9 L341.1,196.9 L341.6,196.9 L342.1,196.9 L342.6,197.0 L343.0,196.9 L343.5,196.9 L344.0,197.0 L344.4,197.0 L344.9,197.0 L345.4,197.0 L345.9,197.0 L346.3,197.0 L346.8,197.1 L347.3,197.0 L347.7,197.0 L348.2,196.9 L348.7,196.8 L349.2,196.8 L349.6,196.9 L350.1,196.9 L350.6,196.9 L351.0,196.9 L351.5,196.9 L352.0,197.0 L352.5,197.0 L352.9,197.0 L353.4,197.0 L353.9,197.0 L354.4,197.0 L354.8,197.1 L355.3,197.1 L355.8,197.0 L356.2,197.0 L356.7,196.9 L357.2,196.9 L357.7,196.9 L358.1,197.0 L358.6,197.0 L359.1,197.0 L359.5,197.0 L360.0,196.9 L360.5,196.8 L361.0,196.8 L361.4,196.9 L361.9,196.9 L362.4,196.9 L362.8,196.9 L363.3,196.9 L363.8,196.9 L364.3,196.9 L364.7,196.9 L365.2,196.9 L365.7,196.9 L366.1,196.9 L366.6,196.9 L367.1,196.8 L367.6,196.7 L368.0,196.7 L368.0,196.7 L368.1,196.7 L368.2,196.6 L368.3,196.6 L368.4,196.6 L368.5,196.6 L368.6,196.6 L368.7,196.6 L368.8,196.5 L368.9,196.5 L369.0,196.4 L369.0,196.5 L369.1,196.4 L369.3,196.4 L369.4,196.3 L369.5,196.3 L369.5,196.3 L369.6,196.3 L369.7,196.2 L369.9,196.1 L369.9,196.1 L370.0,196.1 L370.1,196.0 L370.2,196.0 L370.3,196.0 L370.4,196.0 L370.4,195.9 L370.6,195.8 L370.7,195.6 L370.8,195.5 L370.9,195.3 L370.9,195.3 L371.0,195.2 L371.2,195.0 L371.3,194.7 L371.3,194.6 L371.4,194.4 L371.5,194.0 L371.6,193.5 L371.7,193.0 L371.8,192.6 L371.9,192.4 L372.0,191.6 L372.1,190.8 L372.2,189.8 L372.3,189.2 L372.3,188.8 L372.4,187.7 L372.6,186.4 L372.7,185.1 L372.8,184.2 L372.8,183.7 L372.9,182.2 L373.0,180.7 L373.2,179.2 L373.2,178.4 L373.3,177.8 L373.4,176.6 L373.5,175.5 L373.6,174.7 L373.7,174.3 L373.7,174.2 L373.9,174.0 L374.0,174.1 L374.1,174.5 L374.2,174.8 L374.2,175.1 L374.3,175.9 L374.5,176.8 L374.6,177.7 L374.6,178.3 L374.7,178.7 L374.8,179.6 L374.9,180.6 L375.0,181.5 L375.1,182.1 L375.2,182.5 L375.3,183.5 L375.4,184.5 L375.5,185.5 L375.6,186.1 L375.6,186.6 L375.8,187.7 L375.9,188.7 L376.0,189.5 L376.1,190.0 L376.1,190.3 L376.2,191.1 L376.3,191.8 L376.5,192.4 L376.5,192.7 L376.6,192.8 L376.7,193.4 L376.8,193.8 L376.9,194.3 L377.0,194.5 L377.0,194.6 L377.2,194.8 L377.3,195.1 L377.4,195.3 L377.5,195.5 L377.5,195.5 L377.6,195.6 L377.8,195.7 L377.9,195.8 L377.9,195.9 L378.0,195.9 L378.1,196.0 L378.2,196.0 L378.3,196.1 L378.4,196.1 L378.5,196.2 L378.6,196.2 L378.7,196.3 L378.8,196.3 L378.9,196.4 L378.9,196.5 L379.1,196.5 L379.2,196.5 L379.3,196.5 L379.4,196.5 L379.4,196.5 L379.5,196.5 L379.6,196.4 L379.8,196.4 L379.8,196.4 L379.9,196.4 L380.0,196.6 L380.1,196.7 L380.2,196.7 L380.3,196.7 L380.4,196.7 L380.5,196.8 L380.6,196.8 L380.7,196.7 L380.8,196.7 L380.8,196.7 L380.9,196.7 L381.2,196.7 L381.7,196.8 L382.2,196.9 L382.7,196.9 L383.1,196.9 L383.6,196.9 L384.1,196.8 L384.6,196.8 L385.0,196.8 L385.5,196.8 L386.0,196.8 L386.4,196.9 L386.9,197.0 L387.4,197.0 L387.9,196.9 L388.3,196.9 L388.8,196.9 L389.3,196.9 L389.7,197.0 L390.2,197.1 L390.7,197.1 L391.2,197.2 L391.6,197.1 L392.1,197.1 L392.6,197.1 L393.0,197.1 L393.5,197.1 L394.0,197.0 L394.5,197.0 L394.9,197.0 L395.4,197.0 L395.9,197.0 L396.4,197.0 L396.8,197.0 L397.3,197.0 L397.8,197.0 L398.2,197.0 L398.7,197.0 L399.2,197.0 L399.7,197.0 L400.1,197.0 L400.6,197.1 L401.1,197.1 L401.5,197.1 L402.0,197.1 L402.5,197.1 L403.0,197.0 L403.4,197.0 L403.9,197.0 L404.4,197.0 L404.8,196.9 L405.3,197.0 L405.8,197.0 L406.3,197.1 L406.7,197.1 L407.2,197.1 L407.7,197.1 L408.1,197.2 L408.6,197.2 L409.1,197.2 L409.6,197.1 L410.0,197.1 L410.5,197.1 L411.0,197.1 L411.5,197.1 L411.9,197.1 L412.4,197.1 L412.9,197.1 L413.3,197.2 L413.8,197.2 L414.3,197.2 L414.8,197.2 L415.2,197.2 L415.7,197.1 L416.2,197.1 L416.6,197.1 L417.1,197.1 L417.6,197.1 L418.1,197.2 L418.5,197.1 L419.0,197.0 L419.5,196.9 L419.9,197.0 L420.4,197.0 L420.9,197.1 L421.4,197.1 L421.8,197.1 L422.3,197.1 L422.8,197.1 L423.2,197.0 L423.7,197.1 L424.2,197.2 L424.7,197.2 L425.1,197.2 L425.6,197.1 L426.1,197.1 L426.6,197.1 L427.0,197.2 L427.5,197.1 L428.0,197.1 L428.4,197.1 L428.9,197.1 L429.4,197.1 L429.9,197.1 L430.3,197.2 L430.8,197.1 L431.3,197.1 L431.7,197.1 L432.2,197.1 L432.7,197.1 L433.2,197.1 L433.6,197.1 L434.1,197.1 L434.6,197.1 L435.0,197.1 L435.5,197.1 L436.0,197.2 L436.5,197.2 L436.9,197.2 L436.9,197.3 L437.0,197.2 L437.1,197.2 L437.2,197.1 L437.3,197.0 L437.4,197.0 L437.5,197.0 L437.6,197.0 L437.7,197.0 L437.8,197.0 L437.9,197.0 L437.9,196.8 L438.0,196.8 L438.2,196.9 L438.3,196.9 L438.3,196.9 L438.4,197.0 L438.5,197.0 L438.6,197.0 L438.8,197.0 L438.8,197.0 L438.9,197.1 L439.0,197.1 L439.1,197.1 L439.2,197.1 L439.3,197.1 L439.3,197.0 L439.5,197.0 L439.6,197.0 L439.7,197.0 L439.8,197.1 L439.8,197.1 L439.9,197.0 L440.0,197.0 L440.2,196.9 L440.2,196.9 L440.3,196.9 L440.4,196.8 L440.5,196.8 L440.6,196.8 L440.7,196.8 L440.8,196.8 L440.9,196.8 L441.0,196.7 L441.1,196.6 L441.2,196.6 L441.2,196.5 L441.3,196.4 L441.5,196.2 L441.6,196.1 L441.7,196.0 L441.7,196.0 L441.8,196.0 L441.9,196.0 L442.1,195.9 L442.1,195.8 L442.2,195.8 L442.3,195.8 L442.4,195.8 L442.5,195.8 L442.6,195.8 L442.6,195.7 L442.8,195.6 L442.9,195.5 L443.0,195.5 L443.1,195.6 L443.1,195.6 L443.2,195.6 L443.4,195.7 L443.5,195.8 L443.5,195.8 L443.6,195.8 L443.7,195.8 L443.8,195.9 L443.9,196.0 L444.0,196.1 L444.1,196.1 L444.2,196.1 L444.3,196.1 L444.4,196.2 L444.5,196.3 L444.5,196.4 L444.6,196.5 L444.8,196.6 L444.9,196.6 L445.0,196.6 L445.0,196.7 L445.1,196.7 L445.2,196.8 L445.4,196.8 L445.4,196.7 L445.5,196.7 L445.6,196.7 L445.7,196.8 L445.8,196.8 L445.9,196.8 L445.9,196.8 L446.1,196.8 L446.2,196.8 L446.3,196.8 L446.4,196.8 L446.4,196.9 L446.5,196.9 L446.7,197.0 L446.8,197.0 L446.8,197.0 L446.9,197.0 L447.0,197.0 L447.1,197.0 L447.2,197.1 L447.3,197.1 L447.4,197.1 L447.5,197.1 L447.6,197.0 L447.7,197.0 L447.8,197.0 L447.8,197.1 L448.0,197.1 L448.1,197.2 L448.2,197.2 L448.3,197.1 L448.3,197.1 L448.4,197.1 L448.5,197.1 L448.7,197.2 L448.7,197.2 L448.8,197.2 L448.9,197.3 L449.0,197.3 L449.1,197.2 L449.2,197.1 L449.3,197.1 L449.4,197.1 L449.5,197.1 L449.6,197.1 L449.7,197.1 L449.7,197.1 L449.8,197.1 L450.1,197.1 L450.6,197.1 L451.1,197.1 L451.6,197.2 L452.0,197.2 L452.5,197.2 L453.0,197.2 L453.5,197.2 L453.9,197.2 L454.4,197.2 L454.9,197.2 L455.3,197.2 L455.8,197.1 L456.3,197.1 L456.8,197.0 L457.2,197.0 L457.7,197.1 L458.2,197.1 L458.6,197.1 L459.1,197.1 L459.6,197.1 L460.1,197.1 L460.5,197.0 L461.0,197.0 L461.5,197.1 L461.9,197.1 L462.4,197.2 L462.9,197.2 L463.4,197.2 L463.8,197.2 L464.3,197.2 L464.8,197.1 L465.2,197.1 L465.7,197.0 L466.2,197.0 L466.7,197.0 L467.1,197.1 L467.6,197.2 L468.1,197.2 L468.6,197.2 L469.0,197.2 L469.5,197.2 L470.0,197.2 L470.4,197.2 L470.9,197.2 L471.4,197.2 L471.9,197.2 L472.3,197.2 L472.8,197.1 L473.3,197.0 L473.7,196.9 L474.2,197.0 L474.7,197.1 L475.2,197.1 L475.6,197.1 L476.1,197.1 L476.6,197.1 L477.0,197.1 L477.5,197.0 L478.0,197.1 L478.5,197.1 L478.9,197.1 L479.4,197.1 L479.9,197.1 L480.3,197.2 L480.8,197.2 L481.3,197.2 L481.8,197.2 L482.2,197.2 L482.7,197.2 L483.2,197.2 L483.7,197.1 L484.1,197.1 L484.6,197.2 L485.1,197.2 L485.5,197.1 L486.0,197.0 L486.5,197.0 L487.0,197.0 L487.4,197.0 L487.9,197.0 L488.4,197.0 L488.8,197.1 L489.3,197.2 L489.8,197.2 L490.3,197.2 L490.7,197.2 L491.2,197.2 L491.7,197.2 L492.1,197.2 L492.6,197.2 L493.1,197.2 L493.6,197.3 L494.0,197.2 L494.5,197.1 L495.0,197.1 L495.4,197.2 L495.9,197.3 L496.4,197.3 L496.9,197.2 L497.3,197.2 L497.8,197.2 L498.3,197.1 L498.8,197.0 L499.2,196.9 L499.7,196.9 L500.2,196.9 L500.6,197.0 L501.1,197.0 L501.6,196.9 L502.1,196.9 L502.5,196.8 L502.7,196.7 L502.8,196.7 L502.9,196.7 L503.0,196.7 L503.0,196.8 L503.2,196.8 L503.3,196.9 L503.4,196.8 L503.5,196.7 L503.5,196.7 L503.6,196.6 L503.8,196.6 L503.9,196.6 L503.9,196.6 L504.0,196.5 L504.1,196.5 L504.2,196.5 L504.3,196.4 L504.4,196.4 L504.5,196.5 L504.6,196.4 L504.7,196.3 L504.8,196.2 L504.9,196.2 L504.9,196.2 L505.1,196.2 L505.2,196.0 L505.3,195.9 L505.4,195.8 L505.4,195.7 L505.5,195.5 L505.6,195.4 L505.8,195.2 L505.8,195.1 L505.9,194.9 L506.0,194.7 L506.1,194.4 L506.2,194.1 L506.3,193.9 L506.3,193.8 L506.5,193.4 L506.6,193.0 L506.7,192.4 L506.8,192.1 L506.8,191.9 L506.9,191.4 L507.1,190.8 L507.2,190.1 L507.2,189.6 L507.3,189.4 L507.4,188.7 L507.5,188.0 L507.6,187.3 L507.7,186.9 L507.8,186.7 L507.9,186.1 L508.0,185.7 L508.1,185.3 L508.2,185.1 L508.2,184.8 L508.4,184.4 L508.5,184.2 L508.6,184.1 L508.7,184.2 L508.7,184.2 L508.8,184.4 L508.9,184.6 L509.1,184.9 L509.1,185.1 L509.2,185.3 L509.3,185.6 L509.4,186.0 L509.5,186.5 L509.6,186.7 L509.7,186.9 L509.8,187.3 L509.9,187.7 L510.0,188.1 L510.1,188.4 L510.1,188.6 L510.2,188.9 L510.4,189.4 L510.5,189.8 L510.5,190.0 L510.6,190.3 L510.7,190.8 L510.8,191.2 L511.0,191.7 L511.0,191.8 L511.1,192.0 L511.2,192.5 L511.3,192.9 L511.4,193.3 L511.5,193.6 L511.5,193.8 L511.7,194.1 L511.8,194.4 L511.9,194.6 L512.0,194.6 L512.0,194.7 L512.1,195.0 L512.2,195.3 L512.4,195.5 L512.4,195.5 L512.5,195.6 L512.6,195.8 L512.7,195.9 L512.8,196.0 L512.9,196.1 L513.0,196.2 L513.1,196.3 L513.2,196.3 L513.3,196.3 L513.4,196.3 L513.4,196.4 L513.5,196.4 L513.7,196.5 L513.8,196.5 L513.9,196.6 L513.9,196.5 L514.0,196.6 L514.1,196.6 L514.3,196.7 L514.3,196.8 L514.4,196.8 L514.5,196.9 L514.6,196.9 L514.7,196.8 L514.8,196.8 L514.8,196.9 L515.0,197.0 L515.1,197.0 L515.2,196.9 L515.3,196.8 L515.3,196.8 L515.4,196.8 L515.6,196.8 L515.7,196.8 L515.7,196.7 L516.2,196.9 L516.7,196.9 L517.2,197.1 L517.6,197.1 L518.1,197.0 L518.6,196.9 L519.0,196.9 L519.5,197.0 L520.0,197.1 L520.5,197.1 L520.9,197.1 L521.4,197.1 L521.9,197.1 L522.3,197.1 L522.8,197.2 L523.3,197.2 L523.8,197.2 L524.2,197.1 L524.7,197.1 L525.2,197.2 L525.7,197.3 L526.1,197.3 L526.6,197.2 L527.1,197.1 L527.5,197.1 L528.0,197.1 L528.5,197.1 L529.0,197.1 L529.4,197.1 L529.9,197.1 L530.4,197.1 L530.8,197.2 L531.3,197.2 L531.8,197.2 L532.3,197.2 L532.7,197.3 L533.2,197.3 L533.7,197.2 L534.1,197.2 L534.6,197.2 L535.1,197.2 L535.6,197.2 L536.0,197.2 L536.5,197.1 L537.0,197.2 L537.4,197.2 L537.9,197.2 L538.4,197.2 L538.9,197.2 L539.3,197.2 L539.8,197.2 L540.3,197.2 L540.8,197.2 L541.2,197.3 L541.7,197.4 L542.2,197.4 L542.6,197.4 L543.1,197.2 L543.6,197.1 L544.1,197.1 L544.5,197.1 L545.0,197.2 L545.5,197.2 L545.9,197.3 L546.4,197.3 L546.9,197.3 L547.4,197.3 L547.8,197.2 L548.3,197.1 L548.8,197.2 L549.2,197.2 L549.7,197.3 L550.2,197.3 L550.7,197.4 L551.1,197.4 L551.6,197.4 L552.1,197.3 L552.5,197.3 L553.0,197.3 L553.5,197.3 L554.0,197.2 L554.4,197.3 L554.9,197.3 L555.4,197.3 L555.9,197.3 L556.3,197.3 L556.8,197.3 L557.3,197.3 L557.7,197.3 L558.2,197.3 L558.7,197.2 L559.2,197.2 L559.6,197.2 L560.1,197.2 L560.6,197.2 L561.0,197.2 L561.5,197.3 L562.0,197.3 L562.5,197.2 L562.9,197.2 L563.4,197.2 L563.9,197.3 L564.3,197.3 L564.8,197.3 L565.3,197.3 L565.8,197.3 L566.2,197.3 L566.7,197.3 L567.2,197.3 L567.6,197.3 L568.1,197.2 L568.6,197.2 L569.1,197.2 L569.5,197.2 L570.0,197.3 L570.5,197.3 L571.0,197.3 L571.4,197.3 L571.9,197.3 L572.4,197.3 L572.8,197.3 L573.3,197.3 L573.8,197.3 L574.3,197.4 L574.7,197.3 L575.2,197.3 L575.7,197.2 L576.1,197.3 L576.6,197.3 L577.1,197.2 L577.6,197.2 L578.0,197.2 L578.5,197.2 L579.0,197.2 L579.4,197.3 L579.9,197.3 L580.4,197.3 L580.9,197.2 L581.3,197.2 L581.8,197.3 L582.3,197.3 L582.7,197.3 L583.2,197.2 L583.7,197.2 L584.2,197.3 L584.6,197.3 L585.1,197.3 L585.6,197.3 L586.1,197.3 L586.5,197.3 L587.0,197.4 L587.5,197.4 L587.9,197.4 L588.4,197.3 L588.9,197.3 L589.4,197.2 L589.8,197.2 L590.3,197.3 L590.8,197.3 L591.2,197.4 L591.7,197.4 L592.2,197.3 L592.7,197.2 L593.1,197.2 L593.6,197.3 L594.1,197.3 L594.5,197.3 L595.0,197.3 L595.5,197.4 L596.0,197.4 L596.4,197.4 L596.9,197.3 L597.4,197.4 L597.9,197.4 L598.3,197.4 L598.8,197.4 L599.3,197.4 L599.7,197.4 L600.2,197.4 L600.7,197.4 L601.2,197.4 L601.6,197.3 L602.1,197.3 L602.6,197.3 L603.0,197.3 L603.5,197.3 L604.0,197.3 L604.5,197.3 L604.9,197.2 L605.4,197.1 L605.9,197.1 L606.3,197.2 L606.8,197.2 L607.3,197.3 L607.8,197.3 L608.2,197.3 L608.7,197.3 L609.2,197.3 L609.6,197.2 L610.1,197.3 L610.6,197.3 L611.1,197.3 L611.5,197.4 L612.0,197.4 L612.5,197.4 L613.0,197.3 L613.4,197.3 L613.9,197.4 L614.4,197.4 L614.8,197.4 L615.3,197.3 L615.8,197.3 L616.3,197.3 L616.7,197.3 L617.2,197.3 L617.7,197.2 L618.1,197.2 L618.6,197.2 L619.1,197.3 L619.6,197.3 L620.0,197.3 L620.5,197.3 L621.0,197.3 L621.4,197.3 L621.9,197.3 L622.4,197.2 L622.9,197.2 L623.3,197.2 L623.8,197.2 L624.3,197.1 L624.7,197.1 L625.2,197.0 L625.7,196.9 L626.2,196.8 L626.6,196.5 L627.1,196.0 L627.6,195.5 L628.1,195.0 L628.5,194.4 L629.0,194.0 L629.5,193.9 L629.9,194.0 L630.4,194.2 L630.9,194.6 L631.4,195.0 L631.8,195.4 L632.3,195.9 L632.8,196.2 L633.2,196.4 L633.7,196.6 L634.2,196.8 L634.7,196.9 L635.1,197.0 L635.6,197.1 L636.1,197.1 L636.5,197.2 L637.0,197.3 L637.5,197.3 L638.0,197.3 L638.4,197.2 L638.9,197.2 L639.4,197.3 L639.8,197.3 L640.3,197.3 L640.8,197.3 L641.3,197.3 L641.7,197.3 L642.2,197.3 L642.7,197.3 L643.2,197.3 L643.6,197.3 L644.1,197.3 L644.6,197.3 L645.0,197.3 L645.5,197.4 L646.0,197.4 L646.5,197.4 L646.9,197.3 L647.4,197.3 L647.9,197.3 L648.3,197.3 L648.8,197.3 L649.3,197.3 L649.8,197.3 L650.2,197.3 L650.7,197.3 L651.2,197.3 L651.6,197.2 L652.1,197.3 L652.6,197.4 L653.1,197.4 L653.5,197.5 L654.0,197.4 L654.5,197.4 L655.0,197.3 L655.4,197.3 L655.9,197.4 L656.4,197.4 L656.8,197.4 L657.3,197.3 L657.8,197.3 L658.3,197.4 L658.7,197.4 L659.2,197.5 L659.7,197.5 L660.1,197.5 L660.6,197.5 L661.1,197.4 L661.6,197.3 L662.0,197.3 L662.5,197.3 L663.0,197.3 L663.4,197.3 L663.9,197.3 L664.4,197.4 L664.9,197.4 L665.3,197.4 L665.8,197.4 L666.3,197.3 L666.7,197.3 L667.2,197.3 L667.7,197.4 L668.2,197.4 L668.6,197.4 L669.1,197.4 L669.6,197.4 L670.1,197.3 L670.5,197.3 L671.0,197.2 L671.5,197.2 L671.9,197.2 L672.4,197.2 L672.9,197.2 L673.4,197.2 L673.8,197.2 L674.3,197.3 L674.8,197.4 L675.2,197.4 L675.7,197.4 L676.2,197.4 L676.7,197.4 L677.1,197.4 L677.6,197.4 L678.1,197.4 L678.5,197.4 L679.0,197.4 L679.5,197.4 L680.0,197.4 L680.4,197.5 L680.9,197.4 L681.4,197.5 L681.8,197.4 L682.3,197.4 L682.8,197.5 L683.3,197.5 L683.7,197.5 L684.2,197.5 L684.7,197.4 L685.2,197.4 L685.6,197.4 L686.1,197.4 L686.6,197.4 L687.0,197.4 L687.5,197.4 L688.0,197.3 L688.5,197.3 L688.9,197.3 L689.4,197.3 L689.9,197.3 L690.3,197.4 L690.8,197.4 L691.3,197.4 L691.8,197.4 L692.2,197.4 L692.7,197.4 L693.2,197.4 L693.6,197.4 L694.1,197.4 L694.6,197.4 L695.1,197.5 L695.5,197.5 L696.0,197.5 L696.5,197.4 L696.9,197.3 L697.4,197.3 L697.9,197.4 L698.4,197.4 L698.8,197.4 L699.3,197.4 L699.8,197.4 L700.3,197.4 L700.7,197.4 L701.2,197.4 L701.7,197.5 L702.1,197.5 L702.6,197.5 L703.1,197.5 L703.6,197.5 L704.0,197.5 L704.5,197.5 L705.0,197.5 L705.4,197.5 L705.9,197.6 L706.4,197.6 L706.9,197.5 L707.3,197.4 L707.8,197.3 L708.3,197.3 L708.7,197.4 L709.2,197.4 L709.7,197.4 L710.2,197.4 L710.6,197.3 L711.1,197.4 L711.6,197.4 L712.0,197.5 L712.5,197.5 L713.0,197.5 L713.5,197.4 L713.9,197.5 L714.4,197.4 L714.9,197.4 L715.4,197.4 L715.8,197.4 L716.3,197.3 L716.8,197.3 L717.2,197.3 L717.7,197.4 L718.2,197.4 L718.7,197.4 L719.1,197.4 L719.6,197.5 L720.1,197.5 L720.5,197.5 L721.0,197.4 L721.5,197.4 L722.0,197.4 L722.4,197.4 L722.9,197.4 L723.4,197.4 L723.8,197.4 L724.3,197.4 L724.8,197.4 L725.3,197.3 L725.7,197.3 L726.2,197.3 L726.7,197.3 L727.2,197.4 L727.6,197.3 L728.1,197.3 L728.6,197.3 L729.0,197.3 L729.5,197.3 L730.0,197.3 L730.5,197.4 L730.9,197.5 L731.4,197.5 L731.9,197.5 L732.3,197.4 L732.8,197.3 L733.3,197.3 L733.8,197.3 L734.2,197.3 L734.7,197.2 L735.2,197.1 L735.6,197.0 L736.1,196.8 L736.6,196.6 L737.1,196.3 L737.5,195.8 L738.0,195.4 L738.5,195.0 L738.9,194.8 L739.4,194.8 L739.9,194.9 L740.4,195.1 L740.8,195.4 L741.3,195.6 L741.8,195.9 L742.3,196.2 L742.7,196.4 L743.2,196.6 L743.7,196.7 L744.1,196.9 L744.6,197.1 L745.1,197.3 L745.6,197.4 L746.0,197.4 L746.5,197.4 L747.0,197.4 L747.4,197.4 L747.9,197.4 L748.4,197.5 L748.9,197.5 L749.3,197.5 L749.8,197.4 L750.3,197.4 L750.7,197.4 L751.2,197.4 L751.7,197.4 L752.2,197.4 L752.6,197.4 L753.1,197.5 L753.6,197.5 L754.0,197.5 L754.5,197.5 L755.0,197.5 L755.5,197.4 L755.9,197.4 L756.4,197.4 L756.9,197.5 L757.4,197.6 L757.8,197.6 L758.3,197.6 L758.8,197.6 L759.2,197.5 L759.7,197.6 L760.2,197.6 L760.7,197.5 L761.1,197.4 L761.6,197.4 L762.1,197.4 L762.5,197.4 L763.0,197.4 L763.5,197.5 L764.0,197.5 L764.4,197.5 L764.9,197.4 L765.4,197.4 L765.8,197.4" fill="none" stroke="#37AD6B" stroke-width="2.6" stroke-linejoin="round"/></g>
<g transform="scale(0.750,1)"><path d="M715.6,196.8 L716.3,196.7 L717.0,196.7 L717.6,196.7 L718.3,196.7 L719.0,196.6 L719.7,196.6 L720.4,196.6 L721.0,196.6 L721.7,196.6 L722.4,196.6 L723.1,196.6 L723.8,196.7 L724.4,196.7 L725.1,196.7 L725.8,196.7 L726.5,196.7 L727.2,196.7 L727.8,196.7 L728.5,196.7 L729.2,196.6 L729.9,196.7 L730.6,196.7 L731.2,196.7 L731.9,196.6 L732.6,196.6 L733.3,196.6 L734.0,196.6 L734.6,196.6 L735.3,196.6 L736.0,196.7 L736.7,196.7 L737.4,196.7 L738.0,196.7 L738.7,196.7 L739.4,196.7 L740.1,196.6 L740.8,196.7 L741.4,196.6 L742.1,196.6 L742.8,196.6 L743.5,196.6 L744.2,196.7 L744.8,196.7 L745.5,196.7 L746.2,196.6 L746.9,196.6 L747.6,196.6 L748.2,196.6 L748.9,196.7 L749.6,196.7 L750.3,196.7 L751.0,196.7 L751.6,196.7 L752.3,196.7 L753.0,196.7 L753.7,196.8 L754.4,196.7 L755.0,196.7 L755.7,196.7 L756.4,196.7 L757.1,196.7 L757.8,196.7 L758.4,196.6 L759.1,196.6 L759.8,196.6 L760.5,196.7 L761.2,196.6 L761.8,196.7 L762.5,196.6 L763.2,196.6 L763.9,196.6 L764.6,196.6 L765.2,196.6 L765.9,196.5 L766.6,196.5 L767.3,196.6 L768.0,196.6 L768.6,196.6 L769.3,196.6 L770.0,196.6 L770.7,196.6 L771.4,196.6 L772.0,196.6 L772.7,196.5 L773.4,196.5 L774.1,196.5 L774.8,196.5 L775.4,196.5 L776.1,196.5 L776.8,196.5 L777.5,196.5 L778.2,196.5 L778.8,196.5 L779.5,196.5 L780.2,196.5 L780.9,196.5 L781.6,196.5 L782.2,196.4 L782.9,196.4 L783.6,196.4 L784.3,196.4 L785.0,196.4 L785.6,196.4 L786.3,196.4 L787.0,196.3 L787.7,196.2 L788.4,196.2 L789.0,196.1 L789.7,196.2 L790.4,196.2 L791.1,196.2 L791.8,196.1 L792.4,196.0 L793.1,195.9 L793.8,195.8 L794.5,195.7 L795.2,195.6 L795.8,195.4 L796.5,195.1 L797.2,194.8 L797.9,194.6 L798.6,194.1 L799.2,193.5 L799.9,192.4 L800.6,190.7 L801.3,187.9 L802.0,183.2 L802.6,176.2 L803.3,166.6 L804.0,155.4 L804.7,145.0 L805.4,139.2 L806.0,140.2 L806.7,145.7 L807.4,152.6 L808.1,159.9 L808.8,167.5 L809.4,174.9 L810.1,181.1 L810.8,186.0 L811.5,189.4 L812.2,191.7 L812.8,193.1 L813.5,193.9 L814.2,194.5 L814.9,194.8 L815.6,195.1 L816.2,195.3 L816.9,195.4 L817.6,195.5 L818.3,195.6 L819.0,195.7 L819.6,195.9 L820.3,195.9 L821.0,196.0 L821.7,196.0 L822.4,196.1 L823.0,196.2 L823.7,196.2 L824.4,196.2 L825.1,196.3 L825.8,196.3 L826.4,196.4 L827.1,196.4 L827.8,196.5 L828.5,196.5 L829.2,196.5 L829.8,196.5 L830.5,196.5 L831.2,196.5 L831.9,196.5 L832.6,196.5 L833.2,196.5 L833.9,196.5 L834.6,196.5 L835.3,196.5 L836.0,196.5 L836.6,196.6 L837.3,196.6 L838.0,196.6 L838.7,196.6 L839.4,196.6 L840.0,196.6 L840.7,196.6 L841.4,196.7 L842.1,196.6 L842.8,196.6 L843.4,196.6 L844.1,196.6 L844.8,196.7 L845.5,196.7 L846.2,196.8 L846.8,196.8 L847.5,196.8 L848.2,196.7 L848.9,196.7 L849.6,196.7 L850.2,196.8 L850.9,196.8 L851.6,196.7 L852.3,196.7 L853.0,196.6 L853.6,196.7 L854.3,196.6 L855.0,196.6 L855.7,196.6 L856.4,196.7 L857.0,196.7 L857.7,196.8 L858.4,196.8 L859.1,196.8 L859.8,196.8 L860.4,196.8 L861.1,196.8 L861.8,196.8 L862.5,196.8 L863.2,196.8 L863.8,196.8 L864.5,196.7 L865.2,196.6 L865.9,196.6 L866.6,196.7 L867.2,196.7 L867.9,196.8 L868.6,196.8 L869.3,196.9 L870.0,196.8 L870.6,196.8 L871.3,196.8 L872.0,196.8 L872.7,196.8 L873.4,196.8 L874.0,196.8 L874.7,196.8 L875.4,196.8 L876.1,196.8 L876.8,196.8 L877.4,196.8 L878.1,196.8 L878.8,196.8 L879.5,196.8 L880.2,196.8 L880.8,196.8 L881.5,196.8 L882.2,196.8 L882.9,196.9 L883.6,196.9 L884.2,196.8 L884.9,196.8 L885.6,196.7 L886.3,196.7 L887.0,196.7 L887.6,196.8 L888.3,196.8 L889.0,196.8 L889.7,196.8 L890.4,196.8 L891.0,196.8 L891.7,196.8 L892.4,196.8 L893.1,196.7 L893.8,196.7 L894.4,196.7 L895.1,196.8 L895.8,196.8 L896.5,196.8 L897.2,196.8 L897.8,196.8 L898.5,196.8 L899.2,196.8 L899.9,196.8 L900.6,196.8 L901.2,196.8 L901.9,196.8 L902.6,196.8 L903.3,196.8 L904.0,196.8 L904.6,196.8 L905.3,196.8 L906.0,196.8 L906.7,196.8 L907.4,196.8 L908.0,196.8 L908.7,196.8 L909.4,196.8 L910.1,196.8 L910.8,196.8 L911.4,196.9 L912.1,196.8 L912.8,196.8 L913.5,196.8 L914.2,196.8 L914.8,196.7 L915.5,196.7 L916.2,196.7 L916.9,196.7 L917.6,196.8 L918.2,196.8 L918.9,196.8 L919.6,196.8" fill="none" stroke="#37AD6B" stroke-width="2.6" stroke-linejoin="round"/></g>
<g transform="scale(0.650,1)"><path d="M58.0,138.3 L58.5,138.4 L58.9,138.3 L59.4,138.3 L59.9,138.2 L60.4,138.1 L60.8,138.1 L61.3,138.2 L61.8,138.3 L62.2,138.2 L62.7,138.2 L63.2,138.1 L63.7,138.0 L64.1,138.0 L64.6,138.1 L65.1,138.1 L65.6,138.2 L66.0,138.2 L66.5,138.3 L67.0,138.2 L67.4,138.3 L67.9,138.3 L68.4,138.3 L68.9,138.3 L69.3,138.2 L69.8,138.2 L70.3,138.2 L70.7,138.2 L71.2,138.2 L71.7,138.1 L72.2,138.1 L72.6,138.2 L73.1,138.3 L73.6,138.3 L74.0,138.3 L74.5,138.2 L75.0,138.2 L75.5,138.2 L75.9,138.3 L76.4,138.2 L76.9,138.3 L77.3,138.3 L77.8,138.4 L78.3,138.3 L78.8,138.3 L79.2,138.2 L79.7,138.1 L80.2,138.1 L80.7,138.1 L81.1,138.1 L81.6,138.2 L82.1,138.2 L82.5,138.2 L83.0,138.3 L83.5,138.2 L84.0,138.2 L84.4,138.1 L84.9,138.1 L85.4,138.2 L85.7,138.2 L85.8,138.2 L85.8,138.2 L85.9,138.2 L86.0,138.2 L86.2,138.1 L86.3,138.1 L86.3,138.1 L86.4,138.2 L86.5,138.2 L86.6,138.3 L86.8,138.2 L86.8,138.2 L86.9,138.2 L87.0,138.3 L87.1,138.3 L87.2,138.3 L87.3,138.4 L87.3,138.3 L87.5,138.2 L87.6,138.1 L87.7,138.1 L87.7,138.1 L87.8,138.1 L87.9,138.1 L88.0,138.2 L88.2,138.1 L88.2,138.1 L88.3,138.0 L88.4,138.1 L88.5,138.1 L88.6,138.0 L88.7,137.9 L88.8,137.9 L88.9,137.8 L89.0,137.9 L89.1,137.9 L89.1,138.0 L89.2,138.1 L89.3,138.1 L89.5,138.1 L89.6,138.0 L89.6,137.9 L89.7,137.9 L89.8,137.8 L89.9,137.7 L90.1,137.5 L90.1,137.5 L90.2,137.4 L90.3,137.1 L90.4,136.7 L90.5,136.3 L90.6,136.2 L90.6,135.8 L90.8,135.0 L90.9,134.1 L91.0,133.0 L91.0,132.7 L91.1,132.1 L91.2,131.2 L91.4,130.4 L91.5,129.9 L91.5,129.9 L91.6,129.8 L91.7,130.0 L91.8,130.4 L91.9,130.9 L92.0,131.2 L92.1,131.7 L92.2,132.4 L92.3,133.1 L92.4,133.9 L92.4,134.2 L92.5,134.8 L92.6,135.4 L92.8,136.0 L92.9,136.5 L92.9,136.7 L93.0,136.9 L93.1,137.2 L93.2,137.4 L93.4,137.5 L93.4,137.6 L93.5,137.7 L93.6,137.9 L93.7,137.9 L93.8,137.9 L93.9,137.9 L93.9,137.9 L94.1,138.0 L94.2,138.0 L94.3,138.0 L94.3,138.0 L94.4,138.1 L94.5,138.1 L94.7,138.2 L94.8,138.2 L94.8,138.3 L94.9,138.2 L95.0,138.1 L95.1,138.1 L95.2,138.1 L95.3,138.2 L95.4,138.1 L95.5,138.1 L95.6,138.1 L95.7,138.2 L95.8,138.2 L95.8,138.2 L96.0,138.3 L96.1,138.2 L96.2,138.3 L96.2,138.3 L96.3,138.2 L96.4,138.2 L96.5,138.1 L96.7,138.1 L96.7,138.1 L96.8,138.2 L96.9,138.3 L97.0,138.4 L97.1,138.5 L97.2,138.5 L97.3,138.4 L97.4,138.3 L97.5,138.2 L97.6,138.3 L97.6,138.3 L97.7,138.4 L97.8,138.4 L98.0,138.3 L98.1,138.3 L98.1,138.2 L98.2,138.3 L98.3,138.2 L98.4,138.2 L98.5,138.2 L98.6,138.2 L98.7,138.2 L99.1,138.3 L99.5,138.3 L100.0,138.3 L100.5,138.3 L100.9,138.2 L101.4,138.2 L101.9,138.2 L102.4,138.2 L102.8,138.3 L103.3,138.2 L103.8,138.3 L104.2,138.3 L104.7,138.4 L105.2,138.4 L105.7,138.3 L106.1,138.2 L106.6,138.2 L107.1,138.2 L107.5,138.2 L108.0,138.3 L108.5,138.3 L109.0,138.3 L109.4,138.3 L109.9,138.3 L110.4,138.3 L110.9,138.2 L111.3,138.2 L111.8,138.3 L112.3,138.3 L112.7,138.2 L113.2,138.2 L113.7,138.3 L114.2,138.3 L114.6,138.4 L115.1,138.4 L115.6,138.3 L116.0,138.3 L116.5,138.3 L117.0,138.2 L117.5,138.2 L117.9,138.2 L118.4,138.3 L118.9,138.3 L119.3,138.3 L119.8,138.3 L120.3,138.3 L120.8,138.3 L121.2,138.3 L121.7,138.4 L122.2,138.4 L122.6,138.4 L123.1,138.3 L123.6,138.3 L124.1,138.3 L124.5,138.3 L125.0,138.3 L125.5,138.3 L126.0,138.3 L126.4,138.3 L126.9,138.3 L127.4,138.3 L127.8,138.4 L128.3,138.4 L128.8,138.3 L129.3,138.3 L129.7,138.3 L130.2,138.3 L130.7,138.4 L131.1,138.4 L131.6,138.5 L132.1,138.5 L132.6,138.4 L133.0,138.4 L133.5,138.3 L134.0,138.3 L134.4,138.3 L134.9,138.4 L135.4,138.4 L135.9,138.4 L136.3,138.4 L136.8,138.4 L137.3,138.4 L137.8,138.4 L138.2,138.4 L138.7,138.4 L139.2,138.3 L139.6,138.4 L140.1,138.4 L140.6,138.4 L141.1,138.3 L141.5,138.4 L142.0,138.4 L142.5,138.4 L142.9,138.4 L143.4,138.4 L143.9,138.3 L144.4,138.4 L144.8,138.4 L145.3,138.4 L145.8,138.4 L146.2,138.4 L146.7,138.5 L147.2,138.5 L147.7,138.5 L148.1,138.5 L148.6,138.5 L149.1,138.5 L149.5,138.4 L150.0,138.4 L150.5,138.3 L151.0,138.3 L151.4,138.3 L151.9,138.3 L152.4,138.3 L152.9,138.4 L153.3,138.5 L153.8,138.5 L154.3,138.5 L154.7,138.5 L155.2,138.4 L155.7,138.4 L156.2,138.3 L156.6,138.3 L157.1,138.3 L157.6,138.4 L158.0,138.4 L158.5,138.4 L159.0,138.4 L159.5,138.3 L159.9,138.3 L160.4,138.3 L160.9,138.4 L161.3,138.4 L161.8,138.4 L162.3,138.3 L162.8,138.3 L163.2,138.3 L163.7,138.3 L164.2,138.4 L164.6,138.5 L165.1,138.5 L165.6,138.4 L166.1,138.4 L166.5,138.4 L167.0,138.5 L167.5,138.6 L168.0,138.6 L168.4,138.6 L168.9,138.6 L169.4,138.6 L169.8,138.5 L170.3,138.4 L170.8,138.4 L171.3,138.4 L171.7,138.4 L172.2,138.4 L172.7,138.4 L173.1,138.4 L173.6,138.4 L174.1,138.5 L174.6,138.5 L175.0,138.5 L175.5,138.5 L176.0,138.5 L176.4,138.5 L176.9,138.5 L177.4,138.4 L177.9,138.4 L178.3,138.4 L178.8,138.5 L179.3,138.5 L179.7,138.5 L180.2,138.4 L180.7,138.4 L181.2,138.3 L181.6,138.4 L182.1,138.4 L182.6,138.4 L183.1,138.4 L183.5,138.4 L184.0,138.4 L184.5,138.4 L184.9,138.4 L185.4,138.4 L185.9,138.4 L186.4,138.4 L186.8,138.5 L187.3,138.5 L187.8,138.6 L188.2,138.5 L188.7,138.5 L189.2,138.3 L189.7,138.3 L190.1,138.3 L190.6,138.4 L191.1,138.5 L191.5,138.5 L192.0,138.4 L192.5,138.3 L193.0,138.3 L193.4,138.4 L193.9,138.5 L194.4,138.5 L194.9,138.5 L195.3,138.4 L195.8,138.3 L196.3,138.3 L196.7,138.3 L197.2,138.3 L197.7,138.3 L198.2,138.3 L198.6,138.3 L199.1,138.3 L199.6,138.2 L200.0,138.2 L200.5,138.1 L201.0,138.2 L201.1,138.2 L201.2,138.2 L201.3,138.2 L201.5,138.1 L201.6,138.0 L201.7,137.9 L201.8,137.8 L201.9,137.8 L202.0,137.8 L202.2,137.8 L202.3,137.8 L202.4,137.9 L202.5,137.8 L202.6,137.8 L202.8,137.7 L202.9,137.7 L203.0,137.7 L203.1,137.6 L203.2,137.5 L203.3,137.4 L203.5,137.3 L203.6,137.3 L203.7,137.2 L203.8,137.1 L203.9,137.0 L204.1,136.9 L204.2,136.7 L204.3,136.6 L204.4,136.3 L204.5,136.1 L204.6,135.8 L204.8,135.5 L204.9,135.1 L205.0,134.5 L205.1,133.8 L205.2,132.8 L205.3,131.4 L205.5,129.6 L205.6,127.3 L205.7,124.3 L205.8,120.7 L205.9,116.4 L206.1,111.4 L206.2,105.9 L206.3,99.9 L206.4,93.9 L206.5,88.5 L206.6,84.1 L206.8,81.3 L206.9,80.4 L207.0,81.2 L207.1,83.4 L207.2,86.5 L207.4,90.0 L207.5,93.7 L207.6,97.5 L207.7,101.4 L207.8,105.2 L207.9,109.1 L208.1,112.9 L208.2,116.7 L208.3,120.1 L208.4,123.2 L208.5,125.8 L208.7,128.1 L208.8,130.0 L208.9,131.6 L209.0,132.9 L209.1,133.9 L209.2,134.6 L209.4,135.2 L209.5,135.6 L209.6,136.0 L209.7,136.2 L209.8,136.5 L210.0,136.7 L210.1,136.9 L210.2,137.0 L210.3,137.1 L210.4,137.2 L210.5,137.3 L210.7,137.3 L210.8,137.4 L210.9,137.5 L211.0,137.6 L211.1,137.6 L211.2,137.6 L211.4,137.6 L211.5,137.7 L211.6,137.7 L211.7,137.8 L211.8,137.8 L212.0,137.9 L212.1,138.0 L212.2,138.0 L212.3,138.0 L212.4,138.0 L212.5,138.0 L212.7,138.1 L212.8,138.1 L212.9,138.1 L213.0,138.0 L213.1,138.0 L213.3,138.1 L213.4,138.1 L213.5,138.2 L213.6,138.2 L213.7,138.2 L213.8,138.2 L214.0,138.2 L214.2,138.2 L214.7,138.2 L215.1,138.2 L215.6,138.2 L216.1,138.3 L216.6,138.4 L217.0,138.4 L217.5,138.4 L218.0,138.4 L218.4,138.4 L218.9,138.5 L219.4,138.5 L219.9,138.5 L220.3,138.4 L220.8,138.5 L221.3,138.5 L221.7,138.6 L222.2,138.6 L222.7,138.6 L223.2,138.5 L223.6,138.5 L224.1,138.5 L224.6,138.5 L225.1,138.4 L225.5,138.4 L226.0,138.5 L226.5,138.6 L226.9,138.7 L227.4,138.6 L227.9,138.5 L228.4,138.4 L228.8,138.4 L229.3,138.4 L229.8,138.4 L230.2,138.4 L230.7,138.4 L231.2,138.5 L231.7,138.5 L232.1,138.6 L232.6,138.6 L233.1,138.6 L233.5,138.6 L234.0,138.6 L234.5,138.7 L235.0,138.7 L235.4,138.6 L235.9,138.5 L236.4,138.5 L236.8,138.5 L237.3,138.5 L237.8,138.6 L238.3,138.6 L238.7,138.5 L239.2,138.5 L239.7,138.5 L240.2,138.5 L240.6,138.5 L241.1,138.5 L241.6,138.5 L242.0,138.6 L242.5,138.6 L243.0,138.5 L243.5,138.5 L243.9,138.5 L244.4,138.5 L244.9,138.5 L245.3,138.5 L245.8,138.4 L246.3,138.5 L246.8,138.5 L247.2,138.6 L247.7,138.6 L248.2,138.6 L248.6,138.6 L249.1,138.7 L249.6,138.7 L250.1,138.7 L250.5,138.6 L251.0,138.6 L251.5,138.7 L251.9,138.7 L252.4,138.7 L252.9,138.6 L253.4,138.5 L253.8,138.5 L254.3,138.6 L254.8,138.7 L255.3,138.8 L255.7,138.8 L256.2,138.7 L256.7,138.6 L257.1,138.6 L257.6,138.6 L258.1,138.6 L258.6,138.6 L259.0,138.7 L259.5,138.7 L260.0,138.7 L260.4,138.6 L260.9,138.6 L261.4,138.6 L261.9,138.6 L262.3,138.6 L262.8,138.6 L263.3,138.6 L263.7,138.6 L264.2,138.6 L264.7,138.6 L265.2,138.6 L265.6,138.7 L266.1,138.7 L266.6,138.7 L267.1,138.6 L267.5,138.5 L268.0,138.5 L268.5,138.6 L268.9,138.7 L269.4,138.7 L269.9,138.7 L270.4,138.7 L270.8,138.7 L271.3,138.7 L271.8,138.7 L272.2,138.7 L272.7,138.6 L273.2,138.6 L273.7,138.5 L274.1,138.5 L274.6,138.5 L275.1,138.5 L275.5,138.5 L276.0,138.4 L276.5,138.3 L277.0,138.3 L277.4,138.4 L277.9,138.5 L278.4,138.7 L278.8,138.8 L279.3,138.8 L279.8,138.7 L280.3,138.7 L280.7,138.7 L281.2,138.6 L281.7,138.5 L282.2,138.5 L282.6,138.6 L283.1,138.6 L283.6,138.6 L284.0,138.6 L284.5,138.6 L285.0,138.6 L285.5,138.6 L285.9,138.6 L286.4,138.5 L286.9,138.4 L287.3,138.4 L287.8,138.4 L288.3,138.4 L288.8,138.5 L289.2,138.5 L289.7,138.6 L290.2,138.6 L290.3,138.6 L290.4,138.6 L290.5,138.6 L290.6,138.6 L290.6,138.6 L290.7,138.5 L290.8,138.5 L291.0,138.5 L291.1,138.6 L291.1,138.5 L291.2,138.5 L291.3,138.4 L291.4,138.3 L291.6,138.3 L291.6,138.4 L291.7,138.4 L291.8,138.4 L291.9,138.5 L292.0,138.4 L292.1,138.5 L292.1,138.5 L292.3,138.5 L292.4,138.5 L292.5,138.4 L292.5,138.4 L292.6,138.4 L292.7,138.4 L292.9,138.5 L293.0,138.4 L293.0,138.4 L293.1,138.4 L293.2,138.3 L293.3,138.3 L293.4,138.3 L293.5,138.3 L293.6,138.2 L293.7,138.1 L293.8,137.9 L293.9,137.7 L293.9,137.7 L294.0,137.6 L294.1,137.5 L294.3,137.3 L294.4,137.1 L294.4,137.1 L294.5,136.9 L294.6,136.4 L294.7,135.9 L294.9,135.4 L294.9,135.2 L295.0,134.8 L295.1,134.2 L295.2,133.4 L295.3,132.7 L295.4,132.4 L295.4,131.9 L295.6,131.1 L295.7,130.4 L295.8,129.8 L295.8,129.6 L295.9,129.3 L296.0,129.0 L296.2,129.0 L296.3,129.2 L296.3,129.3 L296.4,129.5 L296.5,129.7 L296.6,130.1 L296.7,130.6 L296.8,130.8 L296.9,131.1 L297.0,131.5 L297.1,132.0 L297.2,132.4 L297.3,132.5 L297.3,132.9 L297.5,133.5 L297.6,134.1 L297.7,134.8 L297.7,134.9 L297.8,135.2 L297.9,135.6 L298.0,136.0 L298.2,136.3 L298.2,136.4 L298.3,136.6 L298.4,136.9 L298.5,137.2 L298.6,137.5 L298.7,137.5 L298.8,137.7 L298.9,137.8 L299.0,138.0 L299.1,138.0 L299.1,138.0 L299.2,138.1 L299.3,138.1 L299.5,138.2 L299.6,138.3 L299.6,138.3 L299.7,138.3 L299.8,138.3 L299.9,138.3 L300.0,138.4 L300.1,138.4 L300.2,138.5 L300.3,138.5 L300.4,138.4 L300.5,138.5 L300.6,138.5 L300.6,138.5 L300.8,138.5 L300.9,138.5 L301.0,138.5 L301.0,138.5 L301.1,138.5 L301.2,138.5 L301.3,138.5 L301.5,138.5 L301.5,138.5 L301.6,138.5 L301.7,138.5 L301.8,138.5 L301.9,138.6 L302.0,138.6 L302.1,138.6 L302.2,138.6 L302.3,138.7 L302.4,138.7 L302.4,138.7 L302.5,138.6 L302.6,138.6 L302.8,138.6 L302.9,138.6 L302.9,138.6 L303.0,138.7 L303.1,138.7 L303.2,138.6 L303.4,138.6 L303.9,138.7 L304.3,138.7 L304.8,138.7 L305.3,138.6 L305.7,138.6 L306.2,138.6 L306.7,138.7 L307.2,138.7 L307.6,138.8 L308.1,138.7 L308.6,138.7 L309.0,138.7 L309.5,138.7 L310.0,138.7 L310.5,138.6 L310.9,138.6 L311.4,138.6 L311.9,138.7 L312.4,138.7 L312.8,138.8 L313.3,138.7 L313.8,138.7 L314.2,138.7 L314.7,138.7 L315.2,138.6 L315.7,138.6 L316.1,138.6 L316.6,138.8 L317.1,138.9 L317.5,138.9 L318.0,138.9 L318.5,138.9 L319.0,138.8 L319.4,138.8 L319.9,138.8 L320.4,138.8 L320.8,138.7 L321.3,138.7 L321.8,138.7 L322.3,138.7 L322.7,138.8 L323.2,138.7 L323.7,138.7 L324.2,138.7 L324.6,138.8 L325.1,138.8 L325.6,138.8 L326.0,138.8 L326.5,138.8 L327.0,138.8 L327.5,138.8 L327.9,138.8 L328.4,138.8 L328.9,138.8 L329.3,138.7 L329.8,138.6 L330.3,138.5 L330.8,138.5 L331.2,138.5 L331.7,138.4 L332.2,138.3 L332.6,138.2 L333.1,138.2 L333.6,138.2 L334.1,138.4 L334.5,138.5 L335.0,138.6 L335.5,138.7 L335.9,138.8 L336.4,138.8 L336.9,138.8 L337.4,138.7 L337.8,138.7 L338.3,138.7 L338.8,138.7 L339.3,138.7 L339.7,138.8 L340.2,138.8 L340.7,138.7 L341.1,138.7 L341.6,138.7 L342.1,138.8 L342.6,138.8 L343.0,138.8 L343.5,138.8 L344.0,138.7 L344.4,138.7 L344.9,138.7 L345.4,138.8 L345.9,138.8 L346.3,138.8 L346.8,138.8 L347.3,138.8 L347.7,138.8 L348.2,138.8 L348.7,138.8 L349.2,138.7 L349.6,138.7 L350.1,138.8 L350.6,138.8 L351.0,138.9 L351.5,138.9 L352.0,138.9 L352.5,138.8 L352.9,138.8 L353.4,138.8 L353.9,138.8 L354.4,138.7 L354.8,138.7 L355.3,138.7 L355.8,138.7 L356.2,138.8 L356.7,138.8 L357.2,138.8 L357.7,138.7 L358.1,138.7 L358.6,138.6 L359.1,138.6 L359.5,138.7 L360.0,138.7 L360.5,138.7 L361.0,138.6 L361.4,138.6 L361.9,138.6 L362.4,138.6 L362.8,138.6 L363.3,138.7 L363.8,138.7 L364.3,138.7 L364.7,138.7 L365.2,138.6 L365.7,138.6 L366.1,138.5 L366.6,138.5 L367.1,138.5 L367.6,138.4 L367.6,138.4 L367.8,138.4 L367.9,138.4 L368.0,138.4 L368.0,138.4 L368.1,138.4 L368.2,138.4 L368.4,138.4 L368.5,138.4 L368.5,138.3 L368.6,138.2 L368.7,138.2 L368.8,138.2 L368.9,138.2 L369.0,138.2 L369.1,138.1 L369.2,138.1 L369.3,138.1 L369.4,138.2 L369.5,138.2 L369.5,138.3 L369.7,138.3 L369.8,138.2 L369.9,138.1 L369.9,138.0 L370.0,137.9 L370.1,137.8 L370.2,137.8 L370.4,137.7 L370.4,137.7 L370.5,137.6 L370.6,137.5 L370.7,137.4 L370.8,137.2 L370.9,137.1 L371.0,136.9 L371.1,136.7 L371.2,136.3 L371.3,136.0 L371.3,135.9 L371.4,135.6 L371.5,135.1 L371.7,134.4 L371.8,133.6 L371.8,133.3 L371.9,132.7 L372.0,131.7 L372.1,130.6 L372.2,129.4 L372.3,129.0 L372.4,128.1 L372.5,126.8 L372.6,125.4 L372.7,123.9 L372.8,123.4 L372.8,122.4 L373.0,121.0 L373.1,119.8 L373.2,118.7 L373.2,118.5 L373.3,118.0 L373.4,117.6 L373.5,117.5 L373.7,117.6 L373.7,117.7 L373.8,117.9 L373.9,118.5 L374.0,119.3 L374.1,120.2 L374.2,120.5 L374.3,121.1 L374.4,122.0 L374.5,122.9 L374.6,123.8 L374.6,124.1 L374.7,124.8 L374.8,125.7 L375.0,126.7 L375.1,127.7 L375.1,128.0 L375.2,128.6 L375.3,129.6 L375.4,130.5 L375.6,131.4 L375.6,131.6 L375.7,132.2 L375.8,132.9 L375.9,133.7 L376.0,134.3 L376.1,134.4 L376.1,134.7 L376.3,135.3 L376.4,135.7 L376.5,136.1 L376.5,136.3 L376.6,136.5 L376.7,136.8 L376.8,137.0 L377.0,137.2 L377.0,137.3 L377.1,137.4 L377.2,137.5 L377.3,137.7 L377.4,137.7 L377.5,137.7 L377.6,137.8 L377.7,137.8 L377.8,137.9 L377.9,137.9 L377.9,138.0 L378.0,138.0 L378.1,138.1 L378.3,138.1 L378.4,138.2 L378.4,138.2 L378.5,138.3 L378.6,138.3 L378.7,138.3 L378.9,138.3 L378.9,138.2 L379.0,138.2 L379.1,138.1 L379.2,138.2 L379.3,138.2 L379.4,138.3 L379.4,138.4 L379.6,138.4 L379.7,138.4 L379.8,138.4 L379.8,138.5 L379.9,138.5 L380.0,138.5 L380.2,138.4 L380.3,138.4 L380.3,138.4 L380.4,138.4 L380.5,138.4 L380.6,138.5 L380.8,138.5 L381.2,138.6 L381.7,138.5 L382.2,138.5 L382.7,138.6 L383.1,138.7 L383.6,138.7 L384.1,138.7 L384.6,138.7 L385.0,138.6 L385.5,138.6 L386.0,138.6 L386.4,138.6 L386.9,138.6 L387.4,138.7 L387.9,138.7 L388.3,138.7 L388.8,138.7 L389.3,138.7 L389.7,138.6 L390.2,138.6 L390.7,138.6 L391.2,138.7 L391.6,138.8 L392.1,138.8 L392.6,138.8 L393.0,138.7 L393.5,138.7 L394.0,138.7 L394.5,138.8 L394.9,138.8 L395.4,138.7 L395.9,138.7 L396.4,138.7 L396.8,138.7 L397.3,138.7 L397.8,138.8 L398.2,138.8 L398.7,138.9 L399.2,138.9 L399.7,138.9 L400.1,138.9 L400.6,138.8 L401.1,138.7 L401.5,138.7 L402.0,138.7 L402.5,138.7 L403.0,138.7 L403.4,138.7 L403.9,138.7 L404.4,138.7 L404.8,138.8 L405.3,138.8 L405.8,138.8 L406.3,138.8 L406.7,138.8 L407.2,138.8 L407.7,138.8 L408.1,138.7 L408.6,138.6 L409.1,138.6 L409.6,138.7 L410.0,138.8 L410.5,138.8 L411.0,138.8 L411.5,138.8 L411.9,138.7 L412.4,138.7 L412.9,138.7 L413.3,138.7 L413.8,138.7 L414.3,138.7 L414.8,138.7 L415.2,138.7 L415.7,138.8 L416.2,138.7 L416.6,138.7 L417.1,138.6 L417.6,138.6 L418.1,138.7 L418.5,138.7 L419.0,138.6 L419.5,138.6 L419.9,138.6 L420.4,138.7 L420.9,138.8 L421.4,138.8 L421.8,138.8 L422.3,138.7 L422.8,138.7 L423.2,138.7 L423.7,138.7 L424.2,138.6 L424.7,138.7 L425.1,138.7 L425.6,138.7 L426.1,138.7 L426.6,138.7 L427.0,138.7 L427.5,138.7 L428.0,138.8 L428.4,138.8 L428.9,138.8 L429.4,138.7 L429.9,138.7 L430.3,138.7 L430.8,138.7 L431.3,138.7 L431.7,138.7 L432.2,138.7 L432.7,138.8 L433.2,138.8 L433.6,138.8 L434.1,138.8 L434.6,138.8 L435.0,138.8 L435.5,138.7 L436.0,138.7 L436.5,138.7 L436.5,138.8 L436.7,138.8 L436.8,138.9 L436.9,138.8 L436.9,138.7 L437.0,138.6 L437.1,138.6 L437.3,138.6 L437.4,138.6 L437.4,138.6 L437.5,138.6 L437.6,138.6 L437.7,138.7 L437.8,138.8 L437.9,138.8 L438.0,138.8 L438.1,138.8 L438.2,138.7 L438.3,138.7 L438.3,138.7 L438.4,138.7 L438.5,138.6 L438.7,138.7 L438.8,138.7 L438.8,138.7 L438.9,138.7 L439.0,138.7 L439.1,138.7 L439.3,138.7 L439.3,138.6 L439.4,138.6 L439.5,138.6 L439.6,138.7 L439.7,138.7 L439.8,138.7 L439.8,138.6 L440.0,138.5 L440.1,138.4 L440.2,138.3 L440.2,138.3 L440.3,138.4 L440.4,138.4 L440.6,138.4 L440.7,138.3 L440.7,138.2 L440.8,138.1 L440.9,138.1 L441.0,138.0 L441.1,138.0 L441.2,138.0 L441.3,138.0 L441.4,137.9 L441.5,137.8 L441.6,137.6 L441.7,137.5 L441.7,137.4 L441.9,137.4 L442.0,137.3 L442.1,137.3 L442.1,137.3 L442.2,137.2 L442.3,137.2 L442.4,137.2 L442.6,137.2 L442.6,137.2 L442.7,137.2 L442.8,137.3 L442.9,137.2 L443.0,137.3 L443.1,137.3 L443.2,137.4 L443.3,137.5 L443.4,137.6 L443.5,137.6 L443.5,137.6 L443.6,137.6 L443.7,137.7 L443.9,137.8 L444.0,137.9 L444.0,138.0 L444.1,138.0 L444.2,138.1 L444.3,138.1 L444.4,138.1 L444.5,138.2 L444.6,138.2 L444.7,138.3 L444.8,138.3 L444.9,138.3 L445.0,138.3 L445.0,138.3 L445.2,138.4 L445.3,138.4 L445.4,138.5 L445.4,138.5 L445.5,138.5 L445.6,138.5 L445.7,138.5 L445.9,138.5 L445.9,138.5 L446.0,138.6 L446.1,138.7 L446.2,138.7 L446.3,138.7 L446.4,138.6 L446.5,138.6 L446.6,138.6 L446.7,138.7 L446.8,138.7 L446.8,138.7 L446.9,138.7 L447.0,138.8 L447.2,138.7 L447.3,138.6 L447.3,138.6 L447.4,138.6 L447.5,138.7 L447.6,138.7 L447.8,138.7 L447.8,138.7 L447.9,138.7 L448.0,138.7 L448.1,138.7 L448.2,138.6 L448.3,138.6 L448.3,138.5 L448.5,138.6 L448.6,138.6 L448.7,138.7 L448.7,138.7 L448.8,138.8 L448.9,138.8 L449.0,138.8 L449.2,138.8 L449.2,138.8 L449.3,138.9 L449.4,138.9 L449.5,138.8 L449.7,138.7 L450.1,138.7 L450.6,138.7 L451.1,138.7 L451.6,138.7 L452.0,138.7 L452.5,138.7 L453.0,138.6 L453.5,138.6 L453.9,138.7 L454.4,138.7 L454.9,138.8 L455.3,138.8 L455.8,138.8 L456.3,138.8 L456.8,138.7 L457.2,138.7 L457.7,138.6 L458.2,138.6 L458.6,138.6 L459.1,138.6 L459.6,138.6 L460.1,138.6 L460.5,138.6 L461.0,138.7 L461.5,138.7 L461.9,138.8 L462.4,138.7 L462.9,138.7 L463.4,138.6 L463.8,138.7 L464.3,138.7 L464.8,138.6 L465.2,138.6 L465.7,138.7 L466.2,138.7 L466.7,138.8 L467.1,138.8 L467.6,138.8 L468.1,138.8 L468.6,138.8 L469.0,138.7 L469.5,138.7 L470.0,138.7 L470.4,138.6 L470.9,138.6 L471.4,138.7 L471.9,138.8 L472.3,138.8 L472.8,138.8 L473.3,138.7 L473.7,138.7 L474.2,138.7 L474.7,138.7 L475.2,138.7 L475.6,138.7 L476.1,138.7 L476.6,138.7 L477.0,138.7 L477.5,138.7 L478.0,138.7 L478.5,138.7 L478.9,138.7 L479.4,138.7 L479.9,138.7 L480.3,138.7 L480.8,138.7 L481.3,138.7 L481.8,138.7 L482.2,138.6 L482.7,138.6 L483.2,138.6 L483.7,138.6 L484.1,138.6 L484.6,138.5 L485.1,138.5 L485.5,138.6 L486.0,138.7 L486.5,138.7 L487.0,138.7 L487.4,138.7 L487.9,138.6 L488.4,138.6 L488.8,138.5 L489.3,138.5 L489.8,138.5 L490.3,138.5 L490.7,138.6 L491.2,138.6 L491.7,138.6 L492.1,138.5 L492.6,138.5 L493.1,138.5 L493.6,138.5 L494.0,138.5 L494.5,138.6 L495.0,138.6 L495.4,138.6 L495.9,138.6 L496.4,138.6 L496.9,138.6 L497.3,138.6 L497.8,138.7 L498.3,138.7 L498.8,138.7 L499.2,138.6 L499.7,138.6 L500.2,138.5 L500.6,138.4 L501.1,138.4 L501.6,138.4 L502.1,138.4 L502.4,138.4 L502.5,138.4 L502.5,138.4 L502.6,138.3 L502.7,138.3 L502.8,138.4 L503.0,138.3 L503.0,138.3 L503.1,138.3 L503.2,138.2 L503.3,138.3 L503.4,138.3 L503.5,138.3 L503.6,138.2 L503.7,138.1 L503.8,138.1 L503.9,138.1 L503.9,138.1 L504.0,138.1 L504.1,138.1 L504.3,138.0 L504.4,137.9 L504.4,137.9 L504.5,137.9 L504.6,137.9 L504.7,137.8 L504.9,137.6 L504.9,137.6 L505.0,137.5 L505.1,137.4 L505.2,137.4 L505.3,137.3 L505.4,137.3 L505.4,137.1 L505.6,136.9 L505.7,136.6 L505.8,136.2 L505.8,136.1 L505.9,135.9 L506.0,135.6 L506.1,135.2 L506.3,134.7 L506.3,134.6 L506.4,134.2 L506.5,133.7 L506.6,133.2 L506.7,132.6 L506.8,132.4 L506.9,132.0 L507.0,131.3 L507.1,130.6 L507.2,129.8 L507.2,129.4 L507.3,128.9 L507.4,128.2 L507.6,127.6 L507.7,127.1 L507.7,127.0 L507.8,126.6 L507.9,126.3 L508.0,126.0 L508.2,125.8 L508.2,125.8 L508.3,125.7 L508.4,125.8 L508.5,126.0 L508.6,126.3 L508.7,126.4 L508.7,126.6 L508.9,127.0 L509.0,127.4 L509.1,127.8 L509.1,127.9 L509.2,128.1 L509.3,128.5 L509.5,129.0 L509.6,129.4 L509.6,129.6 L509.7,129.9 L509.8,130.4 L509.9,130.9 L510.0,131.3 L510.1,131.4 L510.2,131.7 L510.3,132.1 L510.4,132.6 L510.5,133.1 L510.5,133.2 L510.6,133.5 L510.8,133.9 L510.9,134.3 L511.0,134.7 L511.0,134.8 L511.1,135.1 L511.2,135.4 L511.3,135.8 L511.5,136.1 L511.5,136.2 L511.6,136.4 L511.7,136.6 L511.8,136.8 L511.9,137.0 L512.0,136.9 L512.0,137.0 L512.2,137.2 L512.3,137.5 L512.4,137.7 L512.4,137.7 L512.5,137.7 L512.6,137.7 L512.8,137.8 L512.9,137.9 L512.9,137.9 L513.0,138.0 L513.1,138.0 L513.2,138.0 L513.3,138.1 L513.4,138.1 L513.5,138.1 L513.6,138.1 L513.7,138.1 L513.8,138.1 L513.9,138.1 L513.9,138.2 L514.1,138.2 L514.2,138.2 L514.3,138.3 L514.3,138.3 L514.4,138.3 L514.5,138.3 L514.6,138.3 L514.8,138.4 L514.8,138.3 L514.9,138.3 L515.0,138.3 L515.1,138.3 L515.2,138.4 L515.3,138.4 L515.4,138.4 L515.7,138.3 L516.2,138.4 L516.7,138.4 L517.2,138.5 L517.6,138.5 L518.1,138.6 L518.6,138.6 L519.0,138.6 L519.5,138.6 L520.0,138.6 L520.5,138.6 L520.9,138.7 L521.4,138.7 L521.9,138.7 L522.3,138.7 L522.8,138.7 L523.3,138.6 L523.8,138.6 L524.2,138.6 L524.7,138.6 L525.2,138.6 L525.7,138.6 L526.1,138.6 L526.6,138.6 L527.1,138.6 L527.5,138.6 L528.0,138.6 L528.5,138.6 L529.0,138.6 L529.4,138.7 L529.9,138.7 L530.4,138.7 L530.8,138.7 L531.3,138.6 L531.8,138.6 L532.3,138.7 L532.7,138.8 L533.2,138.8 L533.7,138.7 L534.1,138.6 L534.6,138.6 L535.1,138.6 L535.6,138.6 L536.0,138.6 L536.5,138.7 L537.0,138.7 L537.4,138.7 L537.9,138.6 L538.4,138.6 L538.9,138.6 L539.3,138.6 L539.8,138.6 L540.3,138.7 L540.8,138.8 L541.2,138.7 L541.7,138.6 L542.2,138.5 L542.6,138.6 L543.1,138.7 L543.6,138.7 L544.1,138.6 L544.5,138.6 L545.0,138.7 L545.5,138.7 L545.9,138.7 L546.4,138.7 L546.9,138.7 L547.4,138.7 L547.8,138.7 L548.3,138.7 L548.8,138.7 L549.2,138.6 L549.7,138.6 L550.2,138.6 L550.7,138.7 L551.1,138.7 L551.6,138.7 L552.1,138.7 L552.5,138.7 L553.0,138.7 L553.5,138.7 L554.0,138.6 L554.4,138.6 L554.9,138.6 L555.4,138.6 L555.9,138.5 L556.3,138.5 L556.8,138.6 L557.3,138.6 L557.7,138.6 L558.2,138.7 L558.7,138.7 L559.2,138.7 L559.6,138.6 L560.1,138.6 L560.6,138.6 L561.0,138.6 L561.5,138.7 L562.0,138.7 L562.5,138.8 L562.9,138.8 L563.4,138.8 L563.9,138.8 L564.3,138.8 L564.8,138.8 L565.3,138.7 L565.8,138.6 L566.2,138.6 L566.7,138.6 L567.2,138.6 L567.6,138.6 L568.1,138.6 L568.6,138.6 L569.1,138.6 L569.5,138.7 L570.0,138.7 L570.5,138.7 L571.0,138.7 L571.4,138.6 L571.9,138.5 L572.4,138.5 L572.8,138.5 L573.3,138.5 L573.8,138.5 L574.3,138.4 L574.7,138.4 L575.2,138.4 L575.7,138.5 L576.1,138.5 L576.6,138.5 L577.1,138.6 L577.6,138.6 L578.0,138.6 L578.5,138.6 L579.0,138.6 L579.4,138.6 L579.9,138.7 L580.4,138.7 L580.9,138.6 L581.3,138.6 L581.8,138.7 L582.3,138.7 L582.7,138.7 L583.2,138.7 L583.7,138.6 L584.2,138.6 L584.6,138.6 L585.1,138.6 L585.6,138.7 L586.1,138.6 L586.5,138.5 L587.0,138.5 L587.5,138.5 L587.9,138.6 L588.4,138.6 L588.9,138.6 L589.4,138.6 L589.8,138.6 L590.3,138.7 L590.8,138.7 L591.2,138.7 L591.7,138.6 L592.2,138.6 L592.7,138.5 L593.1,138.5 L593.6,138.6 L594.1,138.7 L594.5,138.7 L595.0,138.7 L595.5,138.7 L596.0,138.7 L596.4,138.7 L596.9,138.7 L597.4,138.7 L597.9,138.7 L598.3,138.6 L598.8,138.6 L599.3,138.6 L599.7,138.6 L600.2,138.6 L600.7,138.6 L601.2,138.6 L601.6,138.7 L602.1,138.6 L602.6,138.6 L603.0,138.6 L603.5,138.6 L604.0,138.6 L604.5,138.6 L604.9,138.6 L605.4,138.6 L605.9,138.7 L606.3,138.7 L606.8,138.7 L607.3,138.7 L607.8,138.7 L608.2,138.6 L608.7,138.7 L609.2,138.6 L609.6,138.6 L610.1,138.6 L610.6,138.7 L611.1,138.7 L611.5,138.7 L612.0,138.7 L612.5,138.7 L613.0,138.7 L613.4,138.7 L613.9,138.6 L614.4,138.6 L614.8,138.5 L615.3,138.6 L615.8,138.6 L616.3,138.6 L616.7,138.6 L617.2,138.6 L617.7,138.6 L618.1,138.6 L618.6,138.6 L619.1,138.6 L619.6,138.6 L620.0,138.5 L620.5,138.5 L621.0,138.5 L621.4,138.5 L621.9,138.4 L622.4,138.4 L622.9,138.5 L623.3,138.6 L623.8,138.6 L624.3,138.6 L624.7,138.5 L625.2,138.4 L625.7,138.2 L626.2,137.9 L626.6,137.5 L627.1,137.1 L627.6,136.6 L628.1,136.1 L628.5,135.7 L629.0,135.4 L629.5,135.5 L629.9,135.7 L630.4,136.1 L630.9,136.5 L631.4,136.9 L631.8,137.2 L632.3,137.5 L632.8,137.8 L633.2,138.0 L633.7,138.2 L634.2,138.4 L634.7,138.5 L635.1,138.5 L635.6,138.4 L636.1,138.4 L636.5,138.3 L637.0,138.3 L637.5,138.4 L638.0,138.5 L638.4,138.6 L638.9,138.7 L639.4,138.7 L639.8,138.7 L640.3,138.7 L640.8,138.6 L641.3,138.6 L641.7,138.6 L642.2,138.6 L642.7,138.6 L643.2,138.6 L643.6,138.7 L644.1,138.7 L644.6,138.6 L645.0,138.6 L645.5,138.6 L646.0,138.6 L646.5,138.6 L646.9,138.6 L647.4,138.6 L647.9,138.6 L648.3,138.6 L648.8,138.6 L649.3,138.5 L649.8,138.5 L650.2,138.5 L650.7,138.6 L651.2,138.6 L651.6,138.6 L652.1,138.6 L652.6,138.7 L653.1,138.7 L653.5,138.6 L654.0,138.6 L654.5,138.6 L655.0,138.6 L655.4,138.6 L655.9,138.7 L656.4,138.7 L656.8,138.7 L657.3,138.7 L657.8,138.6 L658.3,138.6 L658.7,138.6 L659.2,138.7 L659.7,138.7 L660.1,138.7 L660.6,138.6 L661.1,138.6 L661.6,138.6 L662.0,138.5 L662.5,138.5 L663.0,138.5 L663.4,138.5 L663.9,138.6 L664.4,138.6 L664.9,138.6 L665.3,138.5 L665.8,138.5 L666.3,138.5 L666.7,138.6 L667.2,138.6 L667.7,138.5 L668.2,138.5 L668.6,138.5 L669.1,138.4 L669.6,138.5 L670.1,138.5 L670.5,138.5 L671.0,138.5 L671.5,138.6 L671.9,138.5 L672.4,138.5 L672.9,138.5 L673.4,138.5 L673.8,138.5 L674.3,138.5 L674.8,138.5 L675.2,138.5 L675.7,138.6 L676.2,138.6 L676.7,138.6 L677.1,138.6 L677.6,138.5 L678.1,138.5 L678.5,138.5 L679.0,138.6 L679.5,138.6 L680.0,138.6 L680.4,138.5 L680.9,138.5 L681.4,138.5 L681.8,138.5 L682.3,138.4 L682.8,138.4 L683.3,138.5 L683.7,138.6 L684.2,138.6 L684.7,138.6 L685.2,138.6 L685.6,138.7 L686.1,138.7 L686.6,138.7 L687.0,138.7 L687.5,138.6 L688.0,138.5 L688.5,138.6 L688.9,138.7 L689.4,138.7 L689.9,138.7 L690.3,138.6 L690.8,138.6 L691.3,138.7 L691.8,138.7 L692.2,138.7 L692.7,138.7 L693.2,138.7 L693.6,138.7 L694.1,138.6 L694.6,138.5 L695.1,138.5 L695.5,138.5 L696.0,138.6 L696.5,138.5 L696.9,138.5 L697.4,138.5 L697.9,138.5 L698.4,138.5 L698.8,138.5 L699.3,138.4 L699.8,138.5 L700.3,138.5 L700.7,138.6 L701.2,138.6 L701.7,138.7 L702.1,138.6 L702.6,138.6 L703.1,138.6 L703.6,138.6 L704.0,138.6 L704.5,138.6 L705.0,138.6 L705.4,138.6 L705.9,138.6 L706.4,138.6 L706.9,138.5 L707.3,138.6 L707.8,138.6 L708.3,138.6 L708.7,138.5 L709.2,138.5 L709.7,138.5 L710.2,138.5 L710.6,138.6 L711.1,138.6 L711.6,138.6 L712.0,138.5 L712.5,138.5 L713.0,138.5 L713.5,138.5 L713.9,138.5 L714.4,138.4 L714.9,138.5 L715.4,138.4 L715.8,138.5 L716.3,138.5 L716.8,138.6 L717.2,138.5 L717.7,138.5 L718.2,138.4 L718.7,138.4 L719.1,138.5 L719.6,138.5 L720.1,138.5 L720.5,138.5 L721.0,138.4 L721.5,138.5 L722.0,138.5 L722.4,138.5 L722.9,138.6 L723.4,138.6 L723.8,138.6 L724.3,138.6 L724.8,138.6 L725.3,138.6 L725.7,138.5 L726.2,138.5 L726.7,138.4 L727.2,138.4 L727.6,138.4 L728.1,138.5 L728.6,138.6 L729.0,138.6 L729.5,138.6 L730.0,138.6 L730.5,138.6 L730.9,138.5 L731.4,138.5 L731.9,138.5 L732.3,138.4 L732.8,138.3 L733.3,138.3 L733.8,138.3 L734.2,138.3 L734.7,138.3 L735.2,138.3 L735.6,138.2 L736.1,138.0 L736.6,137.7 L737.1,137.3 L737.5,136.9 L738.0,136.5 L738.5,136.1 L738.9,136.0 L739.4,136.0 L739.9,136.2 L740.4,136.5 L740.8,136.7 L741.3,137.0 L741.8,137.3 L742.3,137.5 L742.7,137.7 L743.2,137.9 L743.7,138.2 L744.1,138.4 L744.6,138.5 L745.1,138.5 L745.6,138.4 L746.0,138.3 L746.5,138.3 L747.0,138.3 L747.4,138.4 L747.9,138.4 L748.4,138.5 L748.9,138.5 L749.3,138.5 L749.8,138.5 L750.3,138.5 L750.7,138.5 L751.2,138.4 L751.7,138.5 L752.2,138.5 L752.6,138.5 L753.1,138.5 L753.6,138.5 L754.0,138.5 L754.5,138.4 L755.0,138.4 L755.5,138.5 L755.9,138.6 L756.4,138.6 L756.9,138.6 L757.4,138.6 L757.8,138.6 L758.3,138.6 L758.8,138.6 L759.2,138.6 L759.7,138.6 L760.2,138.6 L760.7,138.5 L761.1,138.5 L761.6,138.5 L762.1,138.5 L762.5,138.5 L763.0,138.5 L763.5,138.4 L764.0,138.4 L764.4,138.4 L764.9,138.5 L765.4,138.5 L765.8,138.5" fill="none" stroke="#B177DE" stroke-width="2.6" stroke-linejoin="round"/></g>
<g transform="scale(0.750,1)"><path d="M715.6,138.4 L716.3,138.4 L717.0,138.4 L717.6,138.4 L718.3,138.4 L719.0,138.4 L719.7,138.4 L720.4,138.4 L721.0,138.4 L721.7,138.3 L722.4,138.3 L723.1,138.3 L723.8,138.3 L724.4,138.4 L725.1,138.4 L725.8,138.4 L726.5,138.4 L727.2,138.4 L727.8,138.4 L728.5,138.4 L729.2,138.4 L729.9,138.4 L730.6,138.4 L731.2,138.5 L731.9,138.6 L732.6,138.6 L733.3,138.6 L734.0,138.5 L734.6,138.4 L735.3,138.4 L736.0,138.4 L736.7,138.3 L737.4,138.3 L738.0,138.3 L738.7,138.4 L739.4,138.4 L740.1,138.5 L740.8,138.5 L741.4,138.5 L742.1,138.5 L742.8,138.5 L743.5,138.5 L744.2,138.5 L744.8,138.5 L745.5,138.5 L746.2,138.4 L746.9,138.4 L747.6,138.3 L748.2,138.3 L748.9,138.4 L749.6,138.4 L750.3,138.4 L751.0,138.5 L751.6,138.5 L752.3,138.5 L753.0,138.3 L753.7,138.3 L754.4,138.3 L755.0,138.3 L755.7,138.4 L756.4,138.4 L757.1,138.4 L757.8,138.4 L758.4,138.5 L759.1,138.5 L759.8,138.5 L760.5,138.5 L761.2,138.5 L761.8,138.5 L762.5,138.5 L763.2,138.5 L763.9,138.5 L764.6,138.5 L765.2,138.5 L765.9,138.4 L766.6,138.4 L767.3,138.3 L768.0,138.3 L768.6,138.3 L769.3,138.3 L770.0,138.3 L770.7,138.3 L771.4,138.3 L772.0,138.3 L772.7,138.3 L773.4,138.3 L774.1,138.3 L774.8,138.3 L775.4,138.3 L776.1,138.3 L776.8,138.3 L777.5,138.3 L778.2,138.3 L778.8,138.4 L779.5,138.4 L780.2,138.3 L780.9,138.2 L781.6,138.2 L782.2,138.2 L782.9,138.2 L783.6,138.2 L784.3,138.2 L785.0,138.2 L785.6,138.2 L786.3,138.2 L787.0,138.2 L787.7,138.1 L788.4,138.1 L789.0,138.0 L789.7,138.0 L790.4,137.9 L791.1,137.8 L791.8,137.8 L792.4,137.7 L793.1,137.6 L793.8,137.4 L794.5,137.4 L795.2,137.2 L795.8,137.0 L796.5,136.8 L797.2,136.4 L797.9,136.1 L798.6,135.6 L799.2,134.7 L799.9,132.9 L800.6,129.8 L801.3,124.5 L802.0,116.5 L802.6,105.8 L803.3,94.0 L804.0,84.1 L804.7,80.4 L805.4,83.5 L806.0,90.2 L806.7,97.6 L807.4,105.2 L808.1,112.9 L808.8,120.0 L809.4,125.8 L810.1,130.0 L810.8,132.7 L811.5,134.5 L812.2,135.5 L812.8,136.2 L813.5,136.6 L814.2,137.0 L814.9,137.2 L815.6,137.4 L816.2,137.5 L816.9,137.7 L817.6,137.8 L818.3,137.8 L819.0,137.9 L819.6,137.9 L820.3,138.0 L821.0,138.0 L821.7,138.1 L822.4,138.1 L823.0,138.1 L823.7,138.1 L824.4,138.1 L825.1,138.2 L825.8,138.2 L826.4,138.3 L827.1,138.3 L827.8,138.3 L828.5,138.3 L829.2,138.3 L829.8,138.3 L830.5,138.3 L831.2,138.4 L831.9,138.4 L832.6,138.4 L833.2,138.4 L833.9,138.4 L834.6,138.4 L835.3,138.4 L836.0,138.4 L836.6,138.3 L837.3,138.3 L838.0,138.3 L838.7,138.4 L839.4,138.5 L840.0,138.5 L840.7,138.4 L841.4,138.4 L842.1,138.4 L842.8,138.5 L843.4,138.5 L844.1,138.6 L844.8,138.6 L845.5,138.6 L846.2,138.5 L846.8,138.4 L847.5,138.3 L848.2,138.4 L848.9,138.4 L849.6,138.4 L850.2,138.5 L850.9,138.4 L851.6,138.4 L852.3,138.4 L853.0,138.5 L853.6,138.5 L854.3,138.6 L855.0,138.6 L855.7,138.5 L856.4,138.5 L857.0,138.5 L857.7,138.5 L858.4,138.5 L859.1,138.6 L859.8,138.6 L860.4,138.6 L861.1,138.6 L861.8,138.6 L862.5,138.5 L863.2,138.5 L863.8,138.5 L864.5,138.6 L865.2,138.6 L865.9,138.6 L866.6,138.7 L867.2,138.7 L867.9,138.7 L868.6,138.7 L869.3,138.7 L870.0,138.7 L870.6,138.6 L871.3,138.6 L872.0,138.5 L872.7,138.5 L873.4,138.5 L874.0,138.5 L874.7,138.5 L875.4,138.5 L876.1,138.6 L876.8,138.6 L877.4,138.6 L878.1,138.6 L878.8,138.6 L879.5,138.5 L880.2,138.5 L880.8,138.5 L881.5,138.4 L882.2,138.5 L882.9,138.5 L883.6,138.6 L884.2,138.6 L884.9,138.5 L885.6,138.6 L886.3,138.5 L887.0,138.5 L887.6,138.5 L888.3,138.5 L889.0,138.5 L889.7,138.5 L890.4,138.6 L891.0,138.6 L891.7,138.6 L892.4,138.6 L893.1,138.5 L893.8,138.5 L894.4,138.5 L895.1,138.5 L895.8,138.5 L896.5,138.5 L897.2,138.4 L897.8,138.5 L898.5,138.4 L899.2,138.5 L899.9,138.5 L900.6,138.5 L901.2,138.5 L901.9,138.6 L902.6,138.6 L903.3,138.6 L904.0,138.6 L904.6,138.5 L905.3,138.5 L906.0,138.5 L906.7,138.5 L907.4,138.5 L908.0,138.6 L908.7,138.6 L909.4,138.5 L910.1,138.6 L910.8,138.6 L911.4,138.6 L912.1,138.6 L912.8,138.6 L913.5,138.6 L914.2,138.6 L914.8,138.6 L915.5,138.6 L916.2,138.6 L916.9,138.5 L917.6,138.6 L918.2,138.6 L918.9,138.6 L919.6,138.7" fill="none" stroke="#B177DE" stroke-width="2.6" stroke-linejoin="round"/></g>
<g transform="scale(0.650,1)"><path d="M58.0,79.0 L58.5,78.9 L58.9,79.0 L59.4,79.0 L59.9,79.1 L60.4,79.1 L60.8,79.1 L61.3,79.1 L61.8,79.0 L62.2,79.0 L62.7,79.0 L63.2,79.0 L63.7,79.0 L64.1,79.0 L64.6,78.9 L65.1,78.9 L65.6,78.9 L66.0,78.9 L66.5,78.9 L67.0,79.0 L67.4,79.0 L67.9,79.0 L68.4,79.0 L68.9,79.0 L69.3,79.0 L69.8,79.0 L70.3,79.0 L70.7,79.0 L71.2,79.0 L71.7,79.1 L72.2,79.1 L72.6,79.1 L73.1,79.1 L73.6,79.1 L74.0,79.0 L74.5,79.0 L75.0,79.0 L75.5,79.1 L75.9,79.1 L76.4,79.1 L76.9,79.0 L77.3,78.9 L77.8,78.9 L78.3,78.9 L78.8,79.0 L79.2,79.0 L79.7,79.0 L80.2,79.0 L80.7,79.0 L81.1,79.0 L81.6,79.0 L82.1,79.1 L82.5,79.1 L83.0,79.1 L83.5,79.1 L84.0,79.0 L84.4,78.9 L84.9,78.9 L85.4,79.0 L85.5,79.0 L85.6,79.0 L85.7,79.0 L85.8,79.1 L85.8,79.1 L85.9,79.1 L86.0,79.1 L86.2,79.1 L86.3,79.1 L86.3,79.1 L86.4,79.1 L86.5,79.0 L86.6,79.0 L86.8,78.9 L86.8,78.9 L86.9,78.9 L87.0,79.0 L87.1,79.1 L87.2,79.1 L87.3,79.1 L87.3,79.0 L87.5,79.0 L87.6,78.9 L87.7,78.9 L87.7,78.9 L87.8,79.0 L87.9,79.1 L88.0,79.1 L88.2,79.0 L88.2,79.0 L88.3,79.0 L88.4,78.9 L88.5,78.8 L88.6,78.8 L88.7,78.8 L88.8,78.9 L88.9,78.9 L89.0,78.9 L89.1,78.9 L89.1,78.9 L89.2,78.9 L89.3,78.9 L89.5,78.9 L89.6,78.8 L89.6,78.7 L89.7,78.4 L89.8,78.2 L89.9,78.0 L90.1,77.7 L90.1,77.7 L90.2,77.5 L90.3,77.1 L90.4,76.6 L90.5,76.1 L90.6,75.8 L90.6,75.4 L90.8,74.6 L90.9,74.0 L91.0,73.4 L91.0,73.3 L91.1,73.0 L91.2,72.7 L91.4,72.6 L91.5,72.7 L91.5,72.7 L91.6,72.9 L91.7,73.4 L91.8,73.9 L91.9,74.4 L92.0,74.5 L92.1,74.9 L92.2,75.5 L92.3,76.1 L92.4,76.6 L92.4,76.7 L92.5,76.9 L92.6,77.4 L92.8,77.8 L92.9,78.1 L92.9,78.1 L93.0,78.2 L93.1,78.3 L93.2,78.5 L93.4,78.7 L93.4,78.7 L93.5,78.7 L93.6,78.8 L93.7,78.9 L93.8,79.0 L93.9,79.0 L93.9,79.0 L94.1,79.0 L94.2,78.9 L94.3,78.9 L94.3,78.9 L94.4,78.9 L94.5,78.9 L94.7,78.9 L94.8,78.9 L94.8,78.9 L94.9,79.0 L95.0,79.0 L95.1,79.1 L95.2,79.1 L95.3,79.1 L95.4,79.1 L95.5,79.0 L95.6,79.0 L95.7,79.1 L95.8,79.1 L95.8,79.2 L96.0,79.1 L96.1,79.1 L96.2,79.0 L96.2,79.0 L96.3,79.0 L96.4,79.0 L96.5,78.9 L96.7,78.9 L96.7,78.9 L96.8,79.0 L96.9,79.0 L97.0,79.1 L97.1,79.1 L97.2,79.1 L97.3,79.1 L97.4,79.1 L97.5,79.1 L97.6,79.1 L97.6,79.1 L97.7,79.1 L97.8,79.0 L98.0,79.0 L98.1,79.0 L98.1,79.1 L98.2,79.1 L98.3,79.1 L98.4,79.1 L98.6,79.0 L99.1,79.0 L99.5,79.0 L100.0,79.0 L100.5,79.1 L100.9,79.1 L101.4,79.2 L101.9,79.1 L102.4,79.1 L102.8,79.1 L103.3,79.1 L103.8,79.2 L104.2,79.2 L104.7,79.2 L105.2,79.2 L105.7,79.1 L106.1,79.1 L106.6,79.1 L107.1,79.1 L107.5,79.1 L108.0,79.1 L108.5,79.1 L109.0,79.1 L109.4,79.1 L109.9,79.1 L110.4,79.1 L110.9,79.0 L111.3,79.1 L111.8,79.1 L112.3,79.1 L112.7,79.1 L113.2,79.1 L113.7,79.2 L114.2,79.2 L114.6,79.2 L115.1,79.1 L115.6,79.1 L116.0,79.0 L116.5,78.9 L117.0,79.0 L117.5,79.0 L117.9,79.0 L118.4,79.0 L118.9,79.0 L119.3,79.1 L119.8,79.1 L120.3,79.1 L120.8,79.1 L121.2,79.1 L121.7,79.1 L122.2,79.2 L122.6,79.3 L123.1,79.3 L123.6,79.2 L124.1,79.3 L124.5,79.3 L125.0,79.3 L125.5,79.3 L126.0,79.2 L126.4,79.2 L126.9,79.2 L127.4,79.2 L127.8,79.2 L128.3,79.2 L128.8,79.1 L129.3,79.1 L129.7,79.1 L130.2,79.2 L130.7,79.1 L131.1,79.2 L131.6,79.2 L132.1,79.2 L132.6,79.2 L133.0,79.2 L133.5,79.1 L134.0,79.0 L134.4,79.0 L134.9,79.0 L135.4,79.1 L135.9,79.1 L136.3,79.1 L136.8,79.1 L137.3,79.0 L137.8,79.0 L138.2,79.0 L138.7,79.1 L139.2,79.2 L139.6,79.2 L140.1,79.3 L140.6,79.3 L141.1,79.3 L141.5,79.3 L142.0,79.3 L142.5,79.2 L142.9,79.2 L143.4,79.2 L143.9,79.1 L144.4,79.1 L144.8,79.2 L145.3,79.2 L145.8,79.2 L146.2,79.1 L146.7,79.1 L147.2,79.0 L147.7,79.1 L148.1,79.1 L148.6,79.2 L149.1,79.2 L149.5,79.2 L150.0,79.2 L150.5,79.1 L151.0,79.1 L151.4,79.1 L151.9,79.1 L152.4,79.1 L152.9,79.2 L153.3,79.2 L153.8,79.2 L154.3,79.2 L154.7,79.1 L155.2,79.1 L155.7,79.1 L156.2,79.2 L156.6,79.2 L157.1,79.1 L157.6,79.2 L158.0,79.2 L158.5,79.2 L159.0,79.2 L159.5,79.1 L159.9,79.2 L160.4,79.2 L160.9,79.2 L161.3,79.2 L161.8,79.2 L162.3,79.3 L162.8,79.3 L163.2,79.3 L163.7,79.3 L164.2,79.3 L164.6,79.4 L165.1,79.4 L165.6,79.4 L166.1,79.3 L166.5,79.2 L167.0,79.1 L167.5,79.2 L168.0,79.2 L168.4,79.3 L168.9,79.3 L169.4,79.4 L169.8,79.3 L170.3,79.3 L170.8,79.3 L171.3,79.2 L171.7,79.2 L172.2,79.1 L172.7,79.1 L173.1,79.1 L173.6,79.1 L174.1,79.1 L174.6,79.1 L175.0,79.2 L175.5,79.2 L176.0,79.2 L176.4,79.2 L176.9,79.2 L177.4,79.2 L177.9,79.2 L178.3,79.2 L178.8,79.2 L179.3,79.2 L179.7,79.2 L180.2,79.3 L180.7,79.4 L181.2,79.3 L181.6,79.2 L182.1,79.1 L182.6,79.1 L183.1,79.1 L183.5,79.1 L184.0,79.1 L184.5,79.1 L184.9,79.2 L185.4,79.3 L185.9,79.3 L186.4,79.3 L186.8,79.3 L187.3,79.2 L187.8,79.2 L188.2,79.2 L188.7,79.2 L189.2,79.3 L189.7,79.2 L190.1,79.2 L190.6,79.2 L191.1,79.2 L191.5,79.2 L192.0,79.2 L192.5,79.2 L193.0,79.2 L193.4,79.2 L193.9,79.2 L194.4,79.1 L194.9,79.1 L195.3,79.1 L195.8,79.1 L196.3,79.1 L196.7,79.0 L197.2,79.0 L197.7,79.1 L198.2,79.1 L198.6,79.2 L199.1,79.1 L199.6,79.0 L200.0,78.9 L200.5,78.8 L200.7,78.8 L200.9,78.8 L201.0,78.8 L201.1,78.8 L201.2,78.8 L201.3,78.8 L201.5,78.8 L201.6,78.7 L201.7,78.7 L201.8,78.7 L201.9,78.6 L202.0,78.6 L202.2,78.7 L202.3,78.7 L202.4,78.6 L202.5,78.5 L202.6,78.5 L202.8,78.5 L202.9,78.4 L203.0,78.3 L203.1,78.2 L203.2,78.1 L203.3,78.0 L203.5,78.0 L203.6,77.9 L203.7,77.8 L203.8,77.7 L203.9,77.6 L204.1,77.5 L204.2,77.3 L204.3,77.0 L204.4,76.6 L204.5,76.1 L204.6,75.5 L204.8,74.7 L204.9,73.5 L205.0,72.1 L205.1,70.2 L205.2,67.8 L205.3,64.8 L205.5,61.3 L205.6,57.1 L205.7,52.4 L205.8,47.3 L205.9,41.9 L206.1,36.5 L206.2,31.3 L206.3,27.0 L206.4,23.6 L206.5,21.5 L206.6,20.8 L206.8,21.4 L206.9,23.2 L207.0,25.9 L207.1,29.0 L207.2,32.5 L207.4,36.4 L207.5,40.5 L207.6,44.6 L207.7,48.7 L207.8,52.7 L207.9,56.4 L208.1,59.8 L208.2,62.9 L208.3,65.7 L208.4,68.1 L208.5,70.1 L208.7,71.8 L208.8,73.1 L208.9,74.3 L209.0,75.1 L209.1,75.9 L209.2,76.4 L209.4,76.8 L209.5,77.1 L209.6,77.4 L209.7,77.5 L209.8,77.7 L210.0,77.8 L210.1,78.0 L210.2,78.1 L210.3,78.2 L210.4,78.2 L210.5,78.3 L210.7,78.3 L210.8,78.4 L210.9,78.5 L211.0,78.5 L211.1,78.6 L211.2,78.6 L211.4,78.6 L211.5,78.7 L211.6,78.7 L211.7,78.8 L211.8,78.8 L212.0,78.8 L212.1,78.8 L212.2,78.8 L212.3,78.7 L212.4,78.7 L212.5,78.7 L212.7,78.7 L212.8,78.7 L212.9,78.8 L213.0,78.8 L213.1,78.9 L213.3,78.9 L213.4,79.0 L213.5,79.0 L213.6,79.0 L213.7,79.0 L214.2,79.1 L214.7,79.1 L215.1,79.1 L215.6,79.1 L216.1,79.1 L216.6,79.1 L217.0,79.1 L217.5,79.2 L218.0,79.2 L218.4,79.2 L218.9,79.1 L219.4,79.1 L219.9,79.1 L220.3,79.2 L220.8,79.2 L221.3,79.1 L221.7,79.1 L222.2,79.1 L222.7,79.2 L223.2,79.3 L223.6,79.3 L224.1,79.3 L224.6,79.4 L225.1,79.4 L225.5,79.4 L226.0,79.3 L226.5,79.3 L226.9,79.3 L227.4,79.3 L227.9,79.3 L228.4,79.3 L228.8,79.3 L229.3,79.4 L229.8,79.4 L230.2,79.4 L230.7,79.3 L231.2,79.3 L231.7,79.3 L232.1,79.4 L232.6,79.4 L233.1,79.4 L233.5,79.4 L234.0,79.4 L234.5,79.4 L235.0,79.4 L235.4,79.3 L235.9,79.3 L236.4,79.2 L236.8,79.2 L237.3,79.3 L237.8,79.3 L238.3,79.4 L238.7,79.4 L239.2,79.4 L239.7,79.4 L240.2,79.4 L240.6,79.3 L241.1,79.4 L241.6,79.4 L242.0,79.3 L242.5,79.3 L243.0,79.3 L243.5,79.3 L243.9,79.3 L244.4,79.4 L244.9,79.4 L245.3,79.5 L245.8,79.5 L246.3,79.5 L246.8,79.5 L247.2,79.5 L247.7,79.4 L248.2,79.3 L248.6,79.3 L249.1,79.3 L249.6,79.3 L250.1,79.4 L250.5,79.4 L251.0,79.4 L251.5,79.4 L251.9,79.5 L252.4,79.5 L252.9,79.4 L253.4,79.3 L253.8,79.3 L254.3,79.3 L254.8,79.4 L255.3,79.5 L255.7,79.5 L256.2,79.5 L256.7,79.5 L257.1,79.4 L257.6,79.4 L258.1,79.3 L258.6,79.2 L259.0,79.2 L259.5,79.3 L260.0,79.4 L260.4,79.4 L260.9,79.4 L261.4,79.4 L261.9,79.4 L262.3,79.4 L262.8,79.4 L263.3,79.4 L263.7,79.5 L264.2,79.6 L264.7,79.5 L265.2,79.5 L265.6,79.4 L266.1,79.4 L266.6,79.4 L267.1,79.3 L267.5,79.4 L268.0,79.5 L268.5,79.6 L268.9,79.7 L269.4,79.6 L269.9,79.6 L270.4,79.5 L270.8,79.5 L271.3,79.5 L271.8,79.6 L272.2,79.6 L272.7,79.6 L273.2,79.5 L273.7,79.5 L274.1,79.4 L274.6,79.3 L275.1,79.2 L275.5,79.2 L276.0,79.2 L276.5,79.2 L277.0,79.3 L277.4,79.4 L277.9,79.4 L278.4,79.4 L278.8,79.4 L279.3,79.4 L279.8,79.4 L280.3,79.4 L280.7,79.4 L281.2,79.5 L281.7,79.5 L282.2,79.5 L282.6,79.5 L283.1,79.5 L283.6,79.5 L284.0,79.5 L284.5,79.5 L285.0,79.6 L285.5,79.6 L285.9,79.5 L286.4,79.4 L286.9,79.3 L287.3,79.3 L287.8,79.4 L288.3,79.4 L288.8,79.5 L289.2,79.5 L289.7,79.5 L290.0,79.4 L290.1,79.4 L290.2,79.4 L290.3,79.4 L290.4,79.5 L290.5,79.5 L290.6,79.6 L290.6,79.5 L290.7,79.4 L290.8,79.3 L291.0,79.3 L291.1,79.2 L291.1,79.2 L291.2,79.3 L291.3,79.3 L291.4,79.3 L291.6,79.3 L291.6,79.2 L291.7,79.2 L291.8,79.2 L291.9,79.3 L292.0,79.3 L292.1,79.3 L292.1,79.3 L292.3,79.2 L292.4,79.2 L292.5,79.2 L292.5,79.1 L292.6,79.2 L292.7,79.2 L292.9,79.2 L293.0,79.2 L293.0,79.1 L293.1,79.1 L293.2,79.0 L293.3,79.0 L293.4,78.9 L293.5,78.9 L293.6,78.8 L293.7,78.7 L293.8,78.5 L293.9,78.2 L293.9,78.2 L294.0,78.1 L294.1,77.8 L294.3,77.4 L294.4,76.9 L294.4,76.7 L294.5,76.4 L294.6,75.9 L294.7,75.4 L294.9,74.8 L294.9,74.6 L295.0,74.0 L295.1,73.3 L295.2,72.7 L295.3,72.0 L295.4,71.9 L295.4,71.5 L295.6,71.0 L295.7,70.7 L295.8,70.4 L295.8,70.4 L295.9,70.3 L296.0,70.4 L296.2,70.6 L296.3,70.9 L296.3,71.0 L296.4,71.3 L296.5,71.7 L296.6,72.2 L296.7,72.6 L296.8,72.7 L296.9,73.0 L297.0,73.5 L297.1,74.1 L297.2,74.6 L297.3,74.8 L297.3,75.1 L297.5,75.6 L297.6,76.1 L297.7,76.5 L297.7,76.5 L297.8,76.8 L297.9,77.2 L298.0,77.5 L298.2,77.8 L298.2,77.9 L298.3,78.1 L298.4,78.3 L298.5,78.5 L298.6,78.7 L298.7,78.7 L298.8,78.8 L298.9,78.9 L299.0,79.0 L299.1,79.0 L299.1,79.1 L299.2,79.1 L299.3,79.2 L299.5,79.2 L299.6,79.2 L299.6,79.3 L299.7,79.3 L299.8,79.3 L299.9,79.3 L300.0,79.3 L300.1,79.2 L300.2,79.2 L300.3,79.2 L300.4,79.3 L300.5,79.3 L300.6,79.4 L300.6,79.4 L300.8,79.4 L300.9,79.4 L301.0,79.4 L301.0,79.3 L301.1,79.3 L301.2,79.3 L301.3,79.3 L301.5,79.4 L301.5,79.4 L301.6,79.3 L301.7,79.3 L301.8,79.3 L301.9,79.4 L302.0,79.4 L302.1,79.4 L302.2,79.4 L302.3,79.4 L302.4,79.5 L302.4,79.5 L302.5,79.4 L302.6,79.5 L302.8,79.5 L302.9,79.5 L302.9,79.4 L303.0,79.4 L303.4,79.4 L303.9,79.5 L304.3,79.5 L304.8,79.5 L305.3,79.5 L305.7,79.5 L306.2,79.5 L306.7,79.5 L307.2,79.5 L307.6,79.5 L308.1,79.6 L308.6,79.6 L309.0,79.5 L309.5,79.5 L310.0,79.5 L310.5,79.5 L310.9,79.5 L311.4,79.5 L311.9,79.5 L312.4,79.5 L312.8,79.5 L313.3,79.6 L313.8,79.6 L314.2,79.6 L314.7,79.6 L315.2,79.6 L315.7,79.6 L316.1,79.5 L316.6,79.5 L317.1,79.4 L317.5,79.4 L318.0,79.4 L318.5,79.5 L319.0,79.5 L319.4,79.5 L319.9,79.5 L320.4,79.5 L320.8,79.5 L321.3,79.5 L321.8,79.5 L322.3,79.5 L322.7,79.6 L323.2,79.5 L323.7,79.5 L324.2,79.5 L324.6,79.4 L325.1,79.5 L325.6,79.5 L326.0,79.6 L326.5,79.6 L327.0,79.6 L327.5,79.6 L327.9,79.6 L328.4,79.6 L328.9,79.6 L329.3,79.5 L329.8,79.4 L330.3,79.2 L330.8,79.1 L331.2,78.9 L331.7,78.9 L332.2,78.9 L332.6,78.9 L333.1,78.9 L333.6,79.0 L334.1,79.2 L334.5,79.4 L335.0,79.5 L335.5,79.6 L335.9,79.6 L336.4,79.6 L336.9,79.6 L337.4,79.6 L337.8,79.6 L338.3,79.6 L338.8,79.6 L339.3,79.6 L339.7,79.6 L340.2,79.6 L340.7,79.6 L341.1,79.6 L341.6,79.6 L342.1,79.6 L342.6,79.6 L343.0,79.5 L343.5,79.4 L344.0,79.4 L344.4,79.5 L344.9,79.6 L345.4,79.6 L345.9,79.6 L346.3,79.6 L346.8,79.6 L347.3,79.6 L347.7,79.6 L348.2,79.6 L348.7,79.6 L349.2,79.6 L349.6,79.6 L350.1,79.6 L350.6,79.6 L351.0,79.6 L351.5,79.7 L352.0,79.7 L352.5,79.6 L352.9,79.6 L353.4,79.5 L353.9,79.5 L354.4,79.6 L354.8,79.6 L355.3,79.6 L355.8,79.6 L356.2,79.6 L356.7,79.7 L357.2,79.7 L357.7,79.7 L358.1,79.6 L358.6,79.5 L359.1,79.5 L359.5,79.5 L360.0,79.5 L360.5,79.5 L361.0,79.5 L361.4,79.6 L361.9,79.7 L362.4,79.7 L362.8,79.6 L363.3,79.5 L363.8,79.4 L364.3,79.4 L364.7,79.4 L365.2,79.4 L365.7,79.4 L366.1,79.3 L366.6,79.3 L367.1,79.4 L367.4,79.4 L367.5,79.4 L367.6,79.4 L367.6,79.3 L367.8,79.3 L367.9,79.3 L368.0,79.3 L368.0,79.4 L368.1,79.4 L368.2,79.3 L368.4,79.3 L368.5,79.2 L368.5,79.2 L368.6,79.2 L368.7,79.2 L368.8,79.2 L368.9,79.1 L369.0,79.1 L369.1,79.1 L369.2,79.1 L369.3,79.1 L369.4,79.0 L369.5,79.0 L369.5,78.9 L369.7,78.9 L369.8,78.8 L369.9,78.8 L369.9,78.7 L370.0,78.6 L370.1,78.5 L370.2,78.3 L370.4,78.2 L370.4,78.2 L370.5,78.1 L370.6,77.9 L370.7,77.6 L370.8,77.4 L370.9,77.3 L371.0,77.0 L371.1,76.5 L371.2,76.0 L371.3,75.4 L371.3,75.2 L371.4,74.8 L371.5,74.0 L371.7,73.3 L371.8,72.4 L371.8,72.1 L371.9,71.3 L372.0,70.3 L372.1,69.2 L372.2,68.1 L372.3,67.7 L372.4,66.8 L372.5,65.7 L372.6,64.7 L372.7,63.8 L372.8,63.5 L372.8,62.9 L373.0,62.2 L373.1,61.8 L373.2,61.6 L373.2,61.5 L373.3,61.5 L373.4,61.6 L373.5,61.9 L373.7,62.3 L373.7,62.4 L373.8,62.8 L373.9,63.4 L374.0,64.1 L374.1,64.9 L374.2,65.1 L374.3,65.6 L374.4,66.4 L374.5,67.2 L374.6,68.0 L374.6,68.3 L374.7,68.9 L374.8,69.8 L375.0,70.6 L375.1,71.4 L375.1,71.7 L375.2,72.2 L375.3,73.0 L375.4,73.7 L375.6,74.3 L375.6,74.5 L375.7,74.9 L375.8,75.5 L375.9,75.9 L376.0,76.3 L376.1,76.4 L376.1,76.7 L376.3,77.1 L376.4,77.4 L376.5,77.8 L376.5,77.8 L376.6,78.0 L376.7,78.1 L376.8,78.3 L377.0,78.5 L377.0,78.5 L377.1,78.6 L377.2,78.7 L377.3,78.8 L377.4,78.9 L377.5,79.0 L377.6,78.9 L377.7,78.9 L377.8,78.9 L377.9,79.0 L377.9,79.0 L378.0,79.1 L378.1,79.1 L378.3,79.2 L378.4,79.2 L378.4,79.2 L378.5,79.2 L378.6,79.3 L378.7,79.3 L378.9,79.3 L378.9,79.3 L379.0,79.3 L379.1,79.3 L379.2,79.4 L379.3,79.4 L379.4,79.4 L379.4,79.4 L379.6,79.3 L379.7,79.3 L379.8,79.3 L379.8,79.3 L379.9,79.2 L380.0,79.2 L380.2,79.2 L380.3,79.2 L380.3,79.3 L380.4,79.3 L380.8,79.4 L381.2,79.4 L381.7,79.4 L382.2,79.3 L382.7,79.3 L383.1,79.3 L383.6,79.4 L384.1,79.4 L384.6,79.5 L385.0,79.4 L385.5,79.4 L386.0,79.4 L386.4,79.5 L386.9,79.4 L387.4,79.5 L387.9,79.5 L388.3,79.6 L388.8,79.6 L389.3,79.5 L389.7,79.5 L390.2,79.5 L390.7,79.5 L391.2,79.6 L391.6,79.6 L392.1,79.6 L392.6,79.7 L393.0,79.6 L393.5,79.6 L394.0,79.5 L394.5,79.4 L394.9,79.4 L395.4,79.5 L395.9,79.5 L396.4,79.6 L396.8,79.6 L397.3,79.6 L397.8,79.5 L398.2,79.5 L398.7,79.5 L399.2,79.5 L399.7,79.5 L400.1,79.6 L400.6,79.6 L401.1,79.6 L401.5,79.6 L402.0,79.5 L402.5,79.5 L403.0,79.5 L403.4,79.5 L403.9,79.6 L404.4,79.6 L404.8,79.6 L405.3,79.5 L405.8,79.5 L406.3,79.5 L406.7,79.6 L407.2,79.6 L407.7,79.5 L408.1,79.5 L408.6,79.6 L409.1,79.6 L409.6,79.6 L410.0,79.6 L410.5,79.6 L411.0,79.5 L411.5,79.5 L411.9,79.4 L412.4,79.4 L412.9,79.5 L413.3,79.5 L413.8,79.5 L414.3,79.6 L414.8,79.6 L415.2,79.6 L415.7,79.6 L416.2,79.5 L416.6,79.5 L417.1,79.5 L417.6,79.5 L418.1,79.6 L418.5,79.7 L419.0,79.7 L419.5,79.6 L419.9,79.6 L420.4,79.5 L420.9,79.5 L421.4,79.5 L421.8,79.6 L422.3,79.7 L422.8,79.7 L423.2,79.7 L423.7,79.6 L424.2,79.6 L424.7,79.6 L425.1,79.5 L425.6,79.4 L426.1,79.3 L426.6,79.3 L427.0,79.4 L427.5,79.4 L428.0,79.4 L428.4,79.4 L428.9,79.4 L429.4,79.5 L429.9,79.6 L430.3,79.6 L430.8,79.6 L431.3,79.5 L431.7,79.5 L432.2,79.5 L432.7,79.5 L433.2,79.5 L433.6,79.5 L434.1,79.4 L434.6,79.4 L435.0,79.4 L435.5,79.4 L436.0,79.5 L436.3,79.5 L436.4,79.6 L436.5,79.5 L436.5,79.5 L436.7,79.5 L436.8,79.4 L436.9,79.3 L436.9,79.3 L437.0,79.3 L437.1,79.4 L437.3,79.4 L437.4,79.4 L437.4,79.5 L437.5,79.5 L437.6,79.6 L437.7,79.5 L437.8,79.4 L437.9,79.4 L438.0,79.4 L438.1,79.5 L438.2,79.4 L438.3,79.3 L438.3,79.3 L438.4,79.3 L438.5,79.4 L438.7,79.4 L438.8,79.5 L438.8,79.5 L438.9,79.5 L439.0,79.4 L439.1,79.4 L439.3,79.4 L439.3,79.5 L439.4,79.5 L439.5,79.4 L439.6,79.3 L439.7,79.2 L439.8,79.2 L439.8,79.2 L440.0,79.2 L440.1,79.2 L440.2,79.1 L440.2,79.1 L440.3,79.1 L440.4,79.0 L440.6,78.9 L440.7,78.8 L440.7,78.8 L440.8,78.8 L440.9,78.7 L441.0,78.7 L441.1,78.6 L441.2,78.6 L441.3,78.5 L441.4,78.4 L441.5,78.4 L441.6,78.3 L441.7,78.4 L441.7,78.4 L441.9,78.3 L442.0,78.3 L442.1,78.2 L442.1,78.2 L442.2,78.2 L442.3,78.2 L442.4,78.2 L442.6,78.2 L442.6,78.2 L442.7,78.2 L442.8,78.3 L442.9,78.3 L443.0,78.3 L443.1,78.4 L443.2,78.4 L443.3,78.5 L443.4,78.5 L443.5,78.6 L443.5,78.5 L443.6,78.6 L443.7,78.6 L443.9,78.6 L444.0,78.7 L444.0,78.7 L444.1,78.8 L444.2,78.9 L444.3,78.9 L444.4,79.0 L444.5,79.0 L444.6,79.1 L444.7,79.2 L444.8,79.3 L444.9,79.3 L445.0,79.3 L445.0,79.3 L445.2,79.3 L445.3,79.3 L445.4,79.4 L445.4,79.4 L445.5,79.4 L445.6,79.4 L445.7,79.4 L445.9,79.3 L445.9,79.3 L446.0,79.3 L446.1,79.3 L446.2,79.3 L446.3,79.3 L446.4,79.4 L446.5,79.5 L446.6,79.5 L446.7,79.6 L446.8,79.5 L446.8,79.4 L446.9,79.4 L447.0,79.5 L447.2,79.5 L447.3,79.5 L447.3,79.5 L447.4,79.5 L447.5,79.5 L447.6,79.4 L447.8,79.4 L447.8,79.4 L447.9,79.4 L448.0,79.4 L448.1,79.4 L448.2,79.4 L448.3,79.4 L448.3,79.4 L448.5,79.5 L448.6,79.5 L448.7,79.6 L448.7,79.6 L448.8,79.6 L448.9,79.5 L449.0,79.4 L449.2,79.4 L449.2,79.4 L449.3,79.4 L449.7,79.5 L450.1,79.5 L450.6,79.5 L451.1,79.5 L451.6,79.4 L452.0,79.3 L452.5,79.3 L453.0,79.4 L453.5,79.4 L453.9,79.4 L454.4,79.4 L454.9,79.4 L455.3,79.5 L455.8,79.4 L456.3,79.5 L456.8,79.5 L457.2,79.4 L457.7,79.3 L458.2,79.3 L458.6,79.4 L459.1,79.4 L459.6,79.5 L460.1,79.4 L460.5,79.5 L461.0,79.5 L461.5,79.5 L461.9,79.5 L462.4,79.5 L462.9,79.5 L463.4,79.5 L463.8,79.5 L464.3,79.5 L464.8,79.5 L465.2,79.5 L465.7,79.5 L466.2,79.4 L466.7,79.4 L467.1,79.4 L467.6,79.4 L468.1,79.4 L468.6,79.4 L469.0,79.4 L469.5,79.5 L470.0,79.5 L470.4,79.5 L470.9,79.6 L471.4,79.6 L471.9,79.6 L472.3,79.5 L472.8,79.5 L473.3,79.4 L473.7,79.4 L474.2,79.5 L474.7,79.6 L475.2,79.6 L475.6,79.6 L476.1,79.6 L476.6,79.6 L477.0,79.5 L477.5,79.5 L478.0,79.4 L478.5,79.4 L478.9,79.4 L479.4,79.3 L479.9,79.3 L480.3,79.3 L480.8,79.4 L481.3,79.4 L481.8,79.5 L482.2,79.5 L482.7,79.4 L483.2,79.4 L483.7,79.4 L484.1,79.4 L484.6,79.5 L485.1,79.5 L485.5,79.4 L486.0,79.4 L486.5,79.4 L487.0,79.4 L487.4,79.4 L487.9,79.4 L488.4,79.4 L488.8,79.4 L489.3,79.4 L489.8,79.4 L490.3,79.3 L490.7,79.4 L491.2,79.4 L491.7,79.4 L492.1,79.3 L492.6,79.3 L493.1,79.3 L493.6,79.4 L494.0,79.4 L494.5,79.4 L495.0,79.4 L495.4,79.4 L495.9,79.4 L496.4,79.5 L496.9,79.4 L497.3,79.4 L497.8,79.4 L498.3,79.4 L498.8,79.4 L499.2,79.3 L499.7,79.2 L500.2,79.2 L500.6,79.1 L501.1,79.2 L501.6,79.2 L502.1,79.2 L502.1,79.3 L502.3,79.2 L502.4,79.3 L502.5,79.2 L502.5,79.3 L502.6,79.3 L502.7,79.3 L502.8,79.2 L503.0,79.1 L503.0,79.1 L503.1,79.1 L503.2,79.1 L503.3,79.1 L503.4,79.0 L503.5,79.0 L503.6,79.0 L503.7,79.0 L503.8,79.0 L503.9,78.9 L503.9,78.9 L504.0,78.8 L504.1,78.7 L504.3,78.7 L504.4,78.6 L504.4,78.7 L504.5,78.6 L504.6,78.5 L504.7,78.4 L504.9,78.2 L504.9,78.3 L505.0,78.2 L505.1,78.1 L505.2,77.9 L505.3,77.6 L505.4,77.4 L505.4,77.2 L505.6,77.0 L505.7,76.7 L505.8,76.5 L505.8,76.4 L505.9,76.1 L506.0,75.7 L506.1,75.3 L506.3,74.9 L506.3,74.8 L506.4,74.4 L506.5,74.0 L506.6,73.5 L506.7,73.0 L506.8,72.8 L506.9,72.4 L507.0,71.9 L507.1,71.5 L507.2,71.1 L507.2,71.0 L507.3,70.8 L507.4,70.5 L507.6,70.2 L507.7,69.9 L507.7,69.8 L507.8,69.7 L507.9,69.6 L508.0,69.5 L508.2,69.5 L508.2,69.5 L508.3,69.7 L508.4,69.9 L508.5,70.1 L508.6,70.2 L508.7,70.3 L508.7,70.5 L508.9,70.8 L509.0,71.1 L509.1,71.5 L509.1,71.6 L509.2,71.7 L509.3,72.0 L509.5,72.3 L509.6,72.7 L509.6,72.8 L509.7,73.1 L509.8,73.5 L509.9,73.9 L510.0,74.2 L510.1,74.3 L510.2,74.5 L510.3,74.9 L510.4,75.2 L510.5,75.5 L510.5,75.6 L510.6,75.9 L510.8,76.2 L510.9,76.5 L511.0,76.9 L511.0,77.0 L511.1,77.2 L511.2,77.3 L511.3,77.5 L511.5,77.6 L511.5,77.7 L511.6,77.8 L511.7,78.0 L511.8,78.2 L511.9,78.3 L512.0,78.3 L512.0,78.4 L512.2,78.6 L512.3,78.7 L512.4,78.7 L512.4,78.7 L512.5,78.7 L512.6,78.7 L512.8,78.9 L512.9,78.9 L512.9,79.0 L513.0,79.0 L513.1,79.1 L513.2,79.2 L513.3,79.2 L513.4,79.2 L513.5,79.2 L513.6,79.2 L513.7,79.2 L513.8,79.2 L513.9,79.2 L513.9,79.2 L514.1,79.2 L514.2,79.2 L514.3,79.2 L514.3,79.2 L514.4,79.2 L514.5,79.2 L514.6,79.2 L514.8,79.2 L514.8,79.2 L514.9,79.2 L515.0,79.3 L515.1,79.3 L515.3,79.3 L515.7,79.3 L516.2,79.3 L516.7,79.3 L517.2,79.3 L517.6,79.3 L518.1,79.3 L518.6,79.3 L519.0,79.3 L519.5,79.3 L520.0,79.4 L520.5,79.3 L520.9,79.3 L521.4,79.3 L521.9,79.3 L522.3,79.4 L522.8,79.4 L523.3,79.4 L523.8,79.4 L524.2,79.4 L524.7,79.4 L525.2,79.4 L525.7,79.4 L526.1,79.4 L526.6,79.4 L527.1,79.4 L527.5,79.3 L528.0,79.3 L528.5,79.3 L529.0,79.3 L529.4,79.4 L529.9,79.4 L530.4,79.3 L530.8,79.3 L531.3,79.3 L531.8,79.3 L532.3,79.3 L532.7,79.4 L533.2,79.4 L533.7,79.4 L534.1,79.4 L534.6,79.4 L535.1,79.4 L535.6,79.3 L536.0,79.3 L536.5,79.3 L537.0,79.3 L537.4,79.3 L537.9,79.3 L538.4,79.3 L538.9,79.4 L539.3,79.5 L539.8,79.5 L540.3,79.5 L540.8,79.4 L541.2,79.3 L541.7,79.3 L542.2,79.3 L542.6,79.3 L543.1,79.3 L543.6,79.3 L544.1,79.3 L544.5,79.4 L545.0,79.4 L545.5,79.4 L545.9,79.4 L546.4,79.4 L546.9,79.4 L547.4,79.4 L547.8,79.4 L548.3,79.4 L548.8,79.4 L549.2,79.4 L549.7,79.4 L550.2,79.4 L550.7,79.4 L551.1,79.4 L551.6,79.4 L552.1,79.4 L552.5,79.4 L553.0,79.4 L553.5,79.3 L554.0,79.3 L554.4,79.4 L554.9,79.4 L555.4,79.4 L555.9,79.4 L556.3,79.4 L556.8,79.4 L557.3,79.4 L557.7,79.4 L558.2,79.5 L558.7,79.5 L559.2,79.5 L559.6,79.5 L560.1,79.5 L560.6,79.5 L561.0,79.5 L561.5,79.4 L562.0,79.5 L562.5,79.5 L562.9,79.5 L563.4,79.4 L563.9,79.4 L564.3,79.4 L564.8,79.4 L565.3,79.5 L565.8,79.5 L566.2,79.4 L566.7,79.4 L567.2,79.4 L567.6,79.4 L568.1,79.4 L568.6,79.4 L569.1,79.4 L569.5,79.3 L570.0,79.2 L570.5,79.2 L571.0,79.3 L571.4,79.4 L571.9,79.5 L572.4,79.5 L572.8,79.4 L573.3,79.4 L573.8,79.4 L574.3,79.4 L574.7,79.3 L575.2,79.3 L575.7,79.3 L576.1,79.3 L576.6,79.3 L577.1,79.4 L577.6,79.4 L578.0,79.4 L578.5,79.4 L579.0,79.3 L579.4,79.2 L579.9,79.2 L580.4,79.2 L580.9,79.3 L581.3,79.3 L581.8,79.3 L582.3,79.3 L582.7,79.3 L583.2,79.3 L583.7,79.4 L584.2,79.4 L584.6,79.4 L585.1,79.4 L585.6,79.4 L586.1,79.4 L586.5,79.3 L587.0,79.3 L587.5,79.3 L587.9,79.4 L588.4,79.5 L588.9,79.5 L589.4,79.4 L589.8,79.3 L590.3,79.2 L590.8,79.2 L591.2,79.2 L591.7,79.3 L592.2,79.3 L592.7,79.4 L593.1,79.4 L593.6,79.4 L594.1,79.4 L594.5,79.3 L595.0,79.3 L595.5,79.3 L596.0,79.3 L596.4,79.3 L596.9,79.3 L597.4,79.4 L597.9,79.4 L598.3,79.4 L598.8,79.4 L599.3,79.4 L599.7,79.4 L600.2,79.4 L600.7,79.4 L601.2,79.4 L601.6,79.4 L602.1,79.3 L602.6,79.3 L603.0,79.3 L603.5,79.4 L604.0,79.4 L604.5,79.4 L604.9,79.4 L605.4,79.4 L605.9,79.4 L606.3,79.4 L606.8,79.4 L607.3,79.3 L607.8,79.3 L608.2,79.3 L608.7,79.3 L609.2,79.4 L609.6,79.4 L610.1,79.4 L610.6,79.4 L611.1,79.3 L611.5,79.4 L612.0,79.4 L612.5,79.4 L613.0,79.4 L613.4,79.3 L613.9,79.2 L614.4,79.2 L614.8,79.2 L615.3,79.3 L615.8,79.3 L616.3,79.3 L616.7,79.3 L617.2,79.3 L617.7,79.3 L618.1,79.3 L618.6,79.3 L619.1,79.3 L619.6,79.3 L620.0,79.3 L620.5,79.3 L621.0,79.2 L621.4,79.2 L621.9,79.2 L622.4,79.1 L622.9,79.1 L623.3,79.1 L623.8,79.2 L624.3,79.2 L624.7,79.2 L625.2,79.0 L625.7,78.8 L626.2,78.5 L626.6,78.1 L627.1,77.7 L627.6,77.2 L628.1,76.8 L628.5,76.6 L629.0,76.5 L629.5,76.7 L629.9,77.0 L630.4,77.2 L630.9,77.6 L631.4,77.9 L631.8,78.2 L632.3,78.4 L632.8,78.7 L633.2,78.9 L633.7,79.1 L634.2,79.1 L634.7,79.1 L635.1,79.1 L635.6,79.2 L636.1,79.2 L636.5,79.3 L637.0,79.3 L637.5,79.3 L638.0,79.3 L638.4,79.3 L638.9,79.3 L639.4,79.3 L639.8,79.3 L640.3,79.3 L640.8,79.3 L641.3,79.2 L641.7,79.2 L642.2,79.2 L642.7,79.3 L643.2,79.3 L643.6,79.4 L644.1,79.4 L644.6,79.4 L645.0,79.4 L645.5,79.4 L646.0,79.4 L646.5,79.4 L646.9,79.4 L647.4,79.3 L647.9,79.3 L648.3,79.3 L648.8,79.2 L649.3,79.2 L649.8,79.3 L650.2,79.4 L650.7,79.4 L651.2,79.3 L651.6,79.3 L652.1,79.2 L652.6,79.2 L653.1,79.3 L653.5,79.3 L654.0,79.3 L654.5,79.2 L655.0,79.3 L655.4,79.2 L655.9,79.2 L656.4,79.2 L656.8,79.2 L657.3,79.3 L657.8,79.3 L658.3,79.3 L658.7,79.3 L659.2,79.3 L659.7,79.3 L660.1,79.4 L660.6,79.4 L661.1,79.4 L661.6,79.3 L662.0,79.3 L662.5,79.2 L663.0,79.3 L663.4,79.4 L663.9,79.4 L664.4,79.3 L664.9,79.2 L665.3,79.1 L665.8,79.1 L666.3,79.2 L666.7,79.3 L667.2,79.4 L667.7,79.4 L668.2,79.3 L668.6,79.3 L669.1,79.3 L669.6,79.3 L670.1,79.3 L670.5,79.3 L671.0,79.3 L671.5,79.3 L671.9,79.4 L672.4,79.3 L672.9,79.3 L673.4,79.3 L673.8,79.2 L674.3,79.2 L674.8,79.2 L675.2,79.3 L675.7,79.4 L676.2,79.4 L676.7,79.4 L677.1,79.3 L677.6,79.3 L678.1,79.2 L678.5,79.2 L679.0,79.3 L679.5,79.3 L680.0,79.3 L680.4,79.3 L680.9,79.3 L681.4,79.4 L681.8,79.4 L682.3,79.4 L682.8,79.3 L683.3,79.3 L683.7,79.3 L684.2,79.3 L684.7,79.3 L685.2,79.2 L685.6,79.2 L686.1,79.2 L686.6,79.2 L687.0,79.3 L687.5,79.3 L688.0,79.3 L688.5,79.3 L688.9,79.3 L689.4,79.3 L689.9,79.3 L690.3,79.3 L690.8,79.2 L691.3,79.2 L691.8,79.3 L692.2,79.4 L692.7,79.4 L693.2,79.4 L693.6,79.4 L694.1,79.4 L694.6,79.4 L695.1,79.3 L695.5,79.3 L696.0,79.4 L696.5,79.4 L696.9,79.4 L697.4,79.4 L697.9,79.3 L698.4,79.3 L698.8,79.2 L699.3,79.2 L699.8,79.2 L700.3,79.2 L700.7,79.1 L701.2,79.1 L701.7,79.1 L702.1,79.2 L702.6,79.2 L703.1,79.1 L703.6,79.2 L704.0,79.2 L704.5,79.2 L705.0,79.2 L705.4,79.3 L705.9,79.3 L706.4,79.3 L706.9,79.2 L707.3,79.2 L707.8,79.3 L708.3,79.3 L708.7,79.2 L709.2,79.2 L709.7,79.2 L710.2,79.2 L710.6,79.1 L711.1,79.2 L711.6,79.1 L712.0,79.2 L712.5,79.2 L713.0,79.3 L713.5,79.3 L713.9,79.2 L714.4,79.2 L714.9,79.1 L715.4,79.1 L715.8,79.1 L716.3,79.2 L716.8,79.3 L717.2,79.3 L717.7,79.3 L718.2,79.4 L718.7,79.3 L719.1,79.2 L719.6,79.2 L720.1,79.2 L720.5,79.3 L721.0,79.3 L721.5,79.3 L722.0,79.3 L722.4,79.3 L722.9,79.3 L723.4,79.3 L723.8,79.3 L724.3,79.2 L724.8,79.2 L725.3,79.2 L725.7,79.2 L726.2,79.2 L726.7,79.2 L727.2,79.2 L727.6,79.3 L728.1,79.3 L728.6,79.4 L729.0,79.4 L729.5,79.3 L730.0,79.2 L730.5,79.2 L730.9,79.1 L731.4,79.1 L731.9,79.1 L732.3,79.1 L732.8,79.1 L733.3,79.1 L733.8,79.1 L734.2,79.1 L734.7,79.0 L735.2,78.9 L735.6,78.8 L736.1,78.5 L736.6,78.1 L737.1,77.7 L737.5,77.5 L738.0,77.3 L738.5,77.2 L738.9,77.1 L739.4,77.2 L739.9,77.3 L740.4,77.6 L740.8,77.8 L741.3,78.0 L741.8,78.2 L742.3,78.4 L742.7,78.6 L743.2,78.8 L743.7,78.8 L744.1,78.9 L744.6,78.9 L745.1,79.0 L745.6,79.1 L746.0,79.1 L746.5,79.1 L747.0,79.1 L747.4,79.1 L747.9,79.1 L748.4,79.1 L748.9,79.2 L749.3,79.2 L749.8,79.3 L750.3,79.3 L750.7,79.2 L751.2,79.2 L751.7,79.2 L752.2,79.1 L752.6,79.2 L753.1,79.1 L753.6,79.1 L754.0,79.1 L754.5,79.1 L755.0,79.1 L755.5,79.2 L755.9,79.3 L756.4,79.3 L756.9,79.2 L757.4,79.1 L757.8,79.1 L758.3,79.1 L758.8,79.1 L759.2,79.1 L759.7,79.1 L760.2,79.1 L760.7,79.2 L761.1,79.2 L761.6,79.2 L762.1,79.2 L762.5,79.2 L763.0,79.2 L763.5,79.2 L764.0,79.2 L764.4,79.1 L764.9,79.1 L765.4,79.1 L765.8,79.2" fill="none" stroke="#CC9900" stroke-width="2.6" stroke-linejoin="round"/></g>
<g transform="scale(0.750,1)"><path d="M715.6,79.3 L716.3,79.3 L717.0,79.3 L717.6,79.3 L718.3,79.2 L719.0,79.2 L719.7,79.2 L720.4,79.2 L721.0,79.2 L721.7,79.2 L722.4,79.2 L723.1,79.2 L723.8,79.3 L724.4,79.4 L725.1,79.4 L725.8,79.4 L726.5,79.4 L727.2,79.3 L727.8,79.3 L728.5,79.2 L729.2,79.2 L729.9,79.2 L730.6,79.2 L731.2,79.2 L731.9,79.2 L732.6,79.2 L733.3,79.2 L734.0,79.2 L734.6,79.2 L735.3,79.3 L736.0,79.3 L736.7,79.4 L737.4,79.3 L738.0,79.3 L738.7,79.3 L739.4,79.2 L740.1,79.3 L740.8,79.3 L741.4,79.3 L742.1,79.3 L742.8,79.3 L743.5,79.3 L744.2,79.3 L744.8,79.3 L745.5,79.2 L746.2,79.2 L746.9,79.1 L747.6,79.1 L748.2,79.1 L748.9,79.2 L749.6,79.3 L750.3,79.3 L751.0,79.3 L751.6,79.3 L752.3,79.3 L753.0,79.2 L753.7,79.3 L754.4,79.3 L755.0,79.3 L755.7,79.2 L756.4,79.3 L757.1,79.3 L757.8,79.3 L758.4,79.3 L759.1,79.2 L759.8,79.2 L760.5,79.2 L761.2,79.3 L761.8,79.3 L762.5,79.4 L763.2,79.4 L763.9,79.4 L764.6,79.4 L765.2,79.3 L765.9,79.2 L766.6,79.2 L767.3,79.2 L768.0,79.3 L768.6,79.2 L769.3,79.1 L770.0,79.1 L770.7,79.2 L771.4,79.2 L772.0,79.2 L772.7,79.3 L773.4,79.3 L774.1,79.3 L774.8,79.2 L775.4,79.1 L776.1,79.1 L776.8,79.1 L777.5,79.1 L778.2,79.2 L778.8,79.2 L779.5,79.1 L780.2,79.1 L780.9,79.1 L781.6,79.1 L782.2,79.1 L782.9,79.1 L783.6,79.0 L784.3,79.0 L785.0,78.9 L785.6,78.9 L786.3,78.8 L787.0,78.8 L787.7,78.8 L788.4,78.8 L789.0,78.8 L789.7,78.8 L790.4,78.8 L791.1,78.8 L791.8,78.6 L792.4,78.5 L793.1,78.4 L793.8,78.3 L794.5,78.1 L795.2,78.0 L795.8,77.7 L796.5,77.4 L797.2,76.9 L797.9,76.1 L798.6,74.6 L799.2,72.1 L799.9,67.8 L800.6,61.3 L801.3,52.5 L802.0,41.9 L802.6,31.4 L803.3,23.5 L804.0,20.8 L804.7,23.3 L805.4,29.1 L806.0,36.4 L806.7,44.5 L807.4,52.5 L808.1,59.8 L808.8,65.7 L809.4,70.1 L810.1,73.2 L810.8,75.2 L811.5,76.5 L812.2,77.2 L812.8,77.6 L813.5,77.9 L814.2,78.1 L814.9,78.3 L815.6,78.4 L816.2,78.5 L816.9,78.6 L817.6,78.7 L818.3,78.7 L819.0,78.8 L819.6,78.8 L820.3,78.8 L821.0,78.9 L821.7,79.0 L822.4,79.0 L823.0,79.0 L823.7,79.1 L824.4,79.1 L825.1,79.2 L825.8,79.2 L826.4,79.2 L827.1,79.2 L827.8,79.2 L828.5,79.2 L829.2,79.1 L829.8,79.1 L830.5,79.1 L831.2,79.2 L831.9,79.2 L832.6,79.2 L833.2,79.2 L833.9,79.3 L834.6,79.3 L835.3,79.3 L836.0,79.2 L836.6,79.2 L837.3,79.2 L838.0,79.3 L838.7,79.3 L839.4,79.3 L840.0,79.3 L840.7,79.3 L841.4,79.3 L842.1,79.3 L842.8,79.3 L843.4,79.2 L844.1,79.2 L844.8,79.2 L845.5,79.1 L846.2,79.1 L846.8,79.2 L847.5,79.3 L848.2,79.4 L848.9,79.4 L849.6,79.3 L850.2,79.3 L850.9,79.3 L851.6,79.3 L852.3,79.4 L853.0,79.4 L853.6,79.4 L854.3,79.3 L855.0,79.3 L855.7,79.3 L856.4,79.4 L857.0,79.3 L857.7,79.3 L858.4,79.3 L859.1,79.3 L859.8,79.3 L860.4,79.3 L861.1,79.3 L861.8,79.3 L862.5,79.3 L863.2,79.3 L863.8,79.4 L864.5,79.4 L865.2,79.4 L865.9,79.4 L866.6,79.4 L867.2,79.4 L867.9,79.4 L868.6,79.3 L869.3,79.3 L870.0,79.3 L870.6,79.3 L871.3,79.3 L872.0,79.3 L872.7,79.4 L873.4,79.3 L874.0,79.3 L874.7,79.3 L875.4,79.3 L876.1,79.3 L876.8,79.3 L877.4,79.3 L878.1,79.3 L878.8,79.3 L879.5,79.4 L880.2,79.4 L880.8,79.4 L881.5,79.4 L882.2,79.4 L882.9,79.4 L883.6,79.4 L884.2,79.4 L884.9,79.5 L885.6,79.4 L886.3,79.4 L887.0,79.4 L887.6,79.4 L888.3,79.4 L889.0,79.3 L889.7,79.4 L890.4,79.4 L891.0,79.4 L891.7,79.4 L892.4,79.4 L893.1,79.4 L893.8,79.3 L894.4,79.3 L895.1,79.3 L895.8,79.3 L896.5,79.4 L897.2,79.4 L897.8,79.4 L898.5,79.5 L899.2,79.5 L899.9,79.4 L900.6,79.4 L901.2,79.4 L901.9,79.4 L902.6,79.4 L903.3,79.4 L904.0,79.4 L904.6,79.4 L905.3,79.4 L906.0,79.3 L906.7,79.3 L907.4,79.4 L908.0,79.4 L908.7,79.4 L909.4,79.3 L910.1,79.3 L910.8,79.3 L911.4,79.3 L912.1,79.4 L912.8,79.3 L913.5,79.3 L914.2,79.3 L914.8,79.3 L915.5,79.4 L916.2,79.4 L916.9,79.4 L917.6,79.4 L918.2,79.4 L918.9,79.3 L919.6,79.3" fill="none" stroke="#CC9900" stroke-width="2.6" stroke-linejoin="round"/></g>
<line x1="601.5" y1="6.2" x2="601.5" y2="448.6" stroke="#000" stroke-width="1.1"/>
<rect x="37.7" y="6.2" width="460.1" height="442.4" fill="none" stroke="#000" stroke-width="1.9"/>
<rect x="536.7" y="6.2" width="153.0" height="442.4" fill="none" stroke="#000" stroke-width="1.9"/>
<line x1="37.7" y1="448.6" x2="37.7" y2="456.4" stroke="#000" stroke-width="1.9"/>
<line x1="76.0" y1="448.6" x2="76.0" y2="452.9" stroke="#000" stroke-width="1.9"/>
<line x1="114.4" y1="448.6" x2="114.4" y2="456.4" stroke="#000" stroke-width="1.9"/>
<line x1="152.7" y1="448.6" x2="152.7" y2="452.9" stroke="#000" stroke-width="1.9"/>
<line x1="191.1" y1="448.6" x2="191.1" y2="456.4" stroke="#000" stroke-width="1.9"/>
<line x1="229.4" y1="448.6" x2="229.4" y2="452.9" stroke="#000" stroke-width="1.9"/>
<line x1="267.8" y1="448.6" x2="267.8" y2="456.4" stroke="#000" stroke-width="1.9"/>
<line x1="306.1" y1="448.6" x2="306.1" y2="452.9" stroke="#000" stroke-width="1.9"/>
<line x1="344.4" y1="448.6" x2="344.4" y2="456.4" stroke="#000" stroke-width="1.9"/>
<line x1="382.8" y1="448.6" x2="382.8" y2="452.9" stroke="#000" stroke-width="1.9"/>
<line x1="421.1" y1="448.6" x2="421.1" y2="456.4" stroke="#000" stroke-width="1.9"/>
<line x1="459.5" y1="448.6" x2="459.5" y2="452.9" stroke="#000" stroke-width="1.9"/>
<line x1="497.8" y1="448.6" x2="497.8" y2="456.4" stroke="#000" stroke-width="1.9"/>
<line x1="536.7" y1="448.6" x2="536.7" y2="456.4" stroke="#000" stroke-width="1.9"/>
<line x1="562.2" y1="448.6" x2="562.2" y2="452.9" stroke="#000" stroke-width="1.9"/>
<line x1="587.7" y1="448.6" x2="587.7" y2="456.4" stroke="#000" stroke-width="1.9"/>
<line x1="613.2" y1="448.6" x2="613.2" y2="452.9" stroke="#000" stroke-width="1.9"/>
<line x1="638.7" y1="448.6" x2="638.7" y2="456.4" stroke="#000" stroke-width="1.9"/>
<line x1="664.2" y1="448.6" x2="664.2" y2="452.9" stroke="#000" stroke-width="1.9"/>
<line x1="689.7" y1="448.6" x2="689.7" y2="456.4" stroke="#000" stroke-width="1.9"/>
<text x="37.7" y="476.2" font-size="18" text-anchor="middle" font-family="Liberation Serif, Times New Roman, serif">20</text>
<text x="114.4" y="476.2" font-size="18" text-anchor="middle" font-family="Liberation Serif, Times New Roman, serif">30</text>
<text x="191.1" y="476.2" font-size="18" text-anchor="middle" font-family="Liberation Serif, Times New Roman, serif">40</text>
<text x="267.8" y="476.2" font-size="18" text-anchor="middle" font-family="Liberation Serif, Times New Roman, serif">50</text>
<text x="344.4" y="476.2" font-size="18" text-anchor="middle" font-family="Liberation Serif, Times New Roman, serif">60</text>
<text x="421.1" y="476.2" font-size="18" text-anchor="middle" font-family="Liberation Serif, Times New Roman, serif">70</text>
<text x="497.8" y="476.2" font-size="18" text-anchor="middle" font-family="Liberation Serif, Times New Roman, serif">80</text>
<text x="536.7" y="476.2" font-size="18" text-anchor="middle" font-family="Liberation Serif, Times New Roman, serif">30</text>
<text x="587.7" y="476.2" font-size="18" text-anchor="middle" font-family="Liberation Serif, Times New Roman, serif">32</text>
<text x="638.7" y="476.2" font-size="18" text-anchor="middle" font-family="Liberation Serif, Times New Roman, serif">34</text>
<text x="689.7" y="476.2" font-size="18" text-anchor="middle" font-family="Liberation Serif, Times New Roman, serif">36</text>
<text x="267.5" y="513" font-size="22.3" text-anchor="middle" font-family="Liberation Serif, Times New Roman, serif">2θ(degree)</text>
<text x="613.4" y="513" font-size="22.3" text-anchor="middle" font-family="Liberation Serif, Times New Roman, serif">2θ(degree)</text>
<text transform="translate(19.3,227.2) rotate(-90)" font-size="22.3" text-anchor="middle" font-family="Liberation Serif, Times New Roman, serif">Intensity(a.u.)</text>
<text x="-0.6" y="19.5" font-size="27.8" font-weight="bold" font-family="Liberation Serif, Times New Roman, serif">(a)</text>
<text x="500.2" y="22.7" font-size="28.3" font-weight="bold" font-family="Liberation Serif, Times New Roman, serif">(b)</text>
<text x="447.2" y="54.3" font-size="19.6" text-anchor="middle" font-family="Liberation Serif, Times New Roman, serif">x=0.05</text>
<text x="447.2" y="116.8" font-size="19.6" text-anchor="middle" font-family="Liberation Serif, Times New Roman, serif">x=0.04</text>
<text x="447.0" y="179.6" font-size="19.6" text-anchor="middle" font-family="Liberation Serif, Times New Roman, serif">x=0.03</text>
<text x="447.0" y="232.9" font-size="19.6" text-anchor="middle" font-family="Liberation Serif, Times New Roman, serif">x=0.02</text>
<text x="447.0" y="300.6" font-size="19.6" text-anchor="middle" font-family="Liberation Serif, Times New Roman, serif">x=0.01</text>
<text x="446.0" y="352.4" font-size="19.6" text-anchor="middle" font-family="Liberation Serif, Times New Roman, serif">x=0</text>
<text x="437.5" y="415.6" font-size="19.6" text-anchor="middle" font-family="Liberation Serif, Times New Roman, serif">PDF#46-0001</text>
</svg>
</body></html>
